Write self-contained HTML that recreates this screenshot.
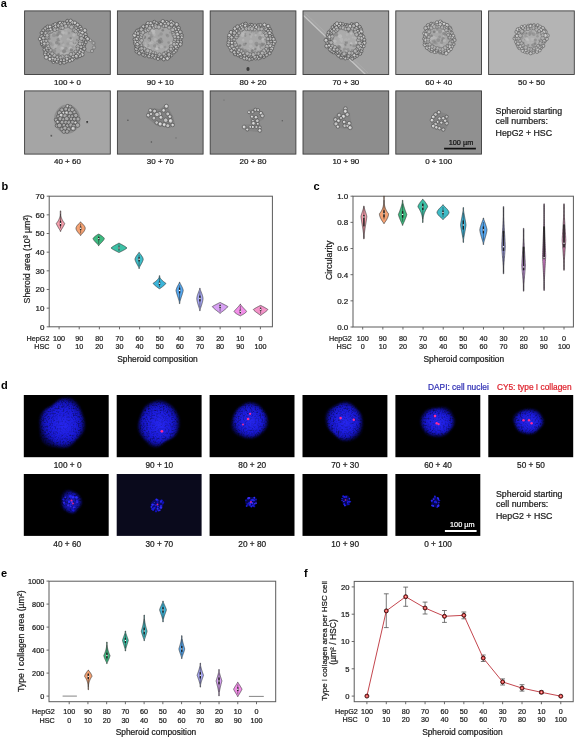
<!DOCTYPE html>
<html><head><meta charset="utf-8"><title>Spheroid figure</title>
<style>html,body{margin:0;padding:0;background:#fff;} svg{display:block;}</style></head>
<body><svg width="575" height="737" viewBox="0 0 575 737" font-family="'Liberation Sans', Arial, sans-serif">
<defs>
<filter id="soft" x="-5%" y="-5%" width="110%" height="110%"><feGaussianBlur stdDeviation="0.3"/></filter>
<radialGradient id="gblue" cx="50%" cy="50%" r="50%">
<stop offset="0%" stop-color="#2424e8"/><stop offset="55%" stop-color="#1c1cdc"/><stop offset="82%" stop-color="#1515c8" stop-opacity="0.95"/><stop offset="100%" stop-color="#0a0a90" stop-opacity="0.5"/></radialGradient>
<radialGradient id="gcore" cx="50%" cy="50%" r="50%">
<stop offset="0%" stop-color="#2828f4" stop-opacity="0.7"/><stop offset="60%" stop-color="#2020e8" stop-opacity="0.35"/><stop offset="100%" stop-color="#1a1af0" stop-opacity="0"/></radialGradient>
<filter id="speck" x="-15%" y="-15%" width="130%" height="130%" color-interpolation-filters="sRGB">
<feGaussianBlur in="SourceGraphic" stdDeviation="0.9" result="b"/>
<feTurbulence type="fractalNoise" baseFrequency="0.6" numOctaves="2" seed="4" result="n"/>
<feColorMatrix in="n" type="matrix" values="0 0 0 0 0  0 0 0 0 0  0 0 0 0 0  1.4 0 0 0 0.22" result="m"/>
<feComposite in="b" in2="m" operator="in"/>
</filter>
</defs>
<rect width="575" height="737" fill="#fff"/>
<g><rect x="24.60" y="10.90" width="85.7" height="63.6" fill="#929292"/>
<g filter="url(#soft)"><ellipse cx="89.5" cy="46" rx="5.5" ry="6.5" fill="#9d9d9d" stroke="#707070" stroke-width="0.5"/><circle cx="93.5" cy="43.0" r="1.56" fill="#b0b0b0" stroke="#666" stroke-width="0.6"/>
<circle cx="94.0" cy="47.5" r="1.63" fill="#b0b0b0" stroke="#666" stroke-width="0.6"/>
<circle cx="92.0" cy="51.0" r="1.61" fill="#b0b0b0" stroke="#666" stroke-width="0.6"/>
<circle cx="90.5" cy="40.5" r="1.29" fill="#b0b0b0" stroke="#666" stroke-width="0.6"/>
<circle cx="90.2" cy="40.2" r="0.58" fill="#ececec" opacity="0.75"/><polygon points="85.74,41.80 85.06,43.51 84.43,45.15 83.89,46.75 83.45,48.38 83.01,50.05 82.47,51.73 81.72,53.36 80.71,54.88 79.42,56.21 77.92,57.35 76.26,58.28 74.54,59.06 72.78,59.74 71.01,60.36 69.23,60.94 67.40,61.46 65.53,61.89 63.60,62.20 61.63,62.35 59.63,62.34 57.62,62.14 55.62,61.77 53.66,61.22 51.78,60.45 50.02,59.47 48.45,58.26 47.10,56.84 46.00,55.26 45.13,53.58 44.45,51.87 43.87,50.18 43.30,48.53 42.70,46.90 42.05,45.26 41.41,43.57 40.86,41.80 40.50,39.96 40.42,38.08 40.68,36.20 41.28,34.40 42.19,32.70 43.36,31.15 44.73,29.76 46.25,28.53 47.88,27.48 49.60,26.60 51.38,25.89 53.16,25.33 54.93,24.86 56.66,24.42 58.35,23.94 60.04,23.39 61.77,22.76 63.60,22.11 65.54,21.55 67.59,21.19 69.67,21.15 71.72,21.47 73.65,22.16 75.42,23.15 77.03,24.32 78.54,25.58 79.99,26.87 81.44,28.16 82.87,29.51 84.22,30.95 85.39,32.54 86.23,34.30 86.67,36.17 86.68,38.09 86.33,39.99" fill="#a6a6a6"/>
<circle cx="76.1" cy="49.1" r="1.6" fill="#bcbcbc" opacity="0.56"/>
<circle cx="54.5" cy="48.2" r="1.6" fill="#bcbcbc" opacity="0.41"/>
<circle cx="75.3" cy="42.8" r="0.9" fill="#727272" opacity="0.66"/>
<circle cx="51.3" cy="33.7" r="1.4" fill="#b8b8b8" opacity="0.64"/>
<circle cx="49.7" cy="40.3" r="0.9" fill="#c4c4c4" opacity="0.38"/>
<circle cx="57.9" cy="34.1" r="2.0" fill="#8a8a8a" opacity="0.64"/>
<circle cx="61.4" cy="34.3" r="1.5" fill="#7e7e7e" opacity="0.36"/>
<circle cx="58.2" cy="39.7" r="1.8" fill="#727272" opacity="0.49"/>
<circle cx="79.5" cy="37.9" r="1.1" fill="#727272" opacity="0.67"/>
<circle cx="72.8" cy="44.6" r="1.3" fill="#bcbcbc" opacity="0.38"/>
<circle cx="53.6" cy="32.1" r="1.3" fill="#b8b8b8" opacity="0.46"/>
<circle cx="73.9" cy="42.7" r="1.0" fill="#727272" opacity="0.60"/>
<circle cx="74.6" cy="42.5" r="1.1" fill="#c4c4c4" opacity="0.55"/>
<circle cx="56.9" cy="43.9" r="1.7" fill="#bcbcbc" opacity="0.50"/>
<circle cx="55.5" cy="48.4" r="0.9" fill="#7e7e7e" opacity="0.65"/>
<circle cx="76.9" cy="39.9" r="1.1" fill="#727272" opacity="0.49"/>
<circle cx="72.1" cy="31.7" r="0.9" fill="#727272" opacity="0.40"/>
<circle cx="62.1" cy="42.3" r="1.3" fill="#8a8a8a" opacity="0.45"/>
<circle cx="67.9" cy="43.8" r="1.6" fill="#8a8a8a" opacity="0.36"/>
<circle cx="54.2" cy="51.1" r="2.0" fill="#7e7e7e" opacity="0.52"/>
<circle cx="48.9" cy="35.0" r="1.6" fill="#7e7e7e" opacity="0.46"/>
<circle cx="65.3" cy="53.4" r="1.1" fill="#bcbcbc" opacity="0.61"/>
<circle cx="71.1" cy="39.1" r="1.9" fill="#c4c4c4" opacity="0.56"/>
<circle cx="58.9" cy="44.1" r="1.5" fill="#727272" opacity="0.44"/>
<circle cx="63.0" cy="32.8" r="1.8" fill="#c4c4c4" opacity="0.56"/>
<circle cx="61.6" cy="48.2" r="2.0" fill="#bcbcbc" opacity="0.39"/>
<circle cx="50.3" cy="43.4" r="1.6" fill="#8a8a8a" opacity="0.45"/>
<circle cx="70.6" cy="38.2" r="1.0" fill="#727272" opacity="0.49"/>
<circle cx="63.6" cy="45.1" r="1.3" fill="#b8b8b8" opacity="0.55"/>
<circle cx="70.4" cy="48.6" r="2.0" fill="#c4c4c4" opacity="0.58"/>
<circle cx="59.4" cy="31.9" r="1.5" fill="#7e7e7e" opacity="0.67"/>
<circle cx="53.9" cy="43.2" r="2.0" fill="#b8b8b8" opacity="0.36"/>
<circle cx="56.1" cy="34.0" r="1.2" fill="#bcbcbc" opacity="0.40"/>
<circle cx="73.3" cy="46.1" r="1.7" fill="#b8b8b8" opacity="0.67"/>
<circle cx="62.5" cy="29.8" r="1.3" fill="#b8b8b8" opacity="0.59"/>
<circle cx="77.0" cy="33.1" r="1.9" fill="#c4c4c4" opacity="0.36"/>
<circle cx="61.5" cy="41.8" r="1.3" fill="#bcbcbc" opacity="0.55"/>
<circle cx="59.9" cy="39.0" r="1.0" fill="#bcbcbc" opacity="0.44"/>
<circle cx="55.4" cy="46.2" r="1.7" fill="#bcbcbc" opacity="0.51"/>
<circle cx="52.0" cy="44.3" r="1.7" fill="#8a8a8a" opacity="0.36"/>
<circle cx="54.0" cy="35.3" r="2.0" fill="#7e7e7e" opacity="0.39"/>
<circle cx="66.2" cy="29.2" r="1.2" fill="#c4c4c4" opacity="0.35"/>
<circle cx="59.1" cy="54.2" r="1.5" fill="#7e7e7e" opacity="0.61"/>
<circle cx="54.2" cy="54.8" r="1.9" fill="#c4c4c4" opacity="0.46"/>
<circle cx="60.1" cy="36.3" r="1.8" fill="#c4c4c4" opacity="0.61"/>
<circle cx="65.9" cy="48.3" r="1.5" fill="#7e7e7e" opacity="0.46"/>
<circle cx="71.3" cy="49.9" r="1.7" fill="#727272" opacity="0.68"/>
<circle cx="62.4" cy="48.1" r="1.4" fill="#c4c4c4" opacity="0.67"/>
<circle cx="68.9" cy="33.1" r="1.4" fill="#8a8a8a" opacity="0.46"/>
<circle cx="72.9" cy="28.3" r="1.3" fill="#c4c4c4" opacity="0.64"/>
<circle cx="61.2" cy="53.8" r="1.7" fill="#bcbcbc" opacity="0.55"/>
<circle cx="57.9" cy="55.0" r="1.6" fill="#727272" opacity="0.49"/>
<circle cx="68.9" cy="53.9" r="1.2" fill="#b8b8b8" opacity="0.40"/>
<circle cx="75.6" cy="45.1" r="1.0" fill="#c4c4c4" opacity="0.54"/>
<circle cx="57.3" cy="34.9" r="1.7" fill="#727272" opacity="0.42"/>
<circle cx="56.7" cy="42.8" r="1.7" fill="#727272" opacity="0.54"/>
<circle cx="70.9" cy="43.3" r="1.5" fill="#b8b8b8" opacity="0.68"/>
<circle cx="46.6" cy="41.8" r="1.3" fill="#7e7e7e" opacity="0.63"/>
<circle cx="67.9" cy="39.2" r="1.3" fill="#bcbcbc" opacity="0.51"/>
<circle cx="68.6" cy="55.0" r="1.3" fill="#727272" opacity="0.55"/>
<circle cx="74.9" cy="32.1" r="1.4" fill="#b8b8b8" opacity="0.58"/>
<circle cx="67.5" cy="53.9" r="1.9" fill="#bcbcbc" opacity="0.39"/>
<circle cx="64.1" cy="51.3" r="2.0" fill="#727272" opacity="0.54"/>
<circle cx="66.1" cy="33.0" r="1.8" fill="#bcbcbc" opacity="0.47"/>
<circle cx="73.0" cy="46.7" r="1.4" fill="#8a8a8a" opacity="0.45"/>
<circle cx="70.9" cy="38.1" r="1.4" fill="#727272" opacity="0.36"/>
<circle cx="49.2" cy="39.0" r="1.4" fill="#7e7e7e" opacity="0.70"/>
<circle cx="73.9" cy="35.0" r="1.7" fill="#bcbcbc" opacity="0.68"/>
<circle cx="47.2" cy="42.5" r="1.7" fill="#727272" opacity="0.50"/>
<circle cx="48.5" cy="36.5" r="1.6" fill="#8a8a8a" opacity="0.53"/>
<circle cx="85.7" cy="42.3" r="1.59" fill="#b3b3b3" stroke="#474747" stroke-width="0.65"/>
<circle cx="83.9" cy="44.8" r="1.92" fill="#b3b3b3" stroke="#474747" stroke-width="0.65"/>
<circle cx="83.3" cy="46.7" r="1.73" fill="#b3b3b3" stroke="#474747" stroke-width="0.65"/>
<circle cx="84.3" cy="48.8" r="1.72" fill="#b3b3b3" stroke="#474747" stroke-width="0.65"/>
<circle cx="82.4" cy="51.8" r="1.82" fill="#c8c8c8" stroke="#474747" stroke-width="0.65"/>
<circle cx="82.1" cy="54.6" r="1.97" fill="#c8c8c8" stroke="#474747" stroke-width="0.65"/>
<circle cx="79.8" cy="55.7" r="1.90" fill="#b3b3b3" stroke="#474747" stroke-width="0.65"/>
<circle cx="76.9" cy="57.2" r="1.78" fill="#b3b3b3" stroke="#474747" stroke-width="0.65"/>
<circle cx="76.5" cy="56.8" r="0.71" fill="#e6e6e6" opacity="0.6"/>
<circle cx="73.6" cy="58.4" r="1.52" fill="#c8c8c8" stroke="#474747" stroke-width="0.65"/>
<circle cx="72.1" cy="59.7" r="1.78" fill="#c8c8c8" stroke="#474747" stroke-width="0.65"/>
<circle cx="69.8" cy="60.8" r="1.55" fill="#c8c8c8" stroke="#474747" stroke-width="0.65"/>
<circle cx="66.5" cy="61.4" r="1.65" fill="#b3b3b3" stroke="#474747" stroke-width="0.65"/>
<circle cx="66.1" cy="61.0" r="0.66" fill="#e6e6e6" opacity="0.6"/>
<circle cx="64.1" cy="62.4" r="1.79" fill="#b3b3b3" stroke="#474747" stroke-width="0.65"/>
<circle cx="60.3" cy="63.1" r="1.54" fill="#b3b3b3" stroke="#474747" stroke-width="0.65"/>
<circle cx="57.0" cy="61.7" r="1.59" fill="#b3b3b3" stroke="#474747" stroke-width="0.65"/>
<circle cx="56.6" cy="61.3" r="0.64" fill="#e6e6e6" opacity="0.6"/>
<circle cx="53.4" cy="62.0" r="1.48" fill="#c8c8c8" stroke="#474747" stroke-width="0.65"/>
<circle cx="52.6" cy="59.9" r="1.91" fill="#b3b3b3" stroke="#474747" stroke-width="0.65"/>
<circle cx="49.9" cy="59.1" r="1.82" fill="#c8c8c8" stroke="#474747" stroke-width="0.65"/>
<circle cx="49.5" cy="58.7" r="0.73" fill="#e6e6e6" opacity="0.6"/>
<circle cx="46.2" cy="57.2" r="1.99" fill="#c8c8c8" stroke="#474747" stroke-width="0.65"/>
<circle cx="45.3" cy="54.0" r="1.82" fill="#c8c8c8" stroke="#474747" stroke-width="0.65"/>
<circle cx="44.9" cy="53.6" r="0.73" fill="#e6e6e6" opacity="0.6"/>
<circle cx="45.6" cy="52.0" r="1.74" fill="#b3b3b3" stroke="#474747" stroke-width="0.65"/>
<circle cx="44.4" cy="49.6" r="1.52" fill="#b3b3b3" stroke="#474747" stroke-width="0.65"/>
<circle cx="43.3" cy="46.1" r="1.44" fill="#b3b3b3" stroke="#474747" stroke-width="0.65"/>
<circle cx="42.0" cy="44.0" r="1.69" fill="#b3b3b3" stroke="#474747" stroke-width="0.65"/>
<circle cx="41.9" cy="41.6" r="1.83" fill="#b3b3b3" stroke="#474747" stroke-width="0.65"/>
<circle cx="41.5" cy="41.2" r="0.73" fill="#e6e6e6" opacity="0.6"/>
<circle cx="39.9" cy="39.0" r="1.65" fill="#c8c8c8" stroke="#474747" stroke-width="0.65"/>
<circle cx="39.5" cy="38.6" r="0.66" fill="#e6e6e6" opacity="0.6"/>
<circle cx="41.8" cy="36.5" r="1.95" fill="#b3b3b3" stroke="#474747" stroke-width="0.65"/>
<circle cx="41.7" cy="32.9" r="1.65" fill="#b3b3b3" stroke="#474747" stroke-width="0.65"/>
<circle cx="43.3" cy="30.2" r="1.56" fill="#b3b3b3" stroke="#474747" stroke-width="0.65"/>
<circle cx="45.3" cy="28.4" r="1.65" fill="#b3b3b3" stroke="#474747" stroke-width="0.65"/>
<circle cx="47.8" cy="26.9" r="1.87" fill="#b3b3b3" stroke="#474747" stroke-width="0.65"/>
<circle cx="50.0" cy="26.8" r="1.69" fill="#c8c8c8" stroke="#474747" stroke-width="0.65"/>
<circle cx="49.6" cy="26.4" r="0.67" fill="#e6e6e6" opacity="0.6"/>
<circle cx="53.3" cy="25.1" r="1.54" fill="#b3b3b3" stroke="#474747" stroke-width="0.65"/>
<circle cx="55.4" cy="24.4" r="1.75" fill="#b3b3b3" stroke="#474747" stroke-width="0.65"/>
<circle cx="55.0" cy="24.0" r="0.70" fill="#e6e6e6" opacity="0.6"/>
<circle cx="59.0" cy="23.4" r="1.83" fill="#b3b3b3" stroke="#474747" stroke-width="0.65"/>
<circle cx="60.1" cy="23.1" r="1.85" fill="#c8c8c8" stroke="#474747" stroke-width="0.65"/>
<circle cx="62.9" cy="23.0" r="1.63" fill="#c8c8c8" stroke="#474747" stroke-width="0.65"/>
<circle cx="62.5" cy="22.6" r="0.65" fill="#e6e6e6" opacity="0.6"/>
<circle cx="67.3" cy="21.1" r="1.71" fill="#b3b3b3" stroke="#474747" stroke-width="0.65"/>
<circle cx="70.7" cy="21.0" r="1.90" fill="#c8c8c8" stroke="#474747" stroke-width="0.65"/>
<circle cx="72.7" cy="22.8" r="1.97" fill="#c8c8c8" stroke="#474747" stroke-width="0.65"/>
<circle cx="74.9" cy="22.8" r="1.77" fill="#c8c8c8" stroke="#474747" stroke-width="0.65"/>
<circle cx="77.7" cy="24.8" r="1.77" fill="#b3b3b3" stroke="#474747" stroke-width="0.65"/>
<circle cx="77.3" cy="24.4" r="0.71" fill="#e6e6e6" opacity="0.6"/>
<circle cx="80.3" cy="27.0" r="1.57" fill="#b3b3b3" stroke="#474747" stroke-width="0.65"/>
<circle cx="79.9" cy="26.6" r="0.63" fill="#e6e6e6" opacity="0.6"/>
<circle cx="81.1" cy="28.6" r="1.43" fill="#c8c8c8" stroke="#474747" stroke-width="0.65"/>
<circle cx="84.9" cy="30.4" r="1.86" fill="#c8c8c8" stroke="#474747" stroke-width="0.65"/>
<circle cx="85.2" cy="34.4" r="1.95" fill="#b3b3b3" stroke="#474747" stroke-width="0.65"/>
<circle cx="86.1" cy="37.1" r="1.72" fill="#b3b3b3" stroke="#474747" stroke-width="0.65"/>
<circle cx="87.7" cy="38.9" r="1.90" fill="#b3b3b3" stroke="#474747" stroke-width="0.65"/>
<circle cx="87.3" cy="38.5" r="0.76" fill="#e6e6e6" opacity="0.6"/>
<circle cx="82.7" cy="42.0" r="1.52" fill="#c8c8c8" stroke="#474747" stroke-width="0.65"/>
<circle cx="82.0" cy="43.8" r="1.81" fill="#b3b3b3" stroke="#474747" stroke-width="0.65"/>
<circle cx="81.6" cy="43.4" r="0.72" fill="#e6e6e6" opacity="0.6"/>
<circle cx="80.9" cy="46.9" r="1.88" fill="#b3b3b3" stroke="#474747" stroke-width="0.65"/>
<circle cx="80.5" cy="50.3" r="1.55" fill="#c8c8c8" stroke="#474747" stroke-width="0.65"/>
<circle cx="79.3" cy="52.4" r="1.62" fill="#c8c8c8" stroke="#474747" stroke-width="0.65"/>
<circle cx="77.7" cy="54.3" r="1.79" fill="#b3b3b3" stroke="#474747" stroke-width="0.65"/>
<circle cx="77.3" cy="53.9" r="0.72" fill="#e6e6e6" opacity="0.6"/>
<circle cx="76.3" cy="56.2" r="1.96" fill="#b3b3b3" stroke="#474747" stroke-width="0.65"/>
<circle cx="75.9" cy="55.8" r="0.78" fill="#e6e6e6" opacity="0.6"/>
<circle cx="73.1" cy="56.4" r="1.66" fill="#b3b3b3" stroke="#474747" stroke-width="0.65"/>
<circle cx="72.7" cy="56.0" r="0.66" fill="#e6e6e6" opacity="0.6"/>
<circle cx="69.6" cy="57.3" r="1.45" fill="#b3b3b3" stroke="#474747" stroke-width="0.65"/>
<circle cx="67.0" cy="58.7" r="1.69" fill="#c8c8c8" stroke="#474747" stroke-width="0.65"/>
<circle cx="66.6" cy="58.3" r="0.68" fill="#e6e6e6" opacity="0.6"/>
<circle cx="63.9" cy="60.1" r="1.45" fill="#c8c8c8" stroke="#474747" stroke-width="0.65"/>
<circle cx="61.0" cy="60.2" r="1.53" fill="#b3b3b3" stroke="#474747" stroke-width="0.65"/>
<circle cx="60.6" cy="59.8" r="0.61" fill="#e6e6e6" opacity="0.6"/>
<circle cx="57.8" cy="59.2" r="1.80" fill="#b3b3b3" stroke="#474747" stroke-width="0.65"/>
<circle cx="57.4" cy="58.8" r="0.72" fill="#e6e6e6" opacity="0.6"/>
<circle cx="54.9" cy="59.2" r="1.96" fill="#b3b3b3" stroke="#474747" stroke-width="0.65"/>
<circle cx="54.5" cy="58.8" r="0.79" fill="#e6e6e6" opacity="0.6"/>
<circle cx="52.7" cy="58.5" r="1.45" fill="#c8c8c8" stroke="#474747" stroke-width="0.65"/>
<circle cx="49.8" cy="56.0" r="1.58" fill="#b3b3b3" stroke="#474747" stroke-width="0.65"/>
<circle cx="49.4" cy="55.6" r="0.63" fill="#e6e6e6" opacity="0.6"/>
<circle cx="48.2" cy="54.0" r="1.45" fill="#b3b3b3" stroke="#474747" stroke-width="0.65"/>
<circle cx="47.3" cy="50.3" r="1.49" fill="#b3b3b3" stroke="#474747" stroke-width="0.65"/>
<circle cx="46.9" cy="48.2" r="1.83" fill="#b3b3b3" stroke="#474747" stroke-width="0.65"/>
<circle cx="44.2" cy="45.2" r="1.67" fill="#b3b3b3" stroke="#474747" stroke-width="0.65"/>
<circle cx="43.8" cy="44.8" r="0.67" fill="#e6e6e6" opacity="0.6"/>
<circle cx="44.5" cy="43.4" r="1.97" fill="#b3b3b3" stroke="#474747" stroke-width="0.65"/>
<circle cx="44.1" cy="43.0" r="0.79" fill="#e6e6e6" opacity="0.6"/>
<circle cx="43.8" cy="40.6" r="1.62" fill="#b3b3b3" stroke="#474747" stroke-width="0.65"/>
<circle cx="43.4" cy="40.2" r="0.65" fill="#e6e6e6" opacity="0.6"/>
<circle cx="43.3" cy="38.0" r="1.89" fill="#b3b3b3" stroke="#474747" stroke-width="0.65"/>
<circle cx="45.1" cy="34.9" r="1.86" fill="#b3b3b3" stroke="#474747" stroke-width="0.65"/>
<circle cx="44.7" cy="34.5" r="0.75" fill="#e6e6e6" opacity="0.6"/>
<circle cx="45.6" cy="33.0" r="1.73" fill="#b3b3b3" stroke="#474747" stroke-width="0.65"/>
<circle cx="48.1" cy="29.8" r="1.44" fill="#b3b3b3" stroke="#474747" stroke-width="0.65"/>
<circle cx="50.8" cy="29.7" r="1.85" fill="#b3b3b3" stroke="#474747" stroke-width="0.65"/>
<circle cx="50.4" cy="29.3" r="0.74" fill="#e6e6e6" opacity="0.6"/>
<circle cx="54.2" cy="28.2" r="1.86" fill="#b3b3b3" stroke="#474747" stroke-width="0.65"/>
<circle cx="53.8" cy="27.8" r="0.74" fill="#e6e6e6" opacity="0.6"/>
<circle cx="55.7" cy="26.7" r="1.72" fill="#b3b3b3" stroke="#474747" stroke-width="0.65"/>
<circle cx="55.3" cy="26.3" r="0.69" fill="#e6e6e6" opacity="0.6"/>
<circle cx="58.4" cy="25.6" r="1.81" fill="#b3b3b3" stroke="#474747" stroke-width="0.65"/>
<circle cx="61.8" cy="24.9" r="1.96" fill="#b3b3b3" stroke="#474747" stroke-width="0.65"/>
<circle cx="64.7" cy="23.7" r="1.89" fill="#b3b3b3" stroke="#474747" stroke-width="0.65"/>
<circle cx="68.4" cy="23.6" r="1.72" fill="#b3b3b3" stroke="#474747" stroke-width="0.65"/>
<circle cx="70.4" cy="24.2" r="1.49" fill="#b3b3b3" stroke="#474747" stroke-width="0.65"/>
<circle cx="72.9" cy="25.7" r="1.53" fill="#b3b3b3" stroke="#474747" stroke-width="0.65"/>
<circle cx="72.5" cy="25.3" r="0.61" fill="#e6e6e6" opacity="0.6"/>
<circle cx="76.0" cy="28.3" r="1.59" fill="#c8c8c8" stroke="#474747" stroke-width="0.65"/>
<circle cx="78.0" cy="29.8" r="1.44" fill="#b3b3b3" stroke="#474747" stroke-width="0.65"/>
<circle cx="80.1" cy="32.1" r="1.47" fill="#c8c8c8" stroke="#474747" stroke-width="0.65"/>
<circle cx="79.7" cy="31.7" r="0.59" fill="#e6e6e6" opacity="0.6"/>
<circle cx="82.4" cy="32.8" r="1.76" fill="#c8c8c8" stroke="#474747" stroke-width="0.65"/>
<circle cx="82.0" cy="32.4" r="0.71" fill="#e6e6e6" opacity="0.6"/>
<circle cx="82.8" cy="35.9" r="1.86" fill="#b3b3b3" stroke="#474747" stroke-width="0.65"/>
<circle cx="83.5" cy="39.5" r="1.56" fill="#b3b3b3" stroke="#474747" stroke-width="0.65"/>
<circle cx="80.2" cy="41.5" r="1.99" fill="#b0b0b0" stroke="#474747" stroke-width="0.45"/>
<circle cx="79.9" cy="43.8" r="1.89" fill="#b0b0b0" stroke="#474747" stroke-width="0.45"/>
<circle cx="77.9" cy="46.7" r="2.01" fill="#b0b0b0" stroke="#474747" stroke-width="0.45"/>
<circle cx="77.7" cy="48.6" r="1.63" fill="#b0b0b0" stroke="#474747" stroke-width="0.45"/>
<circle cx="75.5" cy="51.5" r="1.50" fill="#b0b0b0" stroke="#474747" stroke-width="0.45"/>
<circle cx="73.3" cy="53.8" r="1.79" fill="#b0b0b0" stroke="#474747" stroke-width="0.45"/>
<circle cx="70.9" cy="54.3" r="1.87" fill="#b0b0b0" stroke="#474747" stroke-width="0.45"/>
<circle cx="68.1" cy="56.3" r="1.45" fill="#b0b0b0" stroke="#474747" stroke-width="0.45"/>
<circle cx="66.5" cy="56.3" r="1.69" fill="#b0b0b0" stroke="#474747" stroke-width="0.45"/>
<circle cx="62.2" cy="56.7" r="1.88" fill="#b0b0b0" stroke="#474747" stroke-width="0.45"/>
<circle cx="60.5" cy="57.5" r="1.53" fill="#b0b0b0" stroke="#474747" stroke-width="0.45"/>
<circle cx="57.2" cy="57.0" r="1.59" fill="#b0b0b0" stroke="#474747" stroke-width="0.45"/>
<circle cx="54.3" cy="55.3" r="1.84" fill="#b0b0b0" stroke="#474747" stroke-width="0.45"/>
<circle cx="52.2" cy="53.6" r="1.68" fill="#b0b0b0" stroke="#474747" stroke-width="0.45"/>
<circle cx="50.6" cy="50.1" r="1.63" fill="#b0b0b0" stroke="#474747" stroke-width="0.45"/>
<circle cx="49.1" cy="48.1" r="1.41" fill="#b0b0b0" stroke="#474747" stroke-width="0.45"/>
<circle cx="48.2" cy="46.2" r="1.58" fill="#b0b0b0" stroke="#474747" stroke-width="0.45"/>
<circle cx="47.6" cy="43.4" r="1.64" fill="#b0b0b0" stroke="#474747" stroke-width="0.45"/>
<circle cx="46.2" cy="40.9" r="1.60" fill="#b0b0b0" stroke="#474747" stroke-width="0.45"/>
<circle cx="47.1" cy="37.2" r="1.91" fill="#b0b0b0" stroke="#474747" stroke-width="0.45"/>
<circle cx="47.2" cy="35.4" r="1.83" fill="#b0b0b0" stroke="#474747" stroke-width="0.45"/>
<circle cx="50.2" cy="32.2" r="1.46" fill="#b0b0b0" stroke="#474747" stroke-width="0.45"/>
<circle cx="51.8" cy="31.5" r="1.44" fill="#b0b0b0" stroke="#474747" stroke-width="0.45"/>
<circle cx="54.9" cy="29.7" r="1.87" fill="#b0b0b0" stroke="#474747" stroke-width="0.45"/>
<circle cx="57.4" cy="29.3" r="1.41" fill="#b0b0b0" stroke="#474747" stroke-width="0.45"/>
<circle cx="60.9" cy="27.8" r="1.80" fill="#b0b0b0" stroke="#474747" stroke-width="0.45"/>
<circle cx="62.6" cy="27.8" r="1.80" fill="#b0b0b0" stroke="#474747" stroke-width="0.45"/>
<circle cx="65.9" cy="26.2" r="1.91" fill="#b0b0b0" stroke="#474747" stroke-width="0.45"/>
<circle cx="69.7" cy="26.1" r="1.74" fill="#b0b0b0" stroke="#474747" stroke-width="0.45"/>
<circle cx="71.5" cy="27.1" r="2.00" fill="#b0b0b0" stroke="#474747" stroke-width="0.45"/>
<circle cx="74.5" cy="30.3" r="1.98" fill="#b0b0b0" stroke="#474747" stroke-width="0.45"/>
<circle cx="75.7" cy="31.3" r="1.75" fill="#b0b0b0" stroke="#474747" stroke-width="0.45"/>
<circle cx="79.0" cy="34.3" r="1.68" fill="#b0b0b0" stroke="#474747" stroke-width="0.45"/>
<circle cx="80.7" cy="35.2" r="1.73" fill="#b0b0b0" stroke="#474747" stroke-width="0.45"/>
<circle cx="81.4" cy="38.4" r="2.01" fill="#b0b0b0" stroke="#474747" stroke-width="0.45"/></g>
<rect x="24.60" y="10.90" width="85.7" height="63.6" fill="none" stroke="#3c3c3c" stroke-width="0.9"/></g>
<g><rect x="117.40" y="10.90" width="85.7" height="63.6" fill="#8f8f8f"/>
<g filter="url(#soft)"><polygon points="181.01,39.80 180.69,41.37 180.15,42.89 179.45,44.35 178.68,45.76 177.87,47.13 177.04,48.50 176.17,49.87 175.22,51.24 174.14,52.58 172.91,53.86 171.50,55.06 169.92,56.15 168.19,57.09 166.31,57.86 164.31,58.44 162.23,58.78 160.11,58.86 158.00,58.68 155.96,58.26 154.02,57.68 152.17,57.03 150.38,56.38 148.57,55.80 146.70,55.30 144.72,54.81 142.67,54.26 140.64,53.54 138.79,52.56 137.25,51.30 136.12,49.80 135.42,48.14 135.08,46.40 134.97,44.68 134.95,43.02 134.91,41.40 134.82,39.80 134.72,38.19 134.73,36.55 134.97,34.92 135.52,33.32 136.41,31.83 137.59,30.48 138.97,29.25 140.45,28.14 141.95,27.10 143.47,26.09 145.02,25.13 146.66,24.25 148.42,23.53 150.28,23.02 152.22,22.73 154.18,22.63 156.10,22.64 158.00,22.66 159.90,22.58 161.88,22.39 163.98,22.13 166.23,21.89 168.58,21.84 170.92,22.09 173.10,22.73 175.00,23.76 176.54,25.13 177.71,26.71 178.57,28.40 179.22,30.10 179.76,31.77 180.23,33.40 180.65,35.00 180.96,36.60 181.10,38.20" fill="#a6a6a6"/>
<circle cx="165.1" cy="47.1" r="1.3" fill="#7e7e7e" opacity="0.42"/>
<circle cx="150.9" cy="36.9" r="1.7" fill="#8a8a8a" opacity="0.47"/>
<circle cx="143.6" cy="47.6" r="1.9" fill="#727272" opacity="0.64"/>
<circle cx="153.8" cy="34.4" r="1.9" fill="#c4c4c4" opacity="0.39"/>
<circle cx="151.9" cy="42.3" r="1.9" fill="#b8b8b8" opacity="0.55"/>
<circle cx="174.2" cy="37.9" r="1.1" fill="#8a8a8a" opacity="0.64"/>
<circle cx="148.0" cy="45.5" r="1.4" fill="#8a8a8a" opacity="0.56"/>
<circle cx="144.2" cy="36.9" r="2.0" fill="#727272" opacity="0.69"/>
<circle cx="152.8" cy="32.9" r="1.9" fill="#b8b8b8" opacity="0.48"/>
<circle cx="154.9" cy="46.0" r="1.3" fill="#b8b8b8" opacity="0.53"/>
<circle cx="162.8" cy="30.3" r="1.3" fill="#727272" opacity="0.65"/>
<circle cx="160.6" cy="40.2" r="1.4" fill="#bcbcbc" opacity="0.49"/>
<circle cx="158.7" cy="35.6" r="1.1" fill="#8a8a8a" opacity="0.38"/>
<circle cx="156.3" cy="48.7" r="1.3" fill="#c4c4c4" opacity="0.57"/>
<circle cx="168.6" cy="42.6" r="1.3" fill="#7e7e7e" opacity="0.51"/>
<circle cx="152.9" cy="28.1" r="2.0" fill="#7e7e7e" opacity="0.41"/>
<circle cx="167.7" cy="35.8" r="1.7" fill="#7e7e7e" opacity="0.43"/>
<circle cx="144.9" cy="31.5" r="1.1" fill="#b8b8b8" opacity="0.63"/>
<circle cx="149.3" cy="39.7" r="2.0" fill="#727272" opacity="0.70"/>
<circle cx="155.3" cy="39.8" r="1.9" fill="#b8b8b8" opacity="0.58"/>
<circle cx="156.9" cy="44.4" r="1.5" fill="#8a8a8a" opacity="0.52"/>
<circle cx="149.2" cy="49.0" r="1.9" fill="#c4c4c4" opacity="0.41"/>
<circle cx="153.9" cy="51.9" r="1.3" fill="#b8b8b8" opacity="0.65"/>
<circle cx="150.8" cy="32.9" r="1.7" fill="#7e7e7e" opacity="0.53"/>
<circle cx="159.0" cy="39.9" r="1.0" fill="#727272" opacity="0.66"/>
<circle cx="149.9" cy="43.3" r="1.4" fill="#c4c4c4" opacity="0.37"/>
<circle cx="144.3" cy="34.7" r="1.7" fill="#b8b8b8" opacity="0.50"/>
<circle cx="143.8" cy="32.8" r="1.5" fill="#7e7e7e" opacity="0.47"/>
<circle cx="147.4" cy="48.9" r="1.1" fill="#8a8a8a" opacity="0.59"/>
<circle cx="159.7" cy="41.8" r="1.9" fill="#727272" opacity="0.67"/>
<circle cx="142.6" cy="37.1" r="1.8" fill="#c4c4c4" opacity="0.60"/>
<circle cx="161.5" cy="46.7" r="1.7" fill="#bcbcbc" opacity="0.52"/>
<circle cx="151.9" cy="35.8" r="1.7" fill="#8a8a8a" opacity="0.49"/>
<circle cx="158.3" cy="48.9" r="1.0" fill="#b8b8b8" opacity="0.47"/>
<circle cx="152.4" cy="29.3" r="1.7" fill="#b8b8b8" opacity="0.62"/>
<circle cx="149.1" cy="28.8" r="1.1" fill="#b8b8b8" opacity="0.42"/>
<circle cx="149.5" cy="33.2" r="1.6" fill="#727272" opacity="0.47"/>
<circle cx="158.8" cy="48.0" r="0.9" fill="#7e7e7e" opacity="0.48"/>
<circle cx="156.6" cy="45.8" r="1.2" fill="#c4c4c4" opacity="0.53"/>
<circle cx="168.1" cy="50.3" r="1.1" fill="#b8b8b8" opacity="0.51"/>
<circle cx="145.6" cy="32.0" r="1.4" fill="#7e7e7e" opacity="0.62"/>
<circle cx="171.9" cy="43.3" r="1.5" fill="#c4c4c4" opacity="0.62"/>
<circle cx="145.7" cy="47.3" r="1.0" fill="#bcbcbc" opacity="0.39"/>
<circle cx="149.0" cy="36.4" r="0.9" fill="#bcbcbc" opacity="0.62"/>
<circle cx="170.0" cy="32.5" r="1.0" fill="#7e7e7e" opacity="0.43"/>
<circle cx="149.4" cy="37.8" r="1.4" fill="#727272" opacity="0.48"/>
<circle cx="145.4" cy="46.3" r="1.3" fill="#b8b8b8" opacity="0.66"/>
<circle cx="166.6" cy="34.7" r="1.2" fill="#7e7e7e" opacity="0.36"/>
<circle cx="149.7" cy="29.7" r="1.4" fill="#c4c4c4" opacity="0.57"/>
<circle cx="157.1" cy="48.6" r="1.4" fill="#c4c4c4" opacity="0.68"/>
<circle cx="161.1" cy="34.0" r="1.8" fill="#7e7e7e" opacity="0.39"/>
<circle cx="156.2" cy="52.7" r="1.9" fill="#bcbcbc" opacity="0.64"/>
<circle cx="148.4" cy="49.2" r="1.7" fill="#b8b8b8" opacity="0.65"/>
<circle cx="152.2" cy="51.2" r="1.9" fill="#bcbcbc" opacity="0.36"/>
<circle cx="157.3" cy="41.2" r="1.1" fill="#7e7e7e" opacity="0.42"/>
<circle cx="164.3" cy="26.8" r="1.8" fill="#7e7e7e" opacity="0.54"/>
<circle cx="174.0" cy="41.5" r="1.7" fill="#b8b8b8" opacity="0.54"/>
<circle cx="145.5" cy="43.1" r="1.0" fill="#bcbcbc" opacity="0.49"/>
<circle cx="148.6" cy="40.4" r="1.6" fill="#b8b8b8" opacity="0.49"/>
<circle cx="146.3" cy="45.3" r="1.8" fill="#bcbcbc" opacity="0.36"/>
<circle cx="166.7" cy="49.9" r="1.7" fill="#b8b8b8" opacity="0.68"/>
<circle cx="153.4" cy="31.8" r="2.0" fill="#c4c4c4" opacity="0.48"/>
<circle cx="172.2" cy="45.2" r="1.0" fill="#b8b8b8" opacity="0.39"/>
<circle cx="161.4" cy="41.4" r="1.9" fill="#727272" opacity="0.36"/>
<circle cx="153.0" cy="30.5" r="2.0" fill="#bcbcbc" opacity="0.61"/>
<circle cx="160.8" cy="39.1" r="1.5" fill="#7e7e7e" opacity="0.63"/>
<circle cx="150.1" cy="33.2" r="1.4" fill="#b8b8b8" opacity="0.54"/>
<circle cx="154.7" cy="45.8" r="1.6" fill="#727272" opacity="0.47"/>
<circle cx="171.7" cy="44.0" r="1.9" fill="#bcbcbc" opacity="0.48"/>
<circle cx="153.2" cy="52.0" r="1.1" fill="#8a8a8a" opacity="0.45"/>
<circle cx="180.2" cy="39.4" r="1.67" fill="#b3b3b3" stroke="#474747" stroke-width="0.65"/>
<circle cx="180.7" cy="42.0" r="1.87" fill="#b3b3b3" stroke="#474747" stroke-width="0.65"/>
<circle cx="180.4" cy="44.4" r="1.79" fill="#b3b3b3" stroke="#474747" stroke-width="0.65"/>
<circle cx="180.0" cy="44.0" r="0.72" fill="#e6e6e6" opacity="0.6"/>
<circle cx="177.8" cy="46.2" r="1.75" fill="#b3b3b3" stroke="#474747" stroke-width="0.65"/>
<circle cx="176.6" cy="48.4" r="1.61" fill="#b3b3b3" stroke="#474747" stroke-width="0.65"/>
<circle cx="176.2" cy="48.0" r="0.64" fill="#e6e6e6" opacity="0.6"/>
<circle cx="175.5" cy="50.9" r="1.62" fill="#c8c8c8" stroke="#474747" stroke-width="0.65"/>
<circle cx="173.9" cy="52.3" r="1.63" fill="#b3b3b3" stroke="#474747" stroke-width="0.65"/>
<circle cx="171.4" cy="55.4" r="1.44" fill="#b3b3b3" stroke="#474747" stroke-width="0.65"/>
<circle cx="168.9" cy="57.0" r="1.78" fill="#b3b3b3" stroke="#474747" stroke-width="0.65"/>
<circle cx="168.5" cy="56.6" r="0.71" fill="#e6e6e6" opacity="0.6"/>
<circle cx="167.4" cy="58.5" r="1.79" fill="#c8c8c8" stroke="#474747" stroke-width="0.65"/>
<circle cx="167.0" cy="58.1" r="0.72" fill="#e6e6e6" opacity="0.6"/>
<circle cx="163.8" cy="59.2" r="1.72" fill="#b3b3b3" stroke="#474747" stroke-width="0.65"/>
<circle cx="163.4" cy="58.8" r="0.69" fill="#e6e6e6" opacity="0.6"/>
<circle cx="160.4" cy="58.1" r="1.59" fill="#b3b3b3" stroke="#474747" stroke-width="0.65"/>
<circle cx="160.0" cy="57.7" r="0.64" fill="#e6e6e6" opacity="0.6"/>
<circle cx="158.0" cy="59.0" r="1.51" fill="#c8c8c8" stroke="#474747" stroke-width="0.65"/>
<circle cx="157.6" cy="58.6" r="0.61" fill="#e6e6e6" opacity="0.6"/>
<circle cx="154.8" cy="57.3" r="1.86" fill="#b3b3b3" stroke="#474747" stroke-width="0.65"/>
<circle cx="154.4" cy="56.9" r="0.74" fill="#e6e6e6" opacity="0.6"/>
<circle cx="151.4" cy="56.6" r="1.64" fill="#c8c8c8" stroke="#474747" stroke-width="0.65"/>
<circle cx="149.0" cy="56.1" r="1.88" fill="#b3b3b3" stroke="#474747" stroke-width="0.65"/>
<circle cx="144.9" cy="55.5" r="1.61" fill="#b3b3b3" stroke="#474747" stroke-width="0.65"/>
<circle cx="144.5" cy="55.1" r="0.64" fill="#e6e6e6" opacity="0.6"/>
<circle cx="143.1" cy="54.7" r="1.58" fill="#b3b3b3" stroke="#474747" stroke-width="0.65"/>
<circle cx="142.7" cy="54.3" r="0.63" fill="#e6e6e6" opacity="0.6"/>
<circle cx="139.2" cy="53.3" r="1.72" fill="#b3b3b3" stroke="#474747" stroke-width="0.65"/>
<circle cx="138.8" cy="52.9" r="0.69" fill="#e6e6e6" opacity="0.6"/>
<circle cx="136.5" cy="51.6" r="1.49" fill="#b3b3b3" stroke="#474747" stroke-width="0.65"/>
<circle cx="136.4" cy="48.9" r="1.88" fill="#b3b3b3" stroke="#474747" stroke-width="0.65"/>
<circle cx="136.0" cy="46.1" r="1.52" fill="#b3b3b3" stroke="#474747" stroke-width="0.65"/>
<circle cx="135.6" cy="45.7" r="0.61" fill="#e6e6e6" opacity="0.6"/>
<circle cx="135.5" cy="43.4" r="1.99" fill="#b3b3b3" stroke="#474747" stroke-width="0.65"/>
<circle cx="135.6" cy="41.5" r="1.92" fill="#c8c8c8" stroke="#474747" stroke-width="0.65"/>
<circle cx="135.2" cy="41.1" r="0.77" fill="#e6e6e6" opacity="0.6"/>
<circle cx="134.7" cy="39.3" r="1.67" fill="#b3b3b3" stroke="#474747" stroke-width="0.65"/>
<circle cx="134.7" cy="35.3" r="1.92" fill="#c8c8c8" stroke="#474747" stroke-width="0.65"/>
<circle cx="134.3" cy="34.9" r="0.77" fill="#e6e6e6" opacity="0.6"/>
<circle cx="136.0" cy="33.0" r="1.92" fill="#c8c8c8" stroke="#474747" stroke-width="0.65"/>
<circle cx="137.4" cy="30.9" r="1.88" fill="#b3b3b3" stroke="#474747" stroke-width="0.65"/>
<circle cx="139.6" cy="30.0" r="1.71" fill="#b3b3b3" stroke="#474747" stroke-width="0.65"/>
<circle cx="139.2" cy="29.6" r="0.68" fill="#e6e6e6" opacity="0.6"/>
<circle cx="141.6" cy="28.4" r="1.82" fill="#c8c8c8" stroke="#474747" stroke-width="0.65"/>
<circle cx="141.2" cy="28.0" r="0.73" fill="#e6e6e6" opacity="0.6"/>
<circle cx="143.4" cy="26.6" r="1.72" fill="#b3b3b3" stroke="#474747" stroke-width="0.65"/>
<circle cx="143.0" cy="26.2" r="0.69" fill="#e6e6e6" opacity="0.6"/>
<circle cx="146.6" cy="25.2" r="1.58" fill="#b3b3b3" stroke="#474747" stroke-width="0.65"/>
<circle cx="148.0" cy="23.4" r="1.91" fill="#c8c8c8" stroke="#474747" stroke-width="0.65"/>
<circle cx="150.8" cy="23.5" r="1.88" fill="#b3b3b3" stroke="#474747" stroke-width="0.65"/>
<circle cx="150.4" cy="23.1" r="0.75" fill="#e6e6e6" opacity="0.6"/>
<circle cx="154.3" cy="21.9" r="1.62" fill="#b3b3b3" stroke="#474747" stroke-width="0.65"/>
<circle cx="156.5" cy="23.3" r="1.68" fill="#b3b3b3" stroke="#474747" stroke-width="0.65"/>
<circle cx="156.1" cy="22.9" r="0.67" fill="#e6e6e6" opacity="0.6"/>
<circle cx="159.6" cy="23.0" r="1.41" fill="#b3b3b3" stroke="#474747" stroke-width="0.65"/>
<circle cx="162.9" cy="21.5" r="1.97" fill="#b3b3b3" stroke="#474747" stroke-width="0.65"/>
<circle cx="162.5" cy="21.1" r="0.79" fill="#e6e6e6" opacity="0.6"/>
<circle cx="166.9" cy="22.1" r="1.62" fill="#c8c8c8" stroke="#474747" stroke-width="0.65"/>
<circle cx="166.5" cy="21.7" r="0.65" fill="#e6e6e6" opacity="0.6"/>
<circle cx="171.3" cy="21.9" r="1.74" fill="#c8c8c8" stroke="#474747" stroke-width="0.65"/>
<circle cx="173.2" cy="23.6" r="1.91" fill="#b3b3b3" stroke="#474747" stroke-width="0.65"/>
<circle cx="172.8" cy="23.2" r="0.77" fill="#e6e6e6" opacity="0.6"/>
<circle cx="176.8" cy="24.5" r="1.95" fill="#b3b3b3" stroke="#474747" stroke-width="0.65"/>
<circle cx="176.4" cy="24.1" r="0.78" fill="#e6e6e6" opacity="0.6"/>
<circle cx="178.6" cy="27.9" r="1.86" fill="#b3b3b3" stroke="#474747" stroke-width="0.65"/>
<circle cx="178.6" cy="29.9" r="1.43" fill="#c8c8c8" stroke="#474747" stroke-width="0.65"/>
<circle cx="178.2" cy="29.5" r="0.57" fill="#e6e6e6" opacity="0.6"/>
<circle cx="180.2" cy="32.1" r="2.00" fill="#b3b3b3" stroke="#474747" stroke-width="0.65"/>
<circle cx="181.6" cy="35.3" r="1.78" fill="#b3b3b3" stroke="#474747" stroke-width="0.65"/>
<circle cx="181.8" cy="37.3" r="1.50" fill="#c8c8c8" stroke="#474747" stroke-width="0.65"/>
<circle cx="177.8" cy="39.8" r="1.61" fill="#c8c8c8" stroke="#474747" stroke-width="0.65"/>
<circle cx="177.9" cy="41.7" r="1.72" fill="#b3b3b3" stroke="#474747" stroke-width="0.65"/>
<circle cx="176.9" cy="44.0" r="1.53" fill="#c8c8c8" stroke="#474747" stroke-width="0.65"/>
<circle cx="176.5" cy="43.6" r="0.61" fill="#e6e6e6" opacity="0.6"/>
<circle cx="175.8" cy="46.7" r="1.68" fill="#c8c8c8" stroke="#474747" stroke-width="0.65"/>
<circle cx="172.9" cy="48.8" r="1.92" fill="#b3b3b3" stroke="#474747" stroke-width="0.65"/>
<circle cx="172.5" cy="48.4" r="0.77" fill="#e6e6e6" opacity="0.6"/>
<circle cx="171.6" cy="50.3" r="1.83" fill="#b3b3b3" stroke="#474747" stroke-width="0.65"/>
<circle cx="169.6" cy="52.2" r="1.69" fill="#b3b3b3" stroke="#474747" stroke-width="0.65"/>
<circle cx="168.9" cy="54.5" r="1.93" fill="#b3b3b3" stroke="#474747" stroke-width="0.65"/>
<circle cx="164.8" cy="55.2" r="1.97" fill="#b3b3b3" stroke="#474747" stroke-width="0.65"/>
<circle cx="161.2" cy="57.0" r="1.72" fill="#b3b3b3" stroke="#474747" stroke-width="0.65"/>
<circle cx="158.5" cy="55.9" r="1.64" fill="#b3b3b3" stroke="#474747" stroke-width="0.65"/>
<circle cx="155.6" cy="55.8" r="1.42" fill="#b3b3b3" stroke="#474747" stroke-width="0.65"/>
<circle cx="152.5" cy="55.4" r="1.79" fill="#b3b3b3" stroke="#474747" stroke-width="0.65"/>
<circle cx="149.6" cy="54.0" r="1.41" fill="#c8c8c8" stroke="#474747" stroke-width="0.65"/>
<circle cx="147.3" cy="53.2" r="1.45" fill="#b3b3b3" stroke="#474747" stroke-width="0.65"/>
<circle cx="143.0" cy="52.3" r="1.71" fill="#b3b3b3" stroke="#474747" stroke-width="0.65"/>
<circle cx="142.6" cy="51.9" r="0.69" fill="#e6e6e6" opacity="0.6"/>
<circle cx="141.8" cy="51.0" r="1.92" fill="#b3b3b3" stroke="#474747" stroke-width="0.65"/>
<circle cx="141.4" cy="50.6" r="0.77" fill="#e6e6e6" opacity="0.6"/>
<circle cx="140.4" cy="48.8" r="1.87" fill="#b3b3b3" stroke="#474747" stroke-width="0.65"/>
<circle cx="140.0" cy="48.4" r="0.75" fill="#e6e6e6" opacity="0.6"/>
<circle cx="137.4" cy="46.6" r="1.76" fill="#b3b3b3" stroke="#474747" stroke-width="0.65"/>
<circle cx="137.6" cy="44.2" r="1.90" fill="#b3b3b3" stroke="#474747" stroke-width="0.65"/>
<circle cx="137.2" cy="43.8" r="0.76" fill="#e6e6e6" opacity="0.6"/>
<circle cx="138.2" cy="41.3" r="1.47" fill="#b3b3b3" stroke="#474747" stroke-width="0.65"/>
<circle cx="137.8" cy="40.9" r="0.59" fill="#e6e6e6" opacity="0.6"/>
<circle cx="136.9" cy="38.8" r="1.88" fill="#b3b3b3" stroke="#474747" stroke-width="0.65"/>
<circle cx="136.5" cy="38.4" r="0.75" fill="#e6e6e6" opacity="0.6"/>
<circle cx="138.0" cy="36.7" r="1.50" fill="#b3b3b3" stroke="#474747" stroke-width="0.65"/>
<circle cx="138.1" cy="33.4" r="1.89" fill="#b3b3b3" stroke="#474747" stroke-width="0.65"/>
<circle cx="141.0" cy="32.0" r="1.95" fill="#b3b3b3" stroke="#474747" stroke-width="0.65"/>
<circle cx="141.4" cy="29.6" r="1.92" fill="#b3b3b3" stroke="#474747" stroke-width="0.65"/>
<circle cx="145.9" cy="28.1" r="1.40" fill="#c8c8c8" stroke="#474747" stroke-width="0.65"/>
<circle cx="147.1" cy="26.3" r="2.00" fill="#b3b3b3" stroke="#474747" stroke-width="0.65"/>
<circle cx="150.1" cy="26.2" r="1.60" fill="#b3b3b3" stroke="#474747" stroke-width="0.65"/>
<circle cx="149.7" cy="25.8" r="0.64" fill="#e6e6e6" opacity="0.6"/>
<circle cx="152.7" cy="25.6" r="1.61" fill="#c8c8c8" stroke="#474747" stroke-width="0.65"/>
<circle cx="152.3" cy="25.2" r="0.64" fill="#e6e6e6" opacity="0.6"/>
<circle cx="155.4" cy="25.3" r="1.65" fill="#c8c8c8" stroke="#474747" stroke-width="0.65"/>
<circle cx="159.6" cy="24.7" r="1.41" fill="#b3b3b3" stroke="#474747" stroke-width="0.65"/>
<circle cx="159.2" cy="24.3" r="0.56" fill="#e6e6e6" opacity="0.6"/>
<circle cx="161.0" cy="24.3" r="1.80" fill="#b3b3b3" stroke="#474747" stroke-width="0.65"/>
<circle cx="160.6" cy="23.9" r="0.72" fill="#e6e6e6" opacity="0.6"/>
<circle cx="165.0" cy="23.7" r="1.63" fill="#c8c8c8" stroke="#474747" stroke-width="0.65"/>
<circle cx="168.2" cy="23.7" r="1.96" fill="#b3b3b3" stroke="#474747" stroke-width="0.65"/>
<circle cx="171.5" cy="24.9" r="1.84" fill="#b3b3b3" stroke="#474747" stroke-width="0.65"/>
<circle cx="171.1" cy="24.5" r="0.74" fill="#e6e6e6" opacity="0.6"/>
<circle cx="174.3" cy="27.9" r="1.86" fill="#b3b3b3" stroke="#474747" stroke-width="0.65"/>
<circle cx="173.9" cy="27.5" r="0.74" fill="#e6e6e6" opacity="0.6"/>
<circle cx="175.6" cy="29.1" r="1.55" fill="#b3b3b3" stroke="#474747" stroke-width="0.65"/>
<circle cx="175.2" cy="28.7" r="0.62" fill="#e6e6e6" opacity="0.6"/>
<circle cx="176.8" cy="32.1" r="1.78" fill="#b3b3b3" stroke="#474747" stroke-width="0.65"/>
<circle cx="176.4" cy="31.7" r="0.71" fill="#e6e6e6" opacity="0.6"/>
<circle cx="177.4" cy="34.4" r="1.92" fill="#c8c8c8" stroke="#474747" stroke-width="0.65"/>
<circle cx="178.3" cy="37.3" r="1.66" fill="#b3b3b3" stroke="#474747" stroke-width="0.65"/>
<circle cx="177.9" cy="36.9" r="0.66" fill="#e6e6e6" opacity="0.6"/>
<circle cx="175.0" cy="39.8" r="1.66" fill="#b0b0b0" stroke="#474747" stroke-width="0.45"/>
<circle cx="174.0" cy="41.6" r="1.40" fill="#b0b0b0" stroke="#474747" stroke-width="0.45"/>
<circle cx="174.1" cy="44.2" r="1.90" fill="#b0b0b0" stroke="#474747" stroke-width="0.45"/>
<circle cx="171.2" cy="46.7" r="1.91" fill="#b0b0b0" stroke="#474747" stroke-width="0.45"/>
<circle cx="170.8" cy="49.0" r="1.80" fill="#b0b0b0" stroke="#474747" stroke-width="0.45"/>
<circle cx="168.3" cy="51.1" r="1.50" fill="#b0b0b0" stroke="#474747" stroke-width="0.45"/>
<circle cx="165.3" cy="52.8" r="1.59" fill="#b0b0b0" stroke="#474747" stroke-width="0.45"/>
<circle cx="163.8" cy="54.0" r="1.73" fill="#b0b0b0" stroke="#474747" stroke-width="0.45"/>
<circle cx="159.5" cy="54.5" r="1.65" fill="#b0b0b0" stroke="#474747" stroke-width="0.45"/>
<circle cx="155.6" cy="53.1" r="1.44" fill="#b0b0b0" stroke="#474747" stroke-width="0.45"/>
<circle cx="153.2" cy="52.4" r="1.47" fill="#b0b0b0" stroke="#474747" stroke-width="0.45"/>
<circle cx="150.1" cy="51.4" r="1.96" fill="#b0b0b0" stroke="#474747" stroke-width="0.45"/>
<circle cx="147.7" cy="50.7" r="1.98" fill="#b0b0b0" stroke="#474747" stroke-width="0.45"/>
<circle cx="144.3" cy="48.7" r="1.61" fill="#b0b0b0" stroke="#474747" stroke-width="0.45"/>
<circle cx="141.6" cy="48.3" r="1.74" fill="#b0b0b0" stroke="#474747" stroke-width="0.45"/>
<circle cx="141.4" cy="45.1" r="1.47" fill="#b0b0b0" stroke="#474747" stroke-width="0.45"/>
<circle cx="140.3" cy="42.3" r="2.00" fill="#b0b0b0" stroke="#474747" stroke-width="0.45"/>
<circle cx="141.6" cy="40.4" r="1.87" fill="#b0b0b0" stroke="#474747" stroke-width="0.45"/>
<circle cx="141.1" cy="36.9" r="1.71" fill="#b0b0b0" stroke="#474747" stroke-width="0.45"/>
<circle cx="141.7" cy="34.6" r="1.82" fill="#b0b0b0" stroke="#474747" stroke-width="0.45"/>
<circle cx="142.9" cy="32.5" r="1.89" fill="#b0b0b0" stroke="#474747" stroke-width="0.45"/>
<circle cx="145.9" cy="30.7" r="1.78" fill="#b0b0b0" stroke="#474747" stroke-width="0.45"/>
<circle cx="148.3" cy="29.8" r="1.97" fill="#b0b0b0" stroke="#474747" stroke-width="0.45"/>
<circle cx="149.7" cy="28.1" r="1.91" fill="#b0b0b0" stroke="#474747" stroke-width="0.45"/>
<circle cx="153.9" cy="27.7" r="1.61" fill="#b0b0b0" stroke="#474747" stroke-width="0.45"/>
<circle cx="156.1" cy="26.7" r="1.96" fill="#b0b0b0" stroke="#474747" stroke-width="0.45"/>
<circle cx="158.8" cy="27.1" r="2.01" fill="#b0b0b0" stroke="#474747" stroke-width="0.45"/>
<circle cx="163.8" cy="26.1" r="1.62" fill="#b0b0b0" stroke="#474747" stroke-width="0.45"/>
<circle cx="166.1" cy="25.9" r="1.75" fill="#b0b0b0" stroke="#474747" stroke-width="0.45"/>
<circle cx="169.1" cy="27.6" r="1.69" fill="#b0b0b0" stroke="#474747" stroke-width="0.45"/>
<circle cx="172.7" cy="29.9" r="1.94" fill="#b0b0b0" stroke="#474747" stroke-width="0.45"/>
<circle cx="173.0" cy="32.9" r="1.52" fill="#b0b0b0" stroke="#474747" stroke-width="0.45"/>
<circle cx="174.0" cy="34.8" r="1.97" fill="#b0b0b0" stroke="#474747" stroke-width="0.45"/>
<circle cx="174.8" cy="36.7" r="1.74" fill="#b0b0b0" stroke="#474747" stroke-width="0.45"/></g>
<rect x="117.40" y="10.90" width="85.7" height="63.6" fill="none" stroke="#3c3c3c" stroke-width="0.9"/></g>
<g><rect x="210.20" y="10.90" width="85.7" height="63.6" fill="#929292"/>
<g filter="url(#soft)"><polygon points="273.69,41.30 273.60,42.89 273.29,44.47 272.78,46.00 272.14,47.49 271.43,48.95 270.68,50.42 269.87,51.88 268.94,53.34 267.84,54.72 266.49,55.97 264.91,56.99 263.12,57.75 261.19,58.23 259.22,58.48 257.26,58.56 255.36,58.56 253.51,58.53 251.70,58.52 249.89,58.49 248.07,58.41 246.25,58.23 244.44,57.89 242.68,57.39 240.99,56.73 239.38,55.93 237.84,55.04 236.36,54.06 234.93,53.01 233.56,51.86 232.29,50.62 231.15,49.27 230.19,47.81 229.45,46.26 228.95,44.64 228.67,42.98 228.63,41.30 228.80,39.63 229.17,38.00 229.75,36.41 230.51,34.88 231.43,33.44 232.48,32.07 233.64,30.78 234.87,29.56 236.18,28.39 237.56,27.28 239.05,26.27 240.66,25.40 242.41,24.73 244.27,24.31 246.18,24.16 248.08,24.24 249.93,24.47 251.70,24.74 253.42,24.94 255.15,25.02 256.96,24.96 258.90,24.84 260.96,24.78 263.08,24.91 265.13,25.34 267.00,26.13 268.57,27.27 269.80,28.67 270.71,30.23 271.38,31.85 271.91,33.46 272.38,35.04 272.83,36.59 273.24,38.14 273.55,39.71" fill="#a8a8a8"/>
<circle cx="248.8" cy="49.6" r="1.6" fill="#bcbcbc" opacity="0.36"/>
<circle cx="250.7" cy="46.2" r="1.8" fill="#b8b8b8" opacity="0.61"/>
<circle cx="265.6" cy="37.5" r="1.3" fill="#b8b8b8" opacity="0.43"/>
<circle cx="262.1" cy="34.9" r="1.6" fill="#c4c4c4" opacity="0.66"/>
<circle cx="243.1" cy="32.8" r="1.8" fill="#b8b8b8" opacity="0.63"/>
<circle cx="265.3" cy="40.3" r="1.6" fill="#8a8a8a" opacity="0.70"/>
<circle cx="238.1" cy="45.7" r="1.1" fill="#8a8a8a" opacity="0.42"/>
<circle cx="243.1" cy="40.3" r="1.2" fill="#c4c4c4" opacity="0.45"/>
<circle cx="262.0" cy="34.1" r="1.2" fill="#8a8a8a" opacity="0.43"/>
<circle cx="255.1" cy="49.1" r="1.4" fill="#727272" opacity="0.57"/>
<circle cx="250.9" cy="41.5" r="1.9" fill="#c4c4c4" opacity="0.37"/>
<circle cx="261.5" cy="51.3" r="1.6" fill="#c4c4c4" opacity="0.41"/>
<circle cx="238.3" cy="48.0" r="1.1" fill="#b8b8b8" opacity="0.65"/>
<circle cx="242.0" cy="49.4" r="1.9" fill="#7e7e7e" opacity="0.60"/>
<circle cx="252.6" cy="50.4" r="0.9" fill="#8a8a8a" opacity="0.60"/>
<circle cx="263.8" cy="43.8" r="1.3" fill="#8a8a8a" opacity="0.45"/>
<circle cx="259.0" cy="51.4" r="1.9" fill="#727272" opacity="0.41"/>
<circle cx="239.9" cy="46.0" r="1.7" fill="#8a8a8a" opacity="0.69"/>
<circle cx="257.8" cy="31.4" r="0.9" fill="#8a8a8a" opacity="0.70"/>
<circle cx="258.5" cy="46.7" r="1.5" fill="#b8b8b8" opacity="0.59"/>
<circle cx="262.8" cy="37.5" r="0.9" fill="#727272" opacity="0.47"/>
<circle cx="234.7" cy="41.6" r="1.8" fill="#8a8a8a" opacity="0.43"/>
<circle cx="255.5" cy="52.9" r="1.5" fill="#c4c4c4" opacity="0.67"/>
<circle cx="251.1" cy="34.9" r="1.8" fill="#bcbcbc" opacity="0.43"/>
<circle cx="244.4" cy="44.4" r="1.6" fill="#7e7e7e" opacity="0.50"/>
<circle cx="244.9" cy="34.4" r="1.3" fill="#b8b8b8" opacity="0.38"/>
<circle cx="252.3" cy="31.8" r="1.6" fill="#727272" opacity="0.46"/>
<circle cx="235.4" cy="45.7" r="1.3" fill="#c4c4c4" opacity="0.45"/>
<circle cx="245.9" cy="43.4" r="1.0" fill="#727272" opacity="0.64"/>
<circle cx="253.4" cy="48.4" r="1.2" fill="#c4c4c4" opacity="0.47"/>
<circle cx="261.2" cy="47.0" r="1.9" fill="#8a8a8a" opacity="0.70"/>
<circle cx="263.2" cy="44.0" r="2.0" fill="#7e7e7e" opacity="0.37"/>
<circle cx="259.8" cy="52.9" r="1.0" fill="#bcbcbc" opacity="0.35"/>
<circle cx="251.9" cy="53.3" r="1.0" fill="#7e7e7e" opacity="0.68"/>
<circle cx="259.3" cy="44.3" r="1.0" fill="#7e7e7e" opacity="0.43"/>
<circle cx="255.6" cy="35.3" r="1.1" fill="#c4c4c4" opacity="0.49"/>
<circle cx="263.1" cy="44.7" r="1.0" fill="#727272" opacity="0.40"/>
<circle cx="236.6" cy="38.6" r="1.3" fill="#8a8a8a" opacity="0.40"/>
<circle cx="243.4" cy="39.3" r="1.0" fill="#b8b8b8" opacity="0.36"/>
<circle cx="251.0" cy="37.1" r="1.2" fill="#bcbcbc" opacity="0.38"/>
<circle cx="245.3" cy="50.5" r="1.6" fill="#7e7e7e" opacity="0.64"/>
<circle cx="249.9" cy="34.4" r="1.0" fill="#727272" opacity="0.46"/>
<circle cx="263.0" cy="41.1" r="1.1" fill="#b8b8b8" opacity="0.40"/>
<circle cx="248.1" cy="50.4" r="1.2" fill="#8a8a8a" opacity="0.47"/>
<circle cx="259.3" cy="38.7" r="1.4" fill="#b8b8b8" opacity="0.70"/>
<circle cx="252.5" cy="32.8" r="1.1" fill="#b8b8b8" opacity="0.55"/>
<circle cx="262.5" cy="38.9" r="1.7" fill="#c4c4c4" opacity="0.64"/>
<circle cx="267.1" cy="43.7" r="1.8" fill="#c4c4c4" opacity="0.41"/>
<circle cx="262.0" cy="47.7" r="1.0" fill="#b8b8b8" opacity="0.67"/>
<circle cx="238.8" cy="36.2" r="1.1" fill="#727272" opacity="0.61"/>
<circle cx="245.3" cy="34.0" r="0.9" fill="#8a8a8a" opacity="0.65"/>
<circle cx="261.5" cy="51.6" r="1.6" fill="#7e7e7e" opacity="0.61"/>
<circle cx="238.5" cy="46.6" r="1.4" fill="#7e7e7e" opacity="0.56"/>
<circle cx="252.2" cy="50.7" r="1.5" fill="#727272" opacity="0.66"/>
<circle cx="263.4" cy="34.9" r="1.0" fill="#8a8a8a" opacity="0.60"/>
<circle cx="237.2" cy="47.3" r="0.9" fill="#bcbcbc" opacity="0.48"/>
<circle cx="258.7" cy="49.2" r="1.8" fill="#b8b8b8" opacity="0.59"/>
<circle cx="249.4" cy="30.8" r="1.0" fill="#8a8a8a" opacity="0.60"/>
<circle cx="256.8" cy="45.6" r="1.0" fill="#727272" opacity="0.57"/>
<circle cx="242.6" cy="35.0" r="1.9" fill="#c4c4c4" opacity="0.48"/>
<circle cx="256.2" cy="32.5" r="1.5" fill="#8a8a8a" opacity="0.37"/>
<circle cx="259.9" cy="33.0" r="1.3" fill="#b8b8b8" opacity="0.59"/>
<circle cx="263.8" cy="35.1" r="1.5" fill="#c4c4c4" opacity="0.62"/>
<circle cx="260.0" cy="38.1" r="2.0" fill="#727272" opacity="0.51"/>
<circle cx="241.1" cy="46.9" r="1.0" fill="#bcbcbc" opacity="0.44"/>
<circle cx="263.7" cy="41.5" r="1.8" fill="#b8b8b8" opacity="0.54"/>
<circle cx="240.1" cy="45.7" r="1.1" fill="#727272" opacity="0.69"/>
<circle cx="256.4" cy="43.8" r="2.0" fill="#7e7e7e" opacity="0.54"/>
<circle cx="245.3" cy="35.8" r="1.1" fill="#727272" opacity="0.41"/>
<circle cx="261.8" cy="44.4" r="1.6" fill="#7e7e7e" opacity="0.60"/>
<circle cx="274.3" cy="41.6" r="1.92" fill="#c8c8c8" stroke="#474747" stroke-width="0.65"/>
<circle cx="273.9" cy="41.2" r="0.77" fill="#e6e6e6" opacity="0.6"/>
<circle cx="273.4" cy="44.0" r="1.72" fill="#b3b3b3" stroke="#474747" stroke-width="0.65"/>
<circle cx="273.0" cy="43.6" r="0.69" fill="#e6e6e6" opacity="0.6"/>
<circle cx="272.4" cy="46.6" r="1.66" fill="#c8c8c8" stroke="#474747" stroke-width="0.65"/>
<circle cx="272.0" cy="46.2" r="0.66" fill="#e6e6e6" opacity="0.6"/>
<circle cx="271.6" cy="48.8" r="1.96" fill="#c8c8c8" stroke="#474747" stroke-width="0.65"/>
<circle cx="271.0" cy="50.6" r="1.50" fill="#b3b3b3" stroke="#474747" stroke-width="0.65"/>
<circle cx="269.7" cy="53.4" r="1.53" fill="#b3b3b3" stroke="#474747" stroke-width="0.65"/>
<circle cx="269.3" cy="53.0" r="0.61" fill="#e6e6e6" opacity="0.6"/>
<circle cx="266.5" cy="54.9" r="1.83" fill="#b3b3b3" stroke="#474747" stroke-width="0.65"/>
<circle cx="263.9" cy="56.9" r="1.60" fill="#b3b3b3" stroke="#474747" stroke-width="0.65"/>
<circle cx="263.5" cy="56.5" r="0.64" fill="#e6e6e6" opacity="0.6"/>
<circle cx="260.5" cy="57.6" r="1.46" fill="#b3b3b3" stroke="#474747" stroke-width="0.65"/>
<circle cx="258.5" cy="58.4" r="1.49" fill="#c8c8c8" stroke="#474747" stroke-width="0.65"/>
<circle cx="255.7" cy="58.0" r="1.95" fill="#c8c8c8" stroke="#474747" stroke-width="0.65"/>
<circle cx="255.3" cy="57.6" r="0.78" fill="#e6e6e6" opacity="0.6"/>
<circle cx="252.0" cy="58.9" r="1.47" fill="#b3b3b3" stroke="#474747" stroke-width="0.65"/>
<circle cx="249.2" cy="59.2" r="1.89" fill="#b3b3b3" stroke="#474747" stroke-width="0.65"/>
<circle cx="246.6" cy="58.4" r="1.90" fill="#b3b3b3" stroke="#474747" stroke-width="0.65"/>
<circle cx="246.2" cy="58.0" r="0.76" fill="#e6e6e6" opacity="0.6"/>
<circle cx="244.3" cy="58.4" r="1.61" fill="#b3b3b3" stroke="#474747" stroke-width="0.65"/>
<circle cx="243.9" cy="58.0" r="0.64" fill="#e6e6e6" opacity="0.6"/>
<circle cx="241.0" cy="56.5" r="1.91" fill="#b3b3b3" stroke="#474747" stroke-width="0.65"/>
<circle cx="238.1" cy="55.1" r="1.73" fill="#b3b3b3" stroke="#474747" stroke-width="0.65"/>
<circle cx="235.1" cy="54.1" r="1.74" fill="#b3b3b3" stroke="#474747" stroke-width="0.65"/>
<circle cx="234.7" cy="53.7" r="0.70" fill="#e6e6e6" opacity="0.6"/>
<circle cx="234.3" cy="52.3" r="1.71" fill="#b3b3b3" stroke="#474747" stroke-width="0.65"/>
<circle cx="233.9" cy="51.9" r="0.68" fill="#e6e6e6" opacity="0.6"/>
<circle cx="231.5" cy="50.5" r="1.68" fill="#b3b3b3" stroke="#474747" stroke-width="0.65"/>
<circle cx="231.1" cy="50.1" r="0.67" fill="#e6e6e6" opacity="0.6"/>
<circle cx="230.1" cy="47.4" r="1.75" fill="#c8c8c8" stroke="#474747" stroke-width="0.65"/>
<circle cx="228.5" cy="44.9" r="1.75" fill="#b3b3b3" stroke="#474747" stroke-width="0.65"/>
<circle cx="228.1" cy="44.5" r="0.70" fill="#e6e6e6" opacity="0.6"/>
<circle cx="228.8" cy="42.3" r="1.84" fill="#b3b3b3" stroke="#474747" stroke-width="0.65"/>
<circle cx="229.7" cy="39.4" r="1.99" fill="#c8c8c8" stroke="#474747" stroke-width="0.65"/>
<circle cx="229.5" cy="37.2" r="1.97" fill="#b3b3b3" stroke="#474747" stroke-width="0.65"/>
<circle cx="229.5" cy="35.3" r="1.79" fill="#c8c8c8" stroke="#474747" stroke-width="0.65"/>
<circle cx="229.1" cy="34.9" r="0.72" fill="#e6e6e6" opacity="0.6"/>
<circle cx="231.1" cy="32.3" r="1.93" fill="#b3b3b3" stroke="#474747" stroke-width="0.65"/>
<circle cx="230.7" cy="31.9" r="0.77" fill="#e6e6e6" opacity="0.6"/>
<circle cx="234.8" cy="30.5" r="1.85" fill="#b3b3b3" stroke="#474747" stroke-width="0.65"/>
<circle cx="235.0" cy="28.6" r="1.84" fill="#c8c8c8" stroke="#474747" stroke-width="0.65"/>
<circle cx="237.6" cy="26.8" r="1.99" fill="#b3b3b3" stroke="#474747" stroke-width="0.65"/>
<circle cx="241.1" cy="25.7" r="1.69" fill="#c8c8c8" stroke="#474747" stroke-width="0.65"/>
<circle cx="242.7" cy="24.6" r="1.51" fill="#b3b3b3" stroke="#474747" stroke-width="0.65"/>
<circle cx="242.3" cy="24.2" r="0.60" fill="#e6e6e6" opacity="0.6"/>
<circle cx="245.6" cy="24.0" r="1.84" fill="#b3b3b3" stroke="#474747" stroke-width="0.65"/>
<circle cx="250.5" cy="25.1" r="1.79" fill="#b3b3b3" stroke="#474747" stroke-width="0.65"/>
<circle cx="250.1" cy="24.7" r="0.71" fill="#e6e6e6" opacity="0.6"/>
<circle cx="251.8" cy="25.2" r="1.72" fill="#b3b3b3" stroke="#474747" stroke-width="0.65"/>
<circle cx="255.1" cy="25.7" r="1.84" fill="#b3b3b3" stroke="#474747" stroke-width="0.65"/>
<circle cx="254.7" cy="25.3" r="0.74" fill="#e6e6e6" opacity="0.6"/>
<circle cx="258.2" cy="25.3" r="1.59" fill="#b3b3b3" stroke="#474747" stroke-width="0.65"/>
<circle cx="260.5" cy="24.9" r="1.54" fill="#b3b3b3" stroke="#474747" stroke-width="0.65"/>
<circle cx="264.5" cy="24.8" r="1.68" fill="#c8c8c8" stroke="#474747" stroke-width="0.65"/>
<circle cx="264.1" cy="24.4" r="0.67" fill="#e6e6e6" opacity="0.6"/>
<circle cx="268.2" cy="26.1" r="1.77" fill="#c8c8c8" stroke="#474747" stroke-width="0.65"/>
<circle cx="269.7" cy="28.9" r="1.55" fill="#b3b3b3" stroke="#474747" stroke-width="0.65"/>
<circle cx="270.3" cy="31.2" r="1.94" fill="#b3b3b3" stroke="#474747" stroke-width="0.65"/>
<circle cx="269.9" cy="30.8" r="0.78" fill="#e6e6e6" opacity="0.6"/>
<circle cx="271.4" cy="34.6" r="1.62" fill="#b3b3b3" stroke="#474747" stroke-width="0.65"/>
<circle cx="272.2" cy="37.0" r="1.75" fill="#b3b3b3" stroke="#474747" stroke-width="0.65"/>
<circle cx="273.4" cy="39.1" r="1.84" fill="#b3b3b3" stroke="#474747" stroke-width="0.65"/>
<circle cx="273.0" cy="38.7" r="0.74" fill="#e6e6e6" opacity="0.6"/>
<circle cx="270.5" cy="41.7" r="1.94" fill="#b3b3b3" stroke="#474747" stroke-width="0.65"/>
<circle cx="270.6" cy="44.4" r="1.98" fill="#c8c8c8" stroke="#474747" stroke-width="0.65"/>
<circle cx="270.1" cy="45.7" r="1.82" fill="#c8c8c8" stroke="#474747" stroke-width="0.65"/>
<circle cx="268.1" cy="48.3" r="1.52" fill="#b3b3b3" stroke="#474747" stroke-width="0.65"/>
<circle cx="267.7" cy="47.9" r="0.61" fill="#e6e6e6" opacity="0.6"/>
<circle cx="267.3" cy="50.2" r="2.00" fill="#b3b3b3" stroke="#474747" stroke-width="0.65"/>
<circle cx="265.0" cy="52.6" r="1.77" fill="#c8c8c8" stroke="#474747" stroke-width="0.65"/>
<circle cx="264.6" cy="52.2" r="0.71" fill="#e6e6e6" opacity="0.6"/>
<circle cx="263.1" cy="55.4" r="1.41" fill="#b3b3b3" stroke="#474747" stroke-width="0.65"/>
<circle cx="262.7" cy="55.0" r="0.56" fill="#e6e6e6" opacity="0.6"/>
<circle cx="260.6" cy="55.6" r="1.89" fill="#b3b3b3" stroke="#474747" stroke-width="0.65"/>
<circle cx="257.3" cy="56.9" r="1.48" fill="#b3b3b3" stroke="#474747" stroke-width="0.65"/>
<circle cx="256.9" cy="56.5" r="0.59" fill="#e6e6e6" opacity="0.6"/>
<circle cx="254.6" cy="56.7" r="1.87" fill="#b3b3b3" stroke="#474747" stroke-width="0.65"/>
<circle cx="254.2" cy="56.3" r="0.75" fill="#e6e6e6" opacity="0.6"/>
<circle cx="250.3" cy="56.3" r="1.53" fill="#c8c8c8" stroke="#474747" stroke-width="0.65"/>
<circle cx="248.9" cy="55.8" r="1.62" fill="#b3b3b3" stroke="#474747" stroke-width="0.65"/>
<circle cx="244.5" cy="55.7" r="1.41" fill="#b3b3b3" stroke="#474747" stroke-width="0.65"/>
<circle cx="244.1" cy="55.3" r="0.56" fill="#e6e6e6" opacity="0.6"/>
<circle cx="241.2" cy="55.0" r="1.44" fill="#b3b3b3" stroke="#474747" stroke-width="0.65"/>
<circle cx="240.8" cy="54.6" r="0.58" fill="#e6e6e6" opacity="0.6"/>
<circle cx="240.0" cy="54.2" r="1.67" fill="#c8c8c8" stroke="#474747" stroke-width="0.65"/>
<circle cx="238.2" cy="52.1" r="1.80" fill="#b3b3b3" stroke="#474747" stroke-width="0.65"/>
<circle cx="237.8" cy="51.7" r="0.72" fill="#e6e6e6" opacity="0.6"/>
<circle cx="235.5" cy="49.1" r="1.53" fill="#b3b3b3" stroke="#474747" stroke-width="0.65"/>
<circle cx="235.1" cy="48.7" r="0.61" fill="#e6e6e6" opacity="0.6"/>
<circle cx="233.6" cy="48.4" r="1.64" fill="#c8c8c8" stroke="#474747" stroke-width="0.65"/>
<circle cx="232.1" cy="46.0" r="1.99" fill="#b3b3b3" stroke="#474747" stroke-width="0.65"/>
<circle cx="231.9" cy="42.8" r="1.65" fill="#c8c8c8" stroke="#474747" stroke-width="0.65"/>
<circle cx="231.5" cy="42.4" r="0.66" fill="#e6e6e6" opacity="0.6"/>
<circle cx="231.8" cy="39.7" r="1.44" fill="#c8c8c8" stroke="#474747" stroke-width="0.65"/>
<circle cx="231.7" cy="37.5" r="1.78" fill="#b3b3b3" stroke="#474747" stroke-width="0.65"/>
<circle cx="231.3" cy="37.1" r="0.71" fill="#e6e6e6" opacity="0.6"/>
<circle cx="234.0" cy="34.9" r="1.72" fill="#b3b3b3" stroke="#474747" stroke-width="0.65"/>
<circle cx="233.6" cy="34.5" r="0.69" fill="#e6e6e6" opacity="0.6"/>
<circle cx="234.5" cy="32.8" r="1.97" fill="#b3b3b3" stroke="#474747" stroke-width="0.65"/>
<circle cx="236.6" cy="31.0" r="1.48" fill="#b3b3b3" stroke="#474747" stroke-width="0.65"/>
<circle cx="236.2" cy="30.6" r="0.59" fill="#e6e6e6" opacity="0.6"/>
<circle cx="239.6" cy="28.9" r="1.53" fill="#b3b3b3" stroke="#474747" stroke-width="0.65"/>
<circle cx="242.1" cy="27.6" r="1.62" fill="#c8c8c8" stroke="#474747" stroke-width="0.65"/>
<circle cx="241.7" cy="27.2" r="0.65" fill="#e6e6e6" opacity="0.6"/>
<circle cx="245.3" cy="25.8" r="1.63" fill="#c8c8c8" stroke="#474747" stroke-width="0.65"/>
<circle cx="244.9" cy="25.4" r="0.65" fill="#e6e6e6" opacity="0.6"/>
<circle cx="248.8" cy="26.8" r="1.51" fill="#b3b3b3" stroke="#474747" stroke-width="0.65"/>
<circle cx="248.4" cy="26.4" r="0.60" fill="#e6e6e6" opacity="0.6"/>
<circle cx="250.4" cy="27.1" r="1.80" fill="#b3b3b3" stroke="#474747" stroke-width="0.65"/>
<circle cx="250.0" cy="26.7" r="0.72" fill="#e6e6e6" opacity="0.6"/>
<circle cx="253.4" cy="27.0" r="1.42" fill="#c8c8c8" stroke="#474747" stroke-width="0.65"/>
<circle cx="256.5" cy="27.3" r="1.65" fill="#c8c8c8" stroke="#474747" stroke-width="0.65"/>
<circle cx="256.1" cy="26.9" r="0.66" fill="#e6e6e6" opacity="0.6"/>
<circle cx="259.0" cy="27.3" r="1.44" fill="#b3b3b3" stroke="#474747" stroke-width="0.65"/>
<circle cx="258.6" cy="26.9" r="0.58" fill="#e6e6e6" opacity="0.6"/>
<circle cx="262.7" cy="27.8" r="1.52" fill="#b3b3b3" stroke="#474747" stroke-width="0.65"/>
<circle cx="266.5" cy="29.6" r="1.73" fill="#b3b3b3" stroke="#474747" stroke-width="0.65"/>
<circle cx="266.1" cy="29.2" r="0.69" fill="#e6e6e6" opacity="0.6"/>
<circle cx="268.1" cy="30.9" r="1.64" fill="#b3b3b3" stroke="#474747" stroke-width="0.65"/>
<circle cx="269.6" cy="33.1" r="1.75" fill="#c8c8c8" stroke="#474747" stroke-width="0.65"/>
<circle cx="270.0" cy="36.2" r="1.69" fill="#b3b3b3" stroke="#474747" stroke-width="0.65"/>
<circle cx="270.2" cy="38.7" r="1.87" fill="#b3b3b3" stroke="#474747" stroke-width="0.65"/>
<circle cx="268.0" cy="41.9" r="1.65" fill="#b0b0b0" stroke="#474747" stroke-width="0.45"/>
<circle cx="268.4" cy="43.4" r="1.74" fill="#b0b0b0" stroke="#474747" stroke-width="0.45"/>
<circle cx="267.1" cy="46.3" r="1.92" fill="#b0b0b0" stroke="#474747" stroke-width="0.45"/>
<circle cx="266.1" cy="48.9" r="1.64" fill="#b0b0b0" stroke="#474747" stroke-width="0.45"/>
<circle cx="263.9" cy="50.9" r="1.96" fill="#b0b0b0" stroke="#474747" stroke-width="0.45"/>
<circle cx="262.2" cy="53.1" r="1.96" fill="#b0b0b0" stroke="#474747" stroke-width="0.45"/>
<circle cx="258.4" cy="53.6" r="1.55" fill="#b0b0b0" stroke="#474747" stroke-width="0.45"/>
<circle cx="255.2" cy="53.5" r="1.68" fill="#b0b0b0" stroke="#474747" stroke-width="0.45"/>
<circle cx="253.2" cy="54.6" r="1.96" fill="#b0b0b0" stroke="#474747" stroke-width="0.45"/>
<circle cx="249.8" cy="54.3" r="1.76" fill="#b0b0b0" stroke="#474747" stroke-width="0.45"/>
<circle cx="247.3" cy="53.6" r="1.94" fill="#b0b0b0" stroke="#474747" stroke-width="0.45"/>
<circle cx="243.0" cy="52.9" r="1.72" fill="#b0b0b0" stroke="#474747" stroke-width="0.45"/>
<circle cx="241.2" cy="51.0" r="1.72" fill="#b0b0b0" stroke="#474747" stroke-width="0.45"/>
<circle cx="239.0" cy="50.0" r="1.78" fill="#b0b0b0" stroke="#474747" stroke-width="0.45"/>
<circle cx="237.1" cy="47.5" r="1.45" fill="#b0b0b0" stroke="#474747" stroke-width="0.45"/>
<circle cx="235.6" cy="44.6" r="1.96" fill="#b0b0b0" stroke="#474747" stroke-width="0.45"/>
<circle cx="235.1" cy="42.7" r="1.45" fill="#b0b0b0" stroke="#474747" stroke-width="0.45"/>
<circle cx="234.1" cy="39.6" r="1.46" fill="#b0b0b0" stroke="#474747" stroke-width="0.45"/>
<circle cx="236.3" cy="36.8" r="1.97" fill="#b0b0b0" stroke="#474747" stroke-width="0.45"/>
<circle cx="236.8" cy="35.2" r="1.51" fill="#b0b0b0" stroke="#474747" stroke-width="0.45"/>
<circle cx="239.0" cy="33.1" r="1.53" fill="#b0b0b0" stroke="#474747" stroke-width="0.45"/>
<circle cx="241.4" cy="30.2" r="1.49" fill="#b0b0b0" stroke="#474747" stroke-width="0.45"/>
<circle cx="242.8" cy="29.1" r="1.61" fill="#b0b0b0" stroke="#474747" stroke-width="0.45"/>
<circle cx="246.6" cy="28.7" r="1.98" fill="#b0b0b0" stroke="#474747" stroke-width="0.45"/>
<circle cx="249.0" cy="28.6" r="1.86" fill="#b0b0b0" stroke="#474747" stroke-width="0.45"/>
<circle cx="252.0" cy="28.7" r="2.01" fill="#b0b0b0" stroke="#474747" stroke-width="0.45"/>
<circle cx="254.8" cy="29.7" r="1.43" fill="#b0b0b0" stroke="#474747" stroke-width="0.45"/>
<circle cx="258.9" cy="28.9" r="1.93" fill="#b0b0b0" stroke="#474747" stroke-width="0.45"/>
<circle cx="261.6" cy="29.0" r="1.82" fill="#b0b0b0" stroke="#474747" stroke-width="0.45"/>
<circle cx="264.3" cy="32.2" r="1.53" fill="#b0b0b0" stroke="#474747" stroke-width="0.45"/>
<circle cx="265.8" cy="33.3" r="1.81" fill="#b0b0b0" stroke="#474747" stroke-width="0.45"/>
<circle cx="266.5" cy="35.6" r="1.79" fill="#b0b0b0" stroke="#474747" stroke-width="0.45"/>
<circle cx="267.9" cy="39.0" r="1.80" fill="#b0b0b0" stroke="#474747" stroke-width="0.45"/><ellipse cx="248" cy="69" rx="1.6" ry="2" fill="#3a3a3a"/></g>
<rect x="210.20" y="10.90" width="85.7" height="63.6" fill="none" stroke="#3c3c3c" stroke-width="0.9"/></g>
<g><rect x="303.00" y="10.90" width="85.7" height="63.6" fill="#a2a2a2"/>
<g filter="url(#soft)"><polygon points="304.7,16.6 365,74.8 303.0,74.8 303.0,14" fill="#969696"/><line x1="303.5" y1="15.5" x2="365.5" y2="74.5" stroke="#c6c6c6" stroke-width="1.1"/><line x1="306" y1="14" x2="368" y2="73" stroke="#b0b0b0" stroke-width="0.6"/><polygon points="363.81,40.50 363.83,42.09 363.62,43.66 363.23,45.20 362.75,46.71 362.23,48.21 361.69,49.73 361.10,51.28 360.37,52.81 359.46,54.26 358.31,55.53 356.93,56.54 355.37,57.25 353.71,57.67 352.03,57.88 350.38,57.95 348.78,57.96 347.23,57.95 345.70,57.90 344.19,57.75 342.71,57.46 341.28,56.98 339.95,56.31 338.71,55.49 337.56,54.60 336.44,53.72 335.31,52.88 334.11,52.09 332.84,51.29 331.51,50.43 330.22,49.44 329.04,48.27 328.07,46.92 327.35,45.42 326.91,43.81 326.71,42.16 326.71,40.50 326.86,38.85 327.14,37.23 327.54,35.63 328.05,34.08 328.70,32.57 329.47,31.13 330.36,29.76 331.36,28.47 332.46,27.26 333.66,26.15 334.96,25.17 336.38,24.36 337.91,23.79 339.51,23.48 341.13,23.45 342.73,23.64 344.25,23.95 345.70,24.27 347.10,24.50 348.51,24.57 349.99,24.50 351.56,24.39 353.22,24.38 354.88,24.60 356.45,25.14 357.82,26.05 358.93,27.27 359.77,28.69 360.40,30.21 360.91,31.72 361.41,33.17 361.95,34.58 362.54,35.99 363.10,37.43 363.55,38.94" fill="#ababab"/>
<circle cx="350.7" cy="45.1" r="1.3" fill="#b8b8b8" opacity="0.44"/>
<circle cx="349.1" cy="30.9" r="1.1" fill="#7e7e7e" opacity="0.58"/>
<circle cx="345.5" cy="41.8" r="1.0" fill="#727272" opacity="0.47"/>
<circle cx="351.1" cy="43.6" r="1.3" fill="#c4c4c4" opacity="0.70"/>
<circle cx="335.6" cy="44.6" r="1.7" fill="#bcbcbc" opacity="0.39"/>
<circle cx="336.2" cy="34.6" r="1.9" fill="#7e7e7e" opacity="0.61"/>
<circle cx="334.0" cy="41.5" r="1.4" fill="#b8b8b8" opacity="0.43"/>
<circle cx="348.4" cy="32.0" r="1.0" fill="#727272" opacity="0.70"/>
<circle cx="344.9" cy="44.9" r="1.7" fill="#7e7e7e" opacity="0.39"/>
<circle cx="341.4" cy="39.8" r="2.0" fill="#c4c4c4" opacity="0.41"/>
<circle cx="340.4" cy="45.1" r="1.4" fill="#c4c4c4" opacity="0.56"/>
<circle cx="353.7" cy="45.9" r="1.4" fill="#7e7e7e" opacity="0.57"/>
<circle cx="334.9" cy="41.2" r="1.7" fill="#c4c4c4" opacity="0.55"/>
<circle cx="357.1" cy="41.9" r="0.9" fill="#c4c4c4" opacity="0.60"/>
<circle cx="340.1" cy="46.7" r="1.2" fill="#b8b8b8" opacity="0.42"/>
<circle cx="339.0" cy="33.6" r="1.0" fill="#b8b8b8" opacity="0.38"/>
<circle cx="346.5" cy="42.6" r="1.5" fill="#727272" opacity="0.45"/>
<circle cx="352.8" cy="37.5" r="1.0" fill="#b8b8b8" opacity="0.68"/>
<circle cx="345.8" cy="40.0" r="1.9" fill="#b8b8b8" opacity="0.44"/>
<circle cx="345.8" cy="50.6" r="1.2" fill="#b8b8b8" opacity="0.62"/>
<circle cx="339.5" cy="47.2" r="1.7" fill="#8a8a8a" opacity="0.63"/>
<circle cx="352.1" cy="50.3" r="1.3" fill="#7e7e7e" opacity="0.48"/>
<circle cx="355.1" cy="38.1" r="1.4" fill="#b8b8b8" opacity="0.68"/>
<circle cx="356.4" cy="42.7" r="1.4" fill="#c4c4c4" opacity="0.47"/>
<circle cx="345.4" cy="44.7" r="1.0" fill="#7e7e7e" opacity="0.67"/>
<circle cx="348.0" cy="49.6" r="1.5" fill="#7e7e7e" opacity="0.48"/>
<circle cx="347.1" cy="34.4" r="1.5" fill="#b8b8b8" opacity="0.50"/>
<circle cx="341.7" cy="41.9" r="1.1" fill="#bcbcbc" opacity="0.36"/>
<circle cx="356.8" cy="33.3" r="1.8" fill="#bcbcbc" opacity="0.70"/>
<circle cx="335.2" cy="33.3" r="1.0" fill="#bcbcbc" opacity="0.49"/>
<circle cx="344.8" cy="49.4" r="1.9" fill="#727272" opacity="0.37"/>
<circle cx="340.0" cy="28.4" r="1.8" fill="#8a8a8a" opacity="0.67"/>
<circle cx="357.1" cy="45.7" r="1.9" fill="#727272" opacity="0.64"/>
<circle cx="348.8" cy="39.1" r="1.2" fill="#bcbcbc" opacity="0.40"/>
<circle cx="338.8" cy="47.0" r="1.9" fill="#727272" opacity="0.51"/>
<circle cx="353.6" cy="31.5" r="1.2" fill="#727272" opacity="0.69"/>
<circle cx="345.8" cy="51.3" r="1.5" fill="#bcbcbc" opacity="0.54"/>
<circle cx="348.8" cy="30.3" r="1.9" fill="#727272" opacity="0.67"/>
<circle cx="351.2" cy="33.5" r="1.2" fill="#c4c4c4" opacity="0.60"/>
<circle cx="342.6" cy="45.8" r="2.0" fill="#b8b8b8" opacity="0.63"/>
<circle cx="342.1" cy="27.9" r="1.5" fill="#8a8a8a" opacity="0.66"/>
<circle cx="356.5" cy="42.3" r="1.3" fill="#c4c4c4" opacity="0.48"/>
<circle cx="340.1" cy="36.3" r="2.0" fill="#c4c4c4" opacity="0.62"/>
<circle cx="338.3" cy="47.8" r="1.3" fill="#7e7e7e" opacity="0.53"/>
<circle cx="350.7" cy="45.2" r="1.1" fill="#7e7e7e" opacity="0.65"/>
<circle cx="364.2" cy="39.8" r="1.68" fill="#b3b3b3" stroke="#474747" stroke-width="0.65"/>
<circle cx="363.8" cy="39.4" r="0.67" fill="#e6e6e6" opacity="0.6"/>
<circle cx="364.3" cy="42.9" r="1.77" fill="#c8c8c8" stroke="#474747" stroke-width="0.65"/>
<circle cx="363.7" cy="46.3" r="1.44" fill="#c8c8c8" stroke="#474747" stroke-width="0.65"/>
<circle cx="361.8" cy="49.1" r="1.52" fill="#c8c8c8" stroke="#474747" stroke-width="0.65"/>
<circle cx="361.4" cy="48.7" r="0.61" fill="#e6e6e6" opacity="0.6"/>
<circle cx="361.4" cy="51.3" r="1.60" fill="#b3b3b3" stroke="#474747" stroke-width="0.65"/>
<circle cx="360.1" cy="53.7" r="1.68" fill="#b3b3b3" stroke="#474747" stroke-width="0.65"/>
<circle cx="357.0" cy="56.0" r="1.43" fill="#c8c8c8" stroke="#474747" stroke-width="0.65"/>
<circle cx="356.6" cy="55.6" r="0.57" fill="#e6e6e6" opacity="0.6"/>
<circle cx="354.6" cy="57.2" r="1.58" fill="#b3b3b3" stroke="#474747" stroke-width="0.65"/>
<circle cx="352.3" cy="58.7" r="1.53" fill="#b3b3b3" stroke="#474747" stroke-width="0.65"/>
<circle cx="347.8" cy="57.5" r="1.93" fill="#b3b3b3" stroke="#474747" stroke-width="0.65"/>
<circle cx="345.2" cy="58.4" r="1.51" fill="#c8c8c8" stroke="#474747" stroke-width="0.65"/>
<circle cx="342.8" cy="57.2" r="1.72" fill="#b3b3b3" stroke="#474747" stroke-width="0.65"/>
<circle cx="342.4" cy="56.8" r="0.69" fill="#e6e6e6" opacity="0.6"/>
<circle cx="341.0" cy="57.5" r="1.57" fill="#b3b3b3" stroke="#474747" stroke-width="0.65"/>
<circle cx="338.6" cy="55.4" r="1.85" fill="#b3b3b3" stroke="#474747" stroke-width="0.65"/>
<circle cx="338.2" cy="55.0" r="0.74" fill="#e6e6e6" opacity="0.6"/>
<circle cx="336.4" cy="53.5" r="1.47" fill="#b3b3b3" stroke="#474747" stroke-width="0.65"/>
<circle cx="333.4" cy="52.1" r="1.73" fill="#b3b3b3" stroke="#474747" stroke-width="0.65"/>
<circle cx="333.0" cy="51.7" r="0.69" fill="#e6e6e6" opacity="0.6"/>
<circle cx="331.7" cy="50.6" r="2.00" fill="#b3b3b3" stroke="#474747" stroke-width="0.65"/>
<circle cx="331.3" cy="50.2" r="0.80" fill="#e6e6e6" opacity="0.6"/>
<circle cx="330.2" cy="49.2" r="2.00" fill="#b3b3b3" stroke="#474747" stroke-width="0.65"/>
<circle cx="329.8" cy="48.8" r="0.80" fill="#e6e6e6" opacity="0.6"/>
<circle cx="326.7" cy="46.1" r="1.93" fill="#b3b3b3" stroke="#474747" stroke-width="0.65"/>
<circle cx="326.3" cy="45.7" r="0.77" fill="#e6e6e6" opacity="0.6"/>
<circle cx="327.4" cy="42.6" r="1.74" fill="#b3b3b3" stroke="#474747" stroke-width="0.65"/>
<circle cx="326.0" cy="40.2" r="1.94" fill="#c8c8c8" stroke="#474747" stroke-width="0.65"/>
<circle cx="327.8" cy="37.1" r="1.70" fill="#b3b3b3" stroke="#474747" stroke-width="0.65"/>
<circle cx="327.4" cy="36.7" r="0.68" fill="#e6e6e6" opacity="0.6"/>
<circle cx="327.7" cy="34.9" r="1.59" fill="#b3b3b3" stroke="#474747" stroke-width="0.65"/>
<circle cx="328.7" cy="32.4" r="1.62" fill="#b3b3b3" stroke="#474747" stroke-width="0.65"/>
<circle cx="330.6" cy="30.2" r="1.43" fill="#b3b3b3" stroke="#474747" stroke-width="0.65"/>
<circle cx="330.2" cy="29.8" r="0.57" fill="#e6e6e6" opacity="0.6"/>
<circle cx="332.6" cy="27.1" r="1.52" fill="#b3b3b3" stroke="#474747" stroke-width="0.65"/>
<circle cx="335.3" cy="25.1" r="1.87" fill="#b3b3b3" stroke="#474747" stroke-width="0.65"/>
<circle cx="337.0" cy="23.7" r="1.89" fill="#c8c8c8" stroke="#474747" stroke-width="0.65"/>
<circle cx="340.6" cy="23.9" r="1.71" fill="#c8c8c8" stroke="#474747" stroke-width="0.65"/>
<circle cx="340.2" cy="23.5" r="0.69" fill="#e6e6e6" opacity="0.6"/>
<circle cx="343.0" cy="24.3" r="1.54" fill="#c8c8c8" stroke="#474747" stroke-width="0.65"/>
<circle cx="346.1" cy="25.1" r="1.57" fill="#c8c8c8" stroke="#474747" stroke-width="0.65"/>
<circle cx="345.7" cy="24.7" r="0.63" fill="#e6e6e6" opacity="0.6"/>
<circle cx="347.6" cy="25.3" r="1.57" fill="#c8c8c8" stroke="#474747" stroke-width="0.65"/>
<circle cx="351.6" cy="24.2" r="1.57" fill="#b3b3b3" stroke="#474747" stroke-width="0.65"/>
<circle cx="354.3" cy="24.5" r="1.49" fill="#c8c8c8" stroke="#474747" stroke-width="0.65"/>
<circle cx="356.8" cy="24.4" r="2.00" fill="#c8c8c8" stroke="#474747" stroke-width="0.65"/>
<circle cx="359.7" cy="27.0" r="1.70" fill="#b3b3b3" stroke="#474747" stroke-width="0.65"/>
<circle cx="361.0" cy="29.4" r="1.60" fill="#b3b3b3" stroke="#474747" stroke-width="0.65"/>
<circle cx="361.2" cy="31.8" r="2.00" fill="#c8c8c8" stroke="#474747" stroke-width="0.65"/>
<circle cx="360.8" cy="31.4" r="0.80" fill="#e6e6e6" opacity="0.6"/>
<circle cx="361.6" cy="34.8" r="1.70" fill="#b3b3b3" stroke="#474747" stroke-width="0.65"/>
<circle cx="363.0" cy="36.9" r="1.92" fill="#c8c8c8" stroke="#474747" stroke-width="0.65"/>
<circle cx="362.6" cy="36.5" r="0.77" fill="#e6e6e6" opacity="0.6"/>
<circle cx="361.0" cy="40.7" r="1.80" fill="#b3b3b3" stroke="#474747" stroke-width="0.65"/>
<circle cx="361.8" cy="44.0" r="1.66" fill="#b3b3b3" stroke="#474747" stroke-width="0.65"/>
<circle cx="361.4" cy="43.6" r="0.66" fill="#e6e6e6" opacity="0.6"/>
<circle cx="360.6" cy="45.9" r="1.83" fill="#c8c8c8" stroke="#474747" stroke-width="0.65"/>
<circle cx="360.2" cy="45.5" r="0.73" fill="#e6e6e6" opacity="0.6"/>
<circle cx="359.2" cy="48.0" r="2.00" fill="#c8c8c8" stroke="#474747" stroke-width="0.65"/>
<circle cx="358.1" cy="52.4" r="1.70" fill="#c8c8c8" stroke="#474747" stroke-width="0.65"/>
<circle cx="356.6" cy="52.8" r="1.79" fill="#b3b3b3" stroke="#474747" stroke-width="0.65"/>
<circle cx="356.2" cy="52.4" r="0.72" fill="#e6e6e6" opacity="0.6"/>
<circle cx="354.3" cy="55.3" r="1.64" fill="#c8c8c8" stroke="#474747" stroke-width="0.65"/>
<circle cx="353.9" cy="54.9" r="0.65" fill="#e6e6e6" opacity="0.6"/>
<circle cx="350.0" cy="55.4" r="1.44" fill="#b3b3b3" stroke="#474747" stroke-width="0.65"/>
<circle cx="348.6" cy="56.0" r="1.74" fill="#b3b3b3" stroke="#474747" stroke-width="0.65"/>
<circle cx="345.0" cy="55.0" r="1.43" fill="#b3b3b3" stroke="#474747" stroke-width="0.65"/>
<circle cx="342.5" cy="55.0" r="1.77" fill="#b3b3b3" stroke="#474747" stroke-width="0.65"/>
<circle cx="339.8" cy="52.9" r="1.99" fill="#b3b3b3" stroke="#474747" stroke-width="0.65"/>
<circle cx="339.4" cy="52.5" r="0.80" fill="#e6e6e6" opacity="0.6"/>
<circle cx="337.6" cy="52.5" r="1.48" fill="#b3b3b3" stroke="#474747" stroke-width="0.65"/>
<circle cx="337.2" cy="52.1" r="0.59" fill="#e6e6e6" opacity="0.6"/>
<circle cx="336.1" cy="50.4" r="1.69" fill="#b3b3b3" stroke="#474747" stroke-width="0.65"/>
<circle cx="335.7" cy="50.0" r="0.67" fill="#e6e6e6" opacity="0.6"/>
<circle cx="334.2" cy="49.3" r="1.98" fill="#b3b3b3" stroke="#474747" stroke-width="0.65"/>
<circle cx="333.8" cy="48.9" r="0.79" fill="#e6e6e6" opacity="0.6"/>
<circle cx="331.0" cy="47.6" r="1.53" fill="#c8c8c8" stroke="#474747" stroke-width="0.65"/>
<circle cx="329.2" cy="45.6" r="1.50" fill="#c8c8c8" stroke="#474747" stroke-width="0.65"/>
<circle cx="328.8" cy="45.2" r="0.60" fill="#e6e6e6" opacity="0.6"/>
<circle cx="329.7" cy="41.9" r="1.76" fill="#b3b3b3" stroke="#474747" stroke-width="0.65"/>
<circle cx="329.8" cy="38.4" r="1.88" fill="#b3b3b3" stroke="#474747" stroke-width="0.65"/>
<circle cx="329.4" cy="38.0" r="0.75" fill="#e6e6e6" opacity="0.6"/>
<circle cx="329.7" cy="36.9" r="1.88" fill="#c8c8c8" stroke="#474747" stroke-width="0.65"/>
<circle cx="331.6" cy="32.9" r="1.72" fill="#b3b3b3" stroke="#474747" stroke-width="0.65"/>
<circle cx="331.2" cy="32.5" r="0.69" fill="#e6e6e6" opacity="0.6"/>
<circle cx="332.4" cy="31.2" r="1.85" fill="#b3b3b3" stroke="#474747" stroke-width="0.65"/>
<circle cx="332.0" cy="30.8" r="0.74" fill="#e6e6e6" opacity="0.6"/>
<circle cx="334.5" cy="29.5" r="2.01" fill="#b3b3b3" stroke="#474747" stroke-width="0.65"/>
<circle cx="334.1" cy="29.1" r="0.80" fill="#e6e6e6" opacity="0.6"/>
<circle cx="336.6" cy="27.7" r="1.95" fill="#b3b3b3" stroke="#474747" stroke-width="0.65"/>
<circle cx="336.2" cy="27.3" r="0.78" fill="#e6e6e6" opacity="0.6"/>
<circle cx="339.1" cy="25.9" r="1.56" fill="#b3b3b3" stroke="#474747" stroke-width="0.65"/>
<circle cx="338.7" cy="25.5" r="0.63" fill="#e6e6e6" opacity="0.6"/>
<circle cx="342.4" cy="26.4" r="1.85" fill="#b3b3b3" stroke="#474747" stroke-width="0.65"/>
<circle cx="344.9" cy="26.8" r="1.64" fill="#c8c8c8" stroke="#474747" stroke-width="0.65"/>
<circle cx="344.5" cy="26.4" r="0.66" fill="#e6e6e6" opacity="0.6"/>
<circle cx="347.3" cy="26.3" r="1.59" fill="#b3b3b3" stroke="#474747" stroke-width="0.65"/>
<circle cx="350.0" cy="26.3" r="1.96" fill="#c8c8c8" stroke="#474747" stroke-width="0.65"/>
<circle cx="353.6" cy="26.0" r="1.96" fill="#b3b3b3" stroke="#474747" stroke-width="0.65"/>
<circle cx="356.3" cy="28.4" r="1.81" fill="#c8c8c8" stroke="#474747" stroke-width="0.65"/>
<circle cx="357.9" cy="30.9" r="1.58" fill="#b3b3b3" stroke="#474747" stroke-width="0.65"/>
<circle cx="357.5" cy="30.5" r="0.63" fill="#e6e6e6" opacity="0.6"/>
<circle cx="359.3" cy="33.1" r="1.49" fill="#c8c8c8" stroke="#474747" stroke-width="0.65"/>
<circle cx="360.6" cy="35.6" r="1.97" fill="#b3b3b3" stroke="#474747" stroke-width="0.65"/>
<circle cx="361.4" cy="38.4" r="1.90" fill="#b3b3b3" stroke="#474747" stroke-width="0.65"/>
<circle cx="361.0" cy="38.0" r="0.76" fill="#e6e6e6" opacity="0.6"/>
<circle cx="358.5" cy="40.2" r="1.97" fill="#b0b0b0" stroke="#474747" stroke-width="0.45"/>
<circle cx="359.6" cy="43.1" r="1.95" fill="#b0b0b0" stroke="#474747" stroke-width="0.45"/>
<circle cx="358.1" cy="46.7" r="1.80" fill="#b0b0b0" stroke="#474747" stroke-width="0.45"/>
<circle cx="356.8" cy="49.5" r="1.59" fill="#b0b0b0" stroke="#474747" stroke-width="0.45"/>
<circle cx="355.2" cy="51.0" r="1.91" fill="#b0b0b0" stroke="#474747" stroke-width="0.45"/>
<circle cx="351.8" cy="53.1" r="1.85" fill="#b0b0b0" stroke="#474747" stroke-width="0.45"/>
<circle cx="349.3" cy="53.0" r="1.95" fill="#b0b0b0" stroke="#474747" stroke-width="0.45"/>
<circle cx="345.6" cy="53.4" r="1.42" fill="#b0b0b0" stroke="#474747" stroke-width="0.45"/>
<circle cx="344.1" cy="53.8" r="1.97" fill="#b0b0b0" stroke="#474747" stroke-width="0.45"/>
<circle cx="340.3" cy="51.9" r="1.74" fill="#b0b0b0" stroke="#474747" stroke-width="0.45"/>
<circle cx="339.2" cy="51.1" r="1.42" fill="#b0b0b0" stroke="#474747" stroke-width="0.45"/>
<circle cx="337.2" cy="49.6" r="1.65" fill="#b0b0b0" stroke="#474747" stroke-width="0.45"/>
<circle cx="334.8" cy="47.1" r="1.77" fill="#b0b0b0" stroke="#474747" stroke-width="0.45"/>
<circle cx="332.3" cy="45.7" r="1.56" fill="#b0b0b0" stroke="#474747" stroke-width="0.45"/>
<circle cx="331.2" cy="42.6" r="1.87" fill="#b0b0b0" stroke="#474747" stroke-width="0.45"/>
<circle cx="331.8" cy="38.7" r="1.42" fill="#b0b0b0" stroke="#474747" stroke-width="0.45"/>
<circle cx="332.3" cy="36.4" r="1.83" fill="#b0b0b0" stroke="#474747" stroke-width="0.45"/>
<circle cx="333.9" cy="32.5" r="1.70" fill="#b0b0b0" stroke="#474747" stroke-width="0.45"/>
<circle cx="336.2" cy="31.0" r="1.63" fill="#b0b0b0" stroke="#474747" stroke-width="0.45"/>
<circle cx="337.4" cy="29.7" r="1.65" fill="#b0b0b0" stroke="#474747" stroke-width="0.45"/>
<circle cx="340.4" cy="27.5" r="1.40" fill="#b0b0b0" stroke="#474747" stroke-width="0.45"/>
<circle cx="343.2" cy="27.9" r="2.00" fill="#b0b0b0" stroke="#474747" stroke-width="0.45"/>
<circle cx="345.8" cy="29.0" r="1.81" fill="#b0b0b0" stroke="#474747" stroke-width="0.45"/>
<circle cx="348.5" cy="28.9" r="1.96" fill="#b0b0b0" stroke="#474747" stroke-width="0.45"/>
<circle cx="352.5" cy="28.7" r="1.68" fill="#b0b0b0" stroke="#474747" stroke-width="0.45"/>
<circle cx="355.0" cy="29.8" r="1.75" fill="#b0b0b0" stroke="#474747" stroke-width="0.45"/>
<circle cx="355.6" cy="32.1" r="1.88" fill="#b0b0b0" stroke="#474747" stroke-width="0.45"/>
<circle cx="356.6" cy="34.6" r="1.86" fill="#b0b0b0" stroke="#474747" stroke-width="0.45"/>
<circle cx="358.9" cy="37.7" r="1.65" fill="#b0b0b0" stroke="#474747" stroke-width="0.45"/></g>
<rect x="303.00" y="10.90" width="85.7" height="63.6" fill="none" stroke="#3c3c3c" stroke-width="0.9"/></g>
<g><rect x="395.80" y="10.90" width="85.7" height="63.6" fill="#ababab"/>
<g filter="url(#soft)"><polygon points="453.54,38.00 454.06,39.35 454.36,40.78 454.35,42.22 454.04,43.62 453.47,44.93 452.72,46.14 451.86,47.27 450.97,48.34 450.04,49.39 449.08,50.42 448.04,51.37 446.89,52.20 445.62,52.82 444.25,53.18 442.84,53.27 441.43,53.12 440.08,52.81 438.80,52.41 437.59,52.03 436.42,51.69 435.25,51.42 434.06,51.19 432.84,50.94 431.60,50.63 430.37,50.20 429.18,49.62 428.06,48.88 427.06,47.99 426.20,46.94 425.51,45.77 425.02,44.51 424.72,43.19 424.60,41.85 424.63,40.53 424.74,39.25 424.87,38.00 424.96,36.77 425.00,35.53 424.99,34.25 424.98,32.90 425.06,31.51 425.29,30.10 425.73,28.73 426.41,27.47 427.31,26.36 428.38,25.42 429.57,24.65 430.83,24.02 432.13,23.50 433.44,23.08 434.77,22.75 436.11,22.54 437.46,22.47 438.80,22.54 440.12,22.76 441.40,23.08 442.64,23.49 443.84,23.96 445.02,24.49 446.16,25.08 447.24,25.79 448.22,26.62 449.06,27.60 449.73,28.71 450.22,29.89 450.59,31.10 450.90,32.28 451.24,33.41 451.69,34.50 452.25,35.60 452.90,36.75" fill="#a8a8a8"/>
<circle cx="437.2" cy="31.9" r="1.3" fill="#b8b8b8" opacity="0.68"/>
<circle cx="440.7" cy="44.8" r="1.1" fill="#b8b8b8" opacity="0.67"/>
<circle cx="433.8" cy="37.6" r="1.8" fill="#c4c4c4" opacity="0.52"/>
<circle cx="429.3" cy="40.4" r="1.5" fill="#c4c4c4" opacity="0.68"/>
<circle cx="434.1" cy="31.8" r="1.4" fill="#727272" opacity="0.68"/>
<circle cx="443.1" cy="38.5" r="1.6" fill="#7e7e7e" opacity="0.62"/>
<circle cx="439.6" cy="36.8" r="1.4" fill="#8a8a8a" opacity="0.66"/>
<circle cx="442.1" cy="40.4" r="1.0" fill="#727272" opacity="0.60"/>
<circle cx="443.7" cy="35.4" r="1.2" fill="#8a8a8a" opacity="0.54"/>
<circle cx="435.9" cy="38.0" r="1.2" fill="#b8b8b8" opacity="0.64"/>
<circle cx="434.6" cy="47.2" r="1.9" fill="#b8b8b8" opacity="0.62"/>
<circle cx="439.3" cy="27.5" r="1.4" fill="#b8b8b8" opacity="0.39"/>
<circle cx="432.4" cy="38.3" r="1.9" fill="#b8b8b8" opacity="0.61"/>
<circle cx="438.3" cy="40.1" r="1.9" fill="#727272" opacity="0.41"/>
<circle cx="431.6" cy="38.0" r="0.9" fill="#c4c4c4" opacity="0.37"/>
<circle cx="443.4" cy="31.0" r="1.2" fill="#c4c4c4" opacity="0.61"/>
<circle cx="429.8" cy="41.0" r="1.0" fill="#bcbcbc" opacity="0.35"/>
<circle cx="434.5" cy="45.6" r="1.4" fill="#c4c4c4" opacity="0.37"/>
<circle cx="443.8" cy="35.8" r="1.2" fill="#c4c4c4" opacity="0.64"/>
<circle cx="442.1" cy="27.9" r="0.9" fill="#c4c4c4" opacity="0.58"/>
<circle cx="434.8" cy="43.7" r="0.9" fill="#8a8a8a" opacity="0.44"/>
<circle cx="431.3" cy="38.0" r="1.9" fill="#b8b8b8" opacity="0.59"/>
<circle cx="436.5" cy="43.5" r="1.3" fill="#8a8a8a" opacity="0.43"/>
<circle cx="447.1" cy="33.7" r="1.8" fill="#bcbcbc" opacity="0.61"/>
<circle cx="447.3" cy="44.9" r="1.3" fill="#8a8a8a" opacity="0.66"/>
<circle cx="442.8" cy="33.0" r="1.3" fill="#b8b8b8" opacity="0.61"/>
<circle cx="431.6" cy="35.7" r="1.3" fill="#727272" opacity="0.63"/>
<circle cx="448.7" cy="38.3" r="1.7" fill="#7e7e7e" opacity="0.51"/>
<circle cx="441.7" cy="42.6" r="1.5" fill="#8a8a8a" opacity="0.61"/>
<circle cx="435.1" cy="42.1" r="1.6" fill="#8a8a8a" opacity="0.57"/>
<circle cx="448.1" cy="37.7" r="1.1" fill="#8a8a8a" opacity="0.60"/>
<circle cx="440.0" cy="31.5" r="2.0" fill="#8a8a8a" opacity="0.58"/>
<circle cx="433.8" cy="41.3" r="1.7" fill="#7e7e7e" opacity="0.47"/>
<circle cx="442.0" cy="45.7" r="1.5" fill="#bcbcbc" opacity="0.42"/>
<circle cx="444.4" cy="40.5" r="1.6" fill="#bcbcbc" opacity="0.63"/>
<circle cx="437.3" cy="29.5" r="1.3" fill="#7e7e7e" opacity="0.56"/>
<circle cx="443.6" cy="33.4" r="1.4" fill="#7e7e7e" opacity="0.66"/>
<circle cx="432.8" cy="44.2" r="1.1" fill="#8a8a8a" opacity="0.70"/>
<circle cx="444.9" cy="34.6" r="1.4" fill="#7e7e7e" opacity="0.50"/>
<circle cx="447.7" cy="33.4" r="1.6" fill="#7e7e7e" opacity="0.69"/>
<circle cx="453.4" cy="37.9" r="1.80" fill="#c8c8c8" stroke="#555555" stroke-width="0.65"/>
<circle cx="454.5" cy="40.1" r="1.67" fill="#bababa" stroke="#555555" stroke-width="0.65"/>
<circle cx="453.4" cy="44.1" r="1.68" fill="#bababa" stroke="#555555" stroke-width="0.65"/>
<circle cx="451.8" cy="46.4" r="1.81" fill="#bababa" stroke="#555555" stroke-width="0.65"/>
<circle cx="450.7" cy="49.1" r="1.69" fill="#c8c8c8" stroke="#555555" stroke-width="0.65"/>
<circle cx="448.6" cy="50.9" r="1.64" fill="#c8c8c8" stroke="#555555" stroke-width="0.65"/>
<circle cx="448.2" cy="50.5" r="0.66" fill="#e6e6e6" opacity="0.6"/>
<circle cx="446.1" cy="53.3" r="1.93" fill="#c8c8c8" stroke="#555555" stroke-width="0.65"/>
<circle cx="442.8" cy="53.1" r="1.59" fill="#bababa" stroke="#555555" stroke-width="0.65"/>
<circle cx="442.4" cy="52.7" r="0.63" fill="#e6e6e6" opacity="0.6"/>
<circle cx="440.0" cy="52.4" r="1.58" fill="#bababa" stroke="#555555" stroke-width="0.65"/>
<circle cx="436.2" cy="51.6" r="1.72" fill="#c8c8c8" stroke="#555555" stroke-width="0.65"/>
<circle cx="435.8" cy="51.2" r="0.69" fill="#e6e6e6" opacity="0.6"/>
<circle cx="434.5" cy="52.0" r="1.54" fill="#c8c8c8" stroke="#555555" stroke-width="0.65"/>
<circle cx="431.3" cy="50.7" r="1.81" fill="#bababa" stroke="#555555" stroke-width="0.65"/>
<circle cx="429.3" cy="49.2" r="1.89" fill="#bababa" stroke="#555555" stroke-width="0.65"/>
<circle cx="428.9" cy="48.8" r="0.76" fill="#e6e6e6" opacity="0.6"/>
<circle cx="427.1" cy="47.7" r="1.87" fill="#bababa" stroke="#555555" stroke-width="0.65"/>
<circle cx="425.0" cy="44.7" r="1.91" fill="#c8c8c8" stroke="#555555" stroke-width="0.65"/>
<circle cx="425.0" cy="42.4" r="1.70" fill="#bababa" stroke="#555555" stroke-width="0.65"/>
<circle cx="424.3" cy="38.8" r="1.70" fill="#bababa" stroke="#555555" stroke-width="0.65"/>
<circle cx="425.4" cy="36.5" r="1.97" fill="#bababa" stroke="#555555" stroke-width="0.65"/>
<circle cx="424.3" cy="33.4" r="1.60" fill="#c8c8c8" stroke="#555555" stroke-width="0.65"/>
<circle cx="425.7" cy="31.6" r="1.42" fill="#bababa" stroke="#555555" stroke-width="0.65"/>
<circle cx="425.3" cy="31.2" r="0.57" fill="#e6e6e6" opacity="0.6"/>
<circle cx="425.8" cy="28.1" r="1.96" fill="#bababa" stroke="#555555" stroke-width="0.65"/>
<circle cx="428.1" cy="25.4" r="1.86" fill="#bababa" stroke="#555555" stroke-width="0.65"/>
<circle cx="431.2" cy="23.7" r="1.54" fill="#bababa" stroke="#555555" stroke-width="0.65"/>
<circle cx="433.3" cy="23.7" r="1.44" fill="#c8c8c8" stroke="#555555" stroke-width="0.65"/>
<circle cx="437.0" cy="22.4" r="1.67" fill="#c8c8c8" stroke="#555555" stroke-width="0.65"/>
<circle cx="440.3" cy="22.0" r="1.98" fill="#c8c8c8" stroke="#555555" stroke-width="0.65"/>
<circle cx="441.9" cy="23.2" r="1.71" fill="#bababa" stroke="#555555" stroke-width="0.65"/>
<circle cx="441.5" cy="22.8" r="0.68" fill="#e6e6e6" opacity="0.6"/>
<circle cx="444.1" cy="24.2" r="1.98" fill="#c8c8c8" stroke="#555555" stroke-width="0.65"/>
<circle cx="443.7" cy="23.8" r="0.79" fill="#e6e6e6" opacity="0.6"/>
<circle cx="447.0" cy="25.4" r="2.01" fill="#bababa" stroke="#555555" stroke-width="0.65"/>
<circle cx="446.6" cy="25.0" r="0.80" fill="#e6e6e6" opacity="0.6"/>
<circle cx="449.9" cy="27.8" r="1.66" fill="#bababa" stroke="#555555" stroke-width="0.65"/>
<circle cx="450.5" cy="29.5" r="1.73" fill="#bababa" stroke="#555555" stroke-width="0.65"/>
<circle cx="451.7" cy="32.9" r="1.59" fill="#bababa" stroke="#555555" stroke-width="0.65"/>
<circle cx="453.1" cy="35.9" r="1.72" fill="#c8c8c8" stroke="#555555" stroke-width="0.65"/>
<circle cx="452.7" cy="35.5" r="0.69" fill="#e6e6e6" opacity="0.6"/>
<circle cx="451.9" cy="37.4" r="1.57" fill="#c8c8c8" stroke="#555555" stroke-width="0.65"/>
<circle cx="451.9" cy="41.8" r="1.91" fill="#c8c8c8" stroke="#555555" stroke-width="0.65"/>
<circle cx="451.3" cy="43.6" r="1.52" fill="#c8c8c8" stroke="#555555" stroke-width="0.65"/>
<circle cx="450.9" cy="43.2" r="0.61" fill="#e6e6e6" opacity="0.6"/>
<circle cx="449.3" cy="46.5" r="1.94" fill="#c8c8c8" stroke="#555555" stroke-width="0.65"/>
<circle cx="447.5" cy="48.6" r="1.41" fill="#bababa" stroke="#555555" stroke-width="0.65"/>
<circle cx="444.7" cy="50.2" r="1.88" fill="#bababa" stroke="#555555" stroke-width="0.65"/>
<circle cx="442.5" cy="51.4" r="1.80" fill="#bababa" stroke="#555555" stroke-width="0.65"/>
<circle cx="440.3" cy="51.2" r="1.43" fill="#bababa" stroke="#555555" stroke-width="0.65"/>
<circle cx="439.9" cy="50.8" r="0.57" fill="#e6e6e6" opacity="0.6"/>
<circle cx="436.7" cy="50.2" r="1.65" fill="#bababa" stroke="#555555" stroke-width="0.65"/>
<circle cx="433.6" cy="49.1" r="1.87" fill="#bababa" stroke="#555555" stroke-width="0.65"/>
<circle cx="433.2" cy="48.7" r="0.75" fill="#e6e6e6" opacity="0.6"/>
<circle cx="432.1" cy="49.1" r="1.78" fill="#bababa" stroke="#555555" stroke-width="0.65"/>
<circle cx="431.7" cy="48.7" r="0.71" fill="#e6e6e6" opacity="0.6"/>
<circle cx="429.6" cy="47.5" r="1.59" fill="#bababa" stroke="#555555" stroke-width="0.65"/>
<circle cx="429.2" cy="47.1" r="0.64" fill="#e6e6e6" opacity="0.6"/>
<circle cx="427.2" cy="44.4" r="1.52" fill="#bababa" stroke="#555555" stroke-width="0.65"/>
<circle cx="426.1" cy="42.2" r="1.41" fill="#c8c8c8" stroke="#555555" stroke-width="0.65"/>
<circle cx="425.7" cy="41.8" r="0.56" fill="#e6e6e6" opacity="0.6"/>
<circle cx="425.9" cy="40.1" r="2.00" fill="#c8c8c8" stroke="#555555" stroke-width="0.65"/>
<circle cx="426.5" cy="36.1" r="1.43" fill="#c8c8c8" stroke="#555555" stroke-width="0.65"/>
<circle cx="426.1" cy="35.7" r="0.57" fill="#e6e6e6" opacity="0.6"/>
<circle cx="426.4" cy="34.4" r="1.95" fill="#c8c8c8" stroke="#555555" stroke-width="0.65"/>
<circle cx="426.0" cy="34.0" r="0.78" fill="#e6e6e6" opacity="0.6"/>
<circle cx="427.3" cy="30.9" r="1.68" fill="#bababa" stroke="#555555" stroke-width="0.65"/>
<circle cx="428.8" cy="27.3" r="1.59" fill="#bababa" stroke="#555555" stroke-width="0.65"/>
<circle cx="431.3" cy="26.4" r="1.51" fill="#bababa" stroke="#555555" stroke-width="0.65"/>
<circle cx="430.9" cy="26.0" r="0.60" fill="#e6e6e6" opacity="0.6"/>
<circle cx="433.0" cy="25.6" r="1.98" fill="#c8c8c8" stroke="#555555" stroke-width="0.65"/>
<circle cx="432.6" cy="25.2" r="0.79" fill="#e6e6e6" opacity="0.6"/>
<circle cx="437.5" cy="25.1" r="1.52" fill="#bababa" stroke="#555555" stroke-width="0.65"/>
<circle cx="437.1" cy="24.7" r="0.61" fill="#e6e6e6" opacity="0.6"/>
<circle cx="440.1" cy="24.6" r="1.91" fill="#c8c8c8" stroke="#555555" stroke-width="0.65"/>
<circle cx="442.7" cy="26.3" r="1.51" fill="#c8c8c8" stroke="#555555" stroke-width="0.65"/>
<circle cx="445.0" cy="27.3" r="1.77" fill="#bababa" stroke="#555555" stroke-width="0.65"/>
<circle cx="446.6" cy="28.2" r="1.59" fill="#bababa" stroke="#555555" stroke-width="0.65"/>
<circle cx="446.2" cy="27.8" r="0.64" fill="#e6e6e6" opacity="0.6"/>
<circle cx="449.0" cy="31.1" r="1.89" fill="#c8c8c8" stroke="#555555" stroke-width="0.65"/>
<circle cx="449.2" cy="32.6" r="1.79" fill="#c8c8c8" stroke="#555555" stroke-width="0.65"/>
<circle cx="450.2" cy="36.1" r="1.52" fill="#c8c8c8" stroke="#555555" stroke-width="0.65"/>
<circle cx="449.8" cy="35.7" r="0.61" fill="#e6e6e6" opacity="0.6"/>
<circle cx="449.6" cy="37.6" r="1.40" fill="#b0b0b0" stroke="#555555" stroke-width="0.45"/>
<circle cx="450.6" cy="41.7" r="1.43" fill="#b0b0b0" stroke="#555555" stroke-width="0.45"/>
<circle cx="450.0" cy="43.4" r="1.74" fill="#b0b0b0" stroke="#555555" stroke-width="0.45"/>
<circle cx="447.2" cy="46.1" r="1.46" fill="#b0b0b0" stroke="#555555" stroke-width="0.45"/>
<circle cx="445.0" cy="47.9" r="1.96" fill="#b0b0b0" stroke="#555555" stroke-width="0.45"/>
<circle cx="442.4" cy="49.4" r="1.86" fill="#b0b0b0" stroke="#555555" stroke-width="0.45"/>
<circle cx="439.5" cy="49.1" r="1.80" fill="#b0b0b0" stroke="#555555" stroke-width="0.45"/>
<circle cx="437.4" cy="48.3" r="1.76" fill="#b0b0b0" stroke="#555555" stroke-width="0.45"/>
<circle cx="434.0" cy="47.5" r="2.00" fill="#b0b0b0" stroke="#555555" stroke-width="0.45"/>
<circle cx="432.1" cy="46.6" r="1.75" fill="#b0b0b0" stroke="#555555" stroke-width="0.45"/>
<circle cx="429.6" cy="44.3" r="1.70" fill="#b0b0b0" stroke="#555555" stroke-width="0.45"/>
<circle cx="428.0" cy="41.5" r="1.69" fill="#b0b0b0" stroke="#555555" stroke-width="0.45"/>
<circle cx="428.1" cy="39.5" r="1.71" fill="#b0b0b0" stroke="#555555" stroke-width="0.45"/>
<circle cx="428.7" cy="37.0" r="1.63" fill="#b0b0b0" stroke="#555555" stroke-width="0.45"/>
<circle cx="428.4" cy="33.1" r="1.77" fill="#b0b0b0" stroke="#555555" stroke-width="0.45"/>
<circle cx="429.0" cy="31.8" r="1.92" fill="#b0b0b0" stroke="#555555" stroke-width="0.45"/>
<circle cx="431.3" cy="27.9" r="1.82" fill="#b0b0b0" stroke="#555555" stroke-width="0.45"/>
<circle cx="434.4" cy="26.7" r="1.97" fill="#b0b0b0" stroke="#555555" stroke-width="0.45"/>
<circle cx="437.2" cy="27.0" r="1.49" fill="#b0b0b0" stroke="#555555" stroke-width="0.45"/>
<circle cx="439.2" cy="26.8" r="1.43" fill="#b0b0b0" stroke="#555555" stroke-width="0.45"/>
<circle cx="442.2" cy="27.4" r="1.80" fill="#b0b0b0" stroke="#555555" stroke-width="0.45"/>
<circle cx="444.7" cy="28.5" r="1.41" fill="#b0b0b0" stroke="#555555" stroke-width="0.45"/>
<circle cx="446.4" cy="30.2" r="1.80" fill="#b0b0b0" stroke="#555555" stroke-width="0.45"/>
<circle cx="447.7" cy="33.4" r="1.98" fill="#b0b0b0" stroke="#555555" stroke-width="0.45"/>
<circle cx="448.2" cy="34.9" r="1.63" fill="#b0b0b0" stroke="#555555" stroke-width="0.45"/></g>
<rect x="395.80" y="10.90" width="85.7" height="63.6" fill="none" stroke="#3c3c3c" stroke-width="0.9"/></g>
<g><rect x="488.60" y="10.90" width="85.7" height="63.6" fill="#b4b4b4"/>
<g filter="url(#soft)"><polygon points="546.80,38.40 546.19,39.65 545.52,40.81 544.87,41.90 544.27,42.95 543.71,43.98 543.16,45.01 542.58,46.04 541.94,47.05 541.20,48.02 540.36,48.93 539.41,49.76 538.38,50.50 537.26,51.14 536.07,51.67 534.82,52.08 533.53,52.35 532.22,52.50 530.90,52.54 529.58,52.47 528.27,52.32 526.97,52.10 525.68,51.79 524.42,51.38 523.20,50.86 522.05,50.21 521.00,49.43 520.06,48.53 519.24,47.54 518.50,46.51 517.84,45.45 517.20,44.37 516.59,43.26 516.02,42.12 515.54,40.93 515.18,39.68 515.02,38.40 515.06,37.11 515.32,35.83 515.76,34.61 516.33,33.44 516.97,32.33 517.67,31.26 518.41,30.23 519.22,29.25 520.13,28.33 521.14,27.53 522.26,26.87 523.47,26.37 524.72,26.01 525.98,25.76 527.22,25.56 528.44,25.36 529.66,25.16 530.90,24.95 532.17,24.80 533.47,24.76 534.77,24.89 536.04,25.21 537.24,25.70 538.37,26.31 539.45,26.99 540.52,27.69 541.62,28.39 542.77,29.09 543.96,29.86 545.10,30.74 546.12,31.77 546.89,32.96 547.36,34.28 547.47,35.67 547.26,37.06" fill="#aeaeae"/>
<circle cx="530.7" cy="32.8" r="2.0" fill="#7e7e7e" opacity="0.44"/>
<circle cx="539.2" cy="32.3" r="1.6" fill="#bcbcbc" opacity="0.51"/>
<circle cx="523.1" cy="33.2" r="1.8" fill="#7e7e7e" opacity="0.48"/>
<circle cx="528.0" cy="39.9" r="1.4" fill="#c4c4c4" opacity="0.58"/>
<circle cx="537.5" cy="36.3" r="1.2" fill="#727272" opacity="0.38"/>
<circle cx="531.8" cy="38.4" r="1.2" fill="#b8b8b8" opacity="0.40"/>
<circle cx="528.3" cy="45.2" r="1.1" fill="#727272" opacity="0.52"/>
<circle cx="535.3" cy="32.8" r="0.9" fill="#c4c4c4" opacity="0.64"/>
<circle cx="529.7" cy="35.1" r="1.0" fill="#8a8a8a" opacity="0.58"/>
<circle cx="541.4" cy="36.4" r="1.9" fill="#c4c4c4" opacity="0.36"/>
<circle cx="539.3" cy="40.6" r="1.3" fill="#8a8a8a" opacity="0.53"/>
<circle cx="541.7" cy="35.3" r="1.8" fill="#bcbcbc" opacity="0.37"/>
<circle cx="526.8" cy="46.6" r="1.0" fill="#8a8a8a" opacity="0.35"/>
<circle cx="523.2" cy="31.1" r="1.7" fill="#727272" opacity="0.37"/>
<circle cx="534.9" cy="33.0" r="1.7" fill="#bcbcbc" opacity="0.43"/>
<circle cx="526.0" cy="35.8" r="1.9" fill="#7e7e7e" opacity="0.39"/>
<circle cx="535.1" cy="43.6" r="1.3" fill="#727272" opacity="0.66"/>
<circle cx="525.1" cy="39.6" r="0.9" fill="#727272" opacity="0.42"/>
<circle cx="525.6" cy="29.7" r="1.3" fill="#8a8a8a" opacity="0.63"/>
<circle cx="537.4" cy="43.7" r="1.0" fill="#b8b8b8" opacity="0.50"/>
<circle cx="533.8" cy="34.1" r="1.9" fill="#7e7e7e" opacity="0.50"/>
<circle cx="531.7" cy="42.9" r="1.4" fill="#bcbcbc" opacity="0.41"/>
<circle cx="523.2" cy="43.1" r="1.4" fill="#727272" opacity="0.55"/>
<circle cx="542.3" cy="36.7" r="1.7" fill="#b8b8b8" opacity="0.43"/>
<circle cx="527.7" cy="34.6" r="1.5" fill="#c4c4c4" opacity="0.52"/>
<circle cx="538.3" cy="42.2" r="1.0" fill="#bcbcbc" opacity="0.58"/>
<circle cx="533.7" cy="39.4" r="1.7" fill="#c4c4c4" opacity="0.37"/>
<circle cx="528.5" cy="42.3" r="1.3" fill="#bcbcbc" opacity="0.45"/>
<circle cx="535.2" cy="40.1" r="1.7" fill="#7e7e7e" opacity="0.57"/>
<circle cx="532.2" cy="45.0" r="1.1" fill="#8a8a8a" opacity="0.44"/>
<circle cx="526.4" cy="33.3" r="1.1" fill="#727272" opacity="0.68"/>
<circle cx="529.1" cy="33.9" r="1.8" fill="#8a8a8a" opacity="0.57"/>
<circle cx="520.5" cy="36.0" r="1.7" fill="#bcbcbc" opacity="0.67"/>
<circle cx="521.6" cy="37.6" r="2.0" fill="#8a8a8a" opacity="0.52"/>
<circle cx="526.6" cy="38.9" r="1.7" fill="#c4c4c4" opacity="0.67"/>
<circle cx="532.2" cy="39.4" r="1.7" fill="#b8b8b8" opacity="0.70"/>
<circle cx="535.2" cy="28.9" r="0.9" fill="#7e7e7e" opacity="0.68"/>
<circle cx="527.5" cy="30.6" r="1.9" fill="#bcbcbc" opacity="0.43"/>
<circle cx="533.1" cy="45.1" r="1.9" fill="#7e7e7e" opacity="0.51"/>
<circle cx="537.4" cy="33.0" r="1.6" fill="#7e7e7e" opacity="0.62"/>
<circle cx="546.5" cy="38.9" r="1.86" fill="#c8c8c8" stroke="#5c5c5c" stroke-width="0.65"/>
<circle cx="544.9" cy="40.9" r="1.63" fill="#c8c8c8" stroke="#5c5c5c" stroke-width="0.65"/>
<circle cx="543.4" cy="43.1" r="1.52" fill="#c8c8c8" stroke="#5c5c5c" stroke-width="0.65"/>
<circle cx="543.1" cy="45.9" r="1.76" fill="#c0c0c0" stroke="#5c5c5c" stroke-width="0.65"/>
<circle cx="540.7" cy="47.6" r="2.01" fill="#c0c0c0" stroke="#5c5c5c" stroke-width="0.65"/>
<circle cx="539.7" cy="50.4" r="1.50" fill="#c8c8c8" stroke="#5c5c5c" stroke-width="0.65"/>
<circle cx="539.3" cy="50.0" r="0.60" fill="#e6e6e6" opacity="0.6"/>
<circle cx="537.0" cy="51.8" r="1.67" fill="#c0c0c0" stroke="#5c5c5c" stroke-width="0.65"/>
<circle cx="536.6" cy="51.4" r="0.67" fill="#e6e6e6" opacity="0.6"/>
<circle cx="533.0" cy="52.0" r="1.94" fill="#c8c8c8" stroke="#5c5c5c" stroke-width="0.65"/>
<circle cx="530.7" cy="53.2" r="1.65" fill="#c0c0c0" stroke="#5c5c5c" stroke-width="0.65"/>
<circle cx="530.3" cy="52.8" r="0.66" fill="#e6e6e6" opacity="0.6"/>
<circle cx="527.2" cy="52.2" r="1.73" fill="#c0c0c0" stroke="#5c5c5c" stroke-width="0.65"/>
<circle cx="526.8" cy="51.8" r="0.69" fill="#e6e6e6" opacity="0.6"/>
<circle cx="524.8" cy="51.6" r="1.59" fill="#c8c8c8" stroke="#5c5c5c" stroke-width="0.65"/>
<circle cx="522.6" cy="50.7" r="1.65" fill="#c8c8c8" stroke="#5c5c5c" stroke-width="0.65"/>
<circle cx="519.4" cy="48.1" r="1.58" fill="#c0c0c0" stroke="#5c5c5c" stroke-width="0.65"/>
<circle cx="518.1" cy="46.5" r="1.45" fill="#c0c0c0" stroke="#5c5c5c" stroke-width="0.65"/>
<circle cx="517.4" cy="44.1" r="1.80" fill="#c0c0c0" stroke="#5c5c5c" stroke-width="0.65"/>
<circle cx="516.5" cy="41.9" r="1.94" fill="#c0c0c0" stroke="#5c5c5c" stroke-width="0.65"/>
<circle cx="514.5" cy="38.5" r="1.53" fill="#c0c0c0" stroke="#5c5c5c" stroke-width="0.65"/>
<circle cx="515.7" cy="36.4" r="1.45" fill="#c0c0c0" stroke="#5c5c5c" stroke-width="0.65"/>
<circle cx="516.5" cy="31.9" r="1.65" fill="#c0c0c0" stroke="#5c5c5c" stroke-width="0.65"/>
<circle cx="518.0" cy="29.6" r="1.91" fill="#c0c0c0" stroke="#5c5c5c" stroke-width="0.65"/>
<circle cx="517.6" cy="29.2" r="0.76" fill="#e6e6e6" opacity="0.6"/>
<circle cx="519.8" cy="28.8" r="1.58" fill="#c0c0c0" stroke="#5c5c5c" stroke-width="0.65"/>
<circle cx="519.4" cy="28.4" r="0.63" fill="#e6e6e6" opacity="0.6"/>
<circle cx="521.9" cy="26.7" r="1.42" fill="#c8c8c8" stroke="#5c5c5c" stroke-width="0.65"/>
<circle cx="521.5" cy="26.3" r="0.57" fill="#e6e6e6" opacity="0.6"/>
<circle cx="524.8" cy="26.6" r="1.85" fill="#c8c8c8" stroke="#5c5c5c" stroke-width="0.65"/>
<circle cx="524.4" cy="26.2" r="0.74" fill="#e6e6e6" opacity="0.6"/>
<circle cx="528.2" cy="25.6" r="1.40" fill="#c8c8c8" stroke="#5c5c5c" stroke-width="0.65"/>
<circle cx="527.8" cy="25.2" r="0.56" fill="#e6e6e6" opacity="0.6"/>
<circle cx="530.8" cy="25.5" r="1.66" fill="#c0c0c0" stroke="#5c5c5c" stroke-width="0.65"/>
<circle cx="533.9" cy="25.1" r="1.54" fill="#c8c8c8" stroke="#5c5c5c" stroke-width="0.65"/>
<circle cx="533.5" cy="24.7" r="0.61" fill="#e6e6e6" opacity="0.6"/>
<circle cx="537.7" cy="25.2" r="1.49" fill="#c0c0c0" stroke="#5c5c5c" stroke-width="0.65"/>
<circle cx="540.0" cy="26.9" r="1.79" fill="#c8c8c8" stroke="#5c5c5c" stroke-width="0.65"/>
<circle cx="539.6" cy="26.5" r="0.72" fill="#e6e6e6" opacity="0.6"/>
<circle cx="542.8" cy="28.4" r="1.94" fill="#c0c0c0" stroke="#5c5c5c" stroke-width="0.65"/>
<circle cx="544.6" cy="30.5" r="1.61" fill="#c0c0c0" stroke="#5c5c5c" stroke-width="0.65"/>
<circle cx="545.3" cy="31.9" r="2.01" fill="#c0c0c0" stroke="#5c5c5c" stroke-width="0.65"/>
<circle cx="547.5" cy="35.5" r="1.83" fill="#c0c0c0" stroke="#5c5c5c" stroke-width="0.65"/>
<circle cx="547.1" cy="35.1" r="0.73" fill="#e6e6e6" opacity="0.6"/>
<circle cx="544.7" cy="37.6" r="1.62" fill="#c0c0c0" stroke="#5c5c5c" stroke-width="0.65"/>
<circle cx="544.0" cy="40.6" r="1.59" fill="#c0c0c0" stroke="#5c5c5c" stroke-width="0.65"/>
<circle cx="541.5" cy="43.6" r="1.65" fill="#c8c8c8" stroke="#5c5c5c" stroke-width="0.65"/>
<circle cx="540.6" cy="46.4" r="1.53" fill="#c0c0c0" stroke="#5c5c5c" stroke-width="0.65"/>
<circle cx="539.1" cy="47.1" r="1.93" fill="#c0c0c0" stroke="#5c5c5c" stroke-width="0.65"/>
<circle cx="537.2" cy="49.2" r="1.95" fill="#c8c8c8" stroke="#5c5c5c" stroke-width="0.65"/>
<circle cx="536.8" cy="48.8" r="0.78" fill="#e6e6e6" opacity="0.6"/>
<circle cx="533.0" cy="50.3" r="1.68" fill="#c0c0c0" stroke="#5c5c5c" stroke-width="0.65"/>
<circle cx="531.2" cy="50.5" r="1.55" fill="#c8c8c8" stroke="#5c5c5c" stroke-width="0.65"/>
<circle cx="528.6" cy="50.2" r="1.91" fill="#c8c8c8" stroke="#5c5c5c" stroke-width="0.65"/>
<circle cx="528.2" cy="49.8" r="0.76" fill="#e6e6e6" opacity="0.6"/>
<circle cx="525.8" cy="50.1" r="1.55" fill="#c8c8c8" stroke="#5c5c5c" stroke-width="0.65"/>
<circle cx="521.8" cy="48.4" r="1.44" fill="#c0c0c0" stroke="#5c5c5c" stroke-width="0.65"/>
<circle cx="521.4" cy="48.0" r="0.57" fill="#e6e6e6" opacity="0.6"/>
<circle cx="520.5" cy="46.4" r="1.61" fill="#c0c0c0" stroke="#5c5c5c" stroke-width="0.65"/>
<circle cx="520.1" cy="46.0" r="0.64" fill="#e6e6e6" opacity="0.6"/>
<circle cx="518.3" cy="43.2" r="1.94" fill="#c0c0c0" stroke="#5c5c5c" stroke-width="0.65"/>
<circle cx="518.2" cy="40.9" r="1.48" fill="#c0c0c0" stroke="#5c5c5c" stroke-width="0.65"/>
<circle cx="517.0" cy="38.0" r="1.95" fill="#c8c8c8" stroke="#5c5c5c" stroke-width="0.65"/>
<circle cx="516.6" cy="37.6" r="0.78" fill="#e6e6e6" opacity="0.6"/>
<circle cx="517.1" cy="36.0" r="1.77" fill="#c0c0c0" stroke="#5c5c5c" stroke-width="0.65"/>
<circle cx="516.7" cy="35.6" r="0.71" fill="#e6e6e6" opacity="0.6"/>
<circle cx="519.1" cy="33.2" r="1.46" fill="#c0c0c0" stroke="#5c5c5c" stroke-width="0.65"/>
<circle cx="521.0" cy="30.4" r="1.91" fill="#c0c0c0" stroke="#5c5c5c" stroke-width="0.65"/>
<circle cx="520.6" cy="30.0" r="0.77" fill="#e6e6e6" opacity="0.6"/>
<circle cx="523.1" cy="28.1" r="1.43" fill="#c8c8c8" stroke="#5c5c5c" stroke-width="0.65"/>
<circle cx="522.7" cy="27.7" r="0.57" fill="#e6e6e6" opacity="0.6"/>
<circle cx="525.8" cy="28.0" r="1.49" fill="#c8c8c8" stroke="#5c5c5c" stroke-width="0.65"/>
<circle cx="527.8" cy="27.1" r="1.51" fill="#c0c0c0" stroke="#5c5c5c" stroke-width="0.65"/>
<circle cx="530.7" cy="26.2" r="1.76" fill="#c0c0c0" stroke="#5c5c5c" stroke-width="0.65"/>
<circle cx="530.3" cy="25.8" r="0.71" fill="#e6e6e6" opacity="0.6"/>
<circle cx="533.5" cy="26.3" r="1.61" fill="#c8c8c8" stroke="#5c5c5c" stroke-width="0.65"/>
<circle cx="536.3" cy="27.8" r="1.55" fill="#c0c0c0" stroke="#5c5c5c" stroke-width="0.65"/>
<circle cx="539.1" cy="28.6" r="1.79" fill="#c8c8c8" stroke="#5c5c5c" stroke-width="0.65"/>
<circle cx="540.9" cy="30.0" r="1.73" fill="#c8c8c8" stroke="#5c5c5c" stroke-width="0.65"/>
<circle cx="543.9" cy="32.0" r="2.01" fill="#c0c0c0" stroke="#5c5c5c" stroke-width="0.65"/>
<circle cx="543.5" cy="31.6" r="0.80" fill="#e6e6e6" opacity="0.6"/>
<circle cx="545.4" cy="35.5" r="1.96" fill="#c8c8c8" stroke="#5c5c5c" stroke-width="0.65"/>
<circle cx="545.0" cy="35.1" r="0.78" fill="#e6e6e6" opacity="0.6"/>
<circle cx="542.6" cy="38.2" r="1.92" fill="#b0b0b0" stroke="#5c5c5c" stroke-width="0.45"/>
<circle cx="541.0" cy="41.3" r="1.57" fill="#b0b0b0" stroke="#5c5c5c" stroke-width="0.45"/>
<circle cx="540.4" cy="43.2" r="1.68" fill="#b0b0b0" stroke="#5c5c5c" stroke-width="0.45"/>
<circle cx="538.0" cy="45.9" r="1.59" fill="#b0b0b0" stroke="#5c5c5c" stroke-width="0.45"/>
<circle cx="536.1" cy="47.8" r="1.55" fill="#b0b0b0" stroke="#5c5c5c" stroke-width="0.45"/>
<circle cx="534.1" cy="48.4" r="1.50" fill="#b0b0b0" stroke="#5c5c5c" stroke-width="0.45"/>
<circle cx="530.6" cy="49.2" r="1.87" fill="#b0b0b0" stroke="#5c5c5c" stroke-width="0.45"/>
<circle cx="528.6" cy="48.8" r="1.63" fill="#b0b0b0" stroke="#5c5c5c" stroke-width="0.45"/>
<circle cx="525.7" cy="47.5" r="1.89" fill="#b0b0b0" stroke="#5c5c5c" stroke-width="0.45"/>
<circle cx="522.7" cy="45.1" r="1.74" fill="#b0b0b0" stroke="#5c5c5c" stroke-width="0.45"/>
<circle cx="521.5" cy="43.2" r="1.67" fill="#b0b0b0" stroke="#5c5c5c" stroke-width="0.45"/>
<circle cx="520.0" cy="40.8" r="1.57" fill="#b0b0b0" stroke="#5c5c5c" stroke-width="0.45"/>
<circle cx="518.6" cy="38.4" r="1.59" fill="#b0b0b0" stroke="#5c5c5c" stroke-width="0.45"/>
<circle cx="520.3" cy="35.6" r="2.00" fill="#b0b0b0" stroke="#5c5c5c" stroke-width="0.45"/>
<circle cx="521.6" cy="32.5" r="1.41" fill="#b0b0b0" stroke="#5c5c5c" stroke-width="0.45"/>
<circle cx="522.0" cy="31.3" r="1.88" fill="#b0b0b0" stroke="#5c5c5c" stroke-width="0.45"/>
<circle cx="525.2" cy="29.5" r="1.58" fill="#b0b0b0" stroke="#5c5c5c" stroke-width="0.45"/>
<circle cx="528.0" cy="29.1" r="1.60" fill="#b0b0b0" stroke="#5c5c5c" stroke-width="0.45"/>
<circle cx="531.5" cy="28.6" r="1.46" fill="#b0b0b0" stroke="#5c5c5c" stroke-width="0.45"/>
<circle cx="533.5" cy="28.1" r="1.63" fill="#b0b0b0" stroke="#5c5c5c" stroke-width="0.45"/>
<circle cx="536.7" cy="29.7" r="1.83" fill="#b0b0b0" stroke="#5c5c5c" stroke-width="0.45"/>
<circle cx="539.1" cy="31.1" r="1.59" fill="#b0b0b0" stroke="#5c5c5c" stroke-width="0.45"/>
<circle cx="542.1" cy="33.3" r="1.86" fill="#b0b0b0" stroke="#5c5c5c" stroke-width="0.45"/>
<circle cx="542.6" cy="35.2" r="1.63" fill="#b0b0b0" stroke="#5c5c5c" stroke-width="0.45"/></g>
<rect x="488.60" y="10.90" width="85.7" height="63.6" fill="none" stroke="#3c3c3c" stroke-width="0.9"/></g>
<text x="67.45" y="84.60" font-size="8" text-anchor="middle" fill="#1a1a1a" stroke="#1a1a1a" stroke-width="0.22">100 + 0</text>
<text x="160.25" y="84.60" font-size="8" text-anchor="middle" fill="#1a1a1a" stroke="#1a1a1a" stroke-width="0.22">90 + 10</text>
<text x="253.05" y="84.60" font-size="8" text-anchor="middle" fill="#1a1a1a" stroke="#1a1a1a" stroke-width="0.22">80 + 20</text>
<text x="345.85" y="84.60" font-size="8" text-anchor="middle" fill="#1a1a1a" stroke="#1a1a1a" stroke-width="0.22">70 + 30</text>
<text x="438.65" y="84.60" font-size="8" text-anchor="middle" fill="#1a1a1a" stroke="#1a1a1a" stroke-width="0.22">60 + 40</text>
<text x="531.45" y="84.60" font-size="8" text-anchor="middle" fill="#1a1a1a" stroke="#1a1a1a" stroke-width="0.22">50 + 50</text>
<g><rect x="24.60" y="90.90" width="85.7" height="63.2" fill="#a5a5a5"/>
<g filter="url(#soft)"><ellipse cx="67.2" cy="119.2" rx="13.2" ry="14.6" fill="#8e8e8e"/>
<circle cx="67.7" cy="106.3" r="1.93" fill="#a9a9a9" stroke="#454545" stroke-width="0.6"/>
<circle cx="67.4" cy="106.0" r="0.87" fill="#ececec" opacity="0.75"/>
<circle cx="70.2" cy="106.9" r="1.80" fill="#a9a9a9" stroke="#454545" stroke-width="0.6"/>
<circle cx="61.8" cy="110.0" r="2.05" fill="#a9a9a9" stroke="#454545" stroke-width="0.6"/>
<circle cx="65.9" cy="109.1" r="2.03" fill="#a9a9a9" stroke="#454545" stroke-width="0.6"/>
<circle cx="69.5" cy="110.0" r="2.14" fill="#a9a9a9" stroke="#454545" stroke-width="0.6"/>
<circle cx="72.4" cy="109.9" r="2.17" fill="#a9a9a9" stroke="#454545" stroke-width="0.6"/>
<circle cx="59.5" cy="112.9" r="2.20" fill="#a9a9a9" stroke="#454545" stroke-width="0.6"/>
<circle cx="63.7" cy="112.9" r="1.79" fill="#a9a9a9" stroke="#454545" stroke-width="0.6"/>
<circle cx="63.4" cy="112.6" r="0.81" fill="#ececec" opacity="0.75"/>
<circle cx="66.7" cy="112.9" r="2.13" fill="#a9a9a9" stroke="#454545" stroke-width="0.6"/>
<circle cx="66.4" cy="112.6" r="0.96" fill="#ececec" opacity="0.75"/>
<circle cx="70.3" cy="113.2" r="2.09" fill="#a9a9a9" stroke="#454545" stroke-width="0.6"/>
<circle cx="74.4" cy="112.3" r="1.74" fill="#a9a9a9" stroke="#454545" stroke-width="0.6"/>
<circle cx="58.3" cy="116.3" r="1.72" fill="#a9a9a9" stroke="#454545" stroke-width="0.6"/>
<circle cx="61.3" cy="115.4" r="2.20" fill="#a9a9a9" stroke="#454545" stroke-width="0.6"/>
<circle cx="61.0" cy="115.1" r="0.99" fill="#ececec" opacity="0.75"/>
<circle cx="65.0" cy="115.9" r="2.14" fill="#a9a9a9" stroke="#454545" stroke-width="0.6"/>
<circle cx="69.4" cy="116.3" r="1.78" fill="#a9a9a9" stroke="#454545" stroke-width="0.6"/>
<circle cx="72.1" cy="116.3" r="1.77" fill="#a9a9a9" stroke="#454545" stroke-width="0.6"/>
<circle cx="75.8" cy="115.4" r="2.11" fill="#a9a9a9" stroke="#454545" stroke-width="0.6"/>
<circle cx="56.0" cy="119.8" r="1.73" fill="#a9a9a9" stroke="#454545" stroke-width="0.6"/>
<circle cx="60.2" cy="118.8" r="2.07" fill="#a9a9a9" stroke="#454545" stroke-width="0.6"/>
<circle cx="63.4" cy="119.5" r="1.81" fill="#a9a9a9" stroke="#454545" stroke-width="0.6"/>
<circle cx="66.7" cy="118.8" r="2.21" fill="#a9a9a9" stroke="#454545" stroke-width="0.6"/>
<circle cx="71.2" cy="118.9" r="1.79" fill="#a9a9a9" stroke="#454545" stroke-width="0.6"/>
<circle cx="74.3" cy="119.1" r="1.94" fill="#a9a9a9" stroke="#454545" stroke-width="0.6"/>
<circle cx="78.0" cy="119.0" r="2.00" fill="#a9a9a9" stroke="#454545" stroke-width="0.6"/>
<circle cx="57.7" cy="122.0" r="1.71" fill="#a9a9a9" stroke="#454545" stroke-width="0.6"/>
<circle cx="57.4" cy="121.7" r="0.77" fill="#ececec" opacity="0.75"/>
<circle cx="62.2" cy="122.2" r="1.98" fill="#a9a9a9" stroke="#454545" stroke-width="0.6"/>
<circle cx="65.8" cy="122.2" r="1.96" fill="#a9a9a9" stroke="#454545" stroke-width="0.6"/>
<circle cx="68.9" cy="122.6" r="2.02" fill="#a9a9a9" stroke="#454545" stroke-width="0.6"/>
<circle cx="72.5" cy="122.4" r="2.09" fill="#a9a9a9" stroke="#454545" stroke-width="0.6"/>
<circle cx="75.6" cy="122.8" r="1.78" fill="#a9a9a9" stroke="#454545" stroke-width="0.6"/>
<circle cx="75.3" cy="122.5" r="0.80" fill="#ececec" opacity="0.75"/>
<circle cx="56.9" cy="125.7" r="1.72" fill="#a9a9a9" stroke="#454545" stroke-width="0.6"/>
<circle cx="59.4" cy="125.4" r="2.22" fill="#a9a9a9" stroke="#454545" stroke-width="0.6"/>
<circle cx="63.9" cy="125.1" r="1.77" fill="#a9a9a9" stroke="#454545" stroke-width="0.6"/>
<circle cx="67.3" cy="125.7" r="1.78" fill="#a9a9a9" stroke="#454545" stroke-width="0.6"/>
<circle cx="70.9" cy="125.0" r="2.09" fill="#a9a9a9" stroke="#454545" stroke-width="0.6"/>
<circle cx="73.8" cy="126.2" r="2.07" fill="#a9a9a9" stroke="#454545" stroke-width="0.6"/>
<circle cx="77.6" cy="125.2" r="2.21" fill="#a9a9a9" stroke="#454545" stroke-width="0.6"/>
<circle cx="61.8" cy="129.0" r="1.85" fill="#a9a9a9" stroke="#454545" stroke-width="0.6"/>
<circle cx="65.0" cy="128.2" r="2.14" fill="#a9a9a9" stroke="#454545" stroke-width="0.6"/>
<circle cx="68.5" cy="129.3" r="1.95" fill="#a9a9a9" stroke="#454545" stroke-width="0.6"/>
<circle cx="73.2" cy="128.5" r="2.28" fill="#a9a9a9" stroke="#454545" stroke-width="0.6"/>
<circle cx="72.9" cy="128.2" r="1.03" fill="#ececec" opacity="0.75"/>
<circle cx="63.8" cy="131.6" r="1.83" fill="#a9a9a9" stroke="#454545" stroke-width="0.6"/>
<circle cx="67.1" cy="131.5" r="1.87" fill="#a9a9a9" stroke="#454545" stroke-width="0.6"/><circle cx="87.2" cy="121.9" r="1.5" fill="#3e3e3e" stroke="#d0d0d0" stroke-width="0.5"/><circle cx="51.3" cy="135.8" r="1.2" fill="#555" stroke="#c8c8c8" stroke-width="0.4"/></g>
<rect x="24.60" y="90.90" width="85.7" height="63.2" fill="none" stroke="#3c3c3c" stroke-width="0.9"/></g>
<g><rect x="117.40" y="90.90" width="85.7" height="63.2" fill="#919191"/>
<g filter="url(#soft)"><polygon points="147,112 152,108 160,109 165,105 169,109 173,116 175,124 170,128 157,126 151,121 146,117" fill="#838383"/>
<circle cx="150.4" cy="110.4" r="1.71" fill="#c4c4c4" stroke="#474747" stroke-width="0.6"/>
<circle cx="150.1" cy="110.1" r="0.77" fill="#ececec" opacity="0.75"/>
<circle cx="154.6" cy="111.1" r="1.94" fill="#c4c4c4" stroke="#474747" stroke-width="0.6"/>
<circle cx="148.3" cy="115.3" r="1.78" fill="#c4c4c4" stroke="#474747" stroke-width="0.6"/>
<circle cx="148.0" cy="115.0" r="0.80" fill="#ececec" opacity="0.75"/>
<circle cx="153.9" cy="118.1" r="1.84" fill="#c4c4c4" stroke="#474747" stroke-width="0.6"/>
<circle cx="156.7" cy="122.6" r="1.79" fill="#c4c4c4" stroke="#474747" stroke-width="0.6"/>
<circle cx="160.2" cy="124.0" r="2.10" fill="#c4c4c4" stroke="#474747" stroke-width="0.6"/>
<circle cx="159.9" cy="123.7" r="0.94" fill="#ececec" opacity="0.75"/>
<circle cx="164.3" cy="124.7" r="2.02" fill="#c4c4c4" stroke="#474747" stroke-width="0.6"/>
<circle cx="164.0" cy="124.4" r="0.91" fill="#ececec" opacity="0.75"/>
<circle cx="167.8" cy="125.7" r="1.95" fill="#c4c4c4" stroke="#474747" stroke-width="0.6"/>
<circle cx="172.7" cy="125.0" r="1.76" fill="#c4c4c4" stroke="#474747" stroke-width="0.6"/>
<circle cx="172.4" cy="124.7" r="0.79" fill="#ececec" opacity="0.75"/>
<circle cx="170.6" cy="120.9" r="2.26" fill="#c4c4c4" stroke="#474747" stroke-width="0.6"/>
<circle cx="170.3" cy="120.6" r="1.02" fill="#ececec" opacity="0.75"/>
<circle cx="169.9" cy="116.7" r="1.82" fill="#c4c4c4" stroke="#474747" stroke-width="0.6"/>
<circle cx="169.6" cy="116.4" r="0.82" fill="#ececec" opacity="0.75"/>
<circle cx="167.8" cy="113.9" r="1.92" fill="#c4c4c4" stroke="#474747" stroke-width="0.6"/>
<circle cx="163.7" cy="110.4" r="1.83" fill="#c4c4c4" stroke="#474747" stroke-width="0.6"/>
<circle cx="163.4" cy="110.1" r="0.82" fill="#ececec" opacity="0.75"/>
<circle cx="166.4" cy="106.3" r="2.05" fill="#c4c4c4" stroke="#474747" stroke-width="0.6"/>
<circle cx="166.1" cy="106.0" r="0.92" fill="#ececec" opacity="0.75"/>
<circle cx="159.5" cy="113.9" r="2.27" fill="#c4c4c4" stroke="#474747" stroke-width="0.6"/>
<circle cx="160.9" cy="117.4" r="1.91" fill="#c4c4c4" stroke="#474747" stroke-width="0.6"/>
<circle cx="160.6" cy="117.1" r="0.86" fill="#ececec" opacity="0.75"/>
<circle cx="165.7" cy="120.2" r="2.20" fill="#c4c4c4" stroke="#474747" stroke-width="0.6"/>
<circle cx="151.0" cy="114.0" r="1.72" fill="#c4c4c4" stroke="#474747" stroke-width="0.6"/>
<circle cx="157.0" cy="114.5" r="2.22" fill="#c4c4c4" stroke="#474747" stroke-width="0.6"/><circle cx="127.9" cy="120.2" r="0.8" fill="#555"/><circle cx="151.4" cy="142" r="0.8" fill="#555"/><circle cx="176" cy="137.9" r="0.6" fill="#666"/></g>
<rect x="117.40" y="90.90" width="85.7" height="63.2" fill="none" stroke="#3c3c3c" stroke-width="0.9"/></g>
<g><rect x="210.20" y="90.90" width="85.7" height="63.2" fill="#8e8e8e"/>
<g filter="url(#soft)"><polygon points="248,110 256,108 263,112 264,119 259,122 261,126 262,131 257,132 249,131 243,129 243,125 250,124 250,116" fill="#858585"/>
<circle cx="249.1" cy="112.3" r="1.44" fill="#c4c4c4" stroke="#474747" stroke-width="0.6"/>
<circle cx="248.8" cy="112.0" r="0.65" fill="#ececec" opacity="0.75"/>
<circle cx="252.6" cy="112.0" r="1.55" fill="#c4c4c4" stroke="#474747" stroke-width="0.6"/>
<circle cx="255.4" cy="109.8" r="1.65" fill="#c4c4c4" stroke="#474747" stroke-width="0.6"/>
<circle cx="258.2" cy="110.1" r="1.45" fill="#c4c4c4" stroke="#474747" stroke-width="0.6"/>
<circle cx="257.9" cy="109.8" r="0.65" fill="#ececec" opacity="0.75"/>
<circle cx="261.0" cy="113.3" r="1.82" fill="#c4c4c4" stroke="#474747" stroke-width="0.6"/>
<circle cx="260.7" cy="113.0" r="0.82" fill="#ececec" opacity="0.75"/>
<circle cx="262.3" cy="115.8" r="1.87" fill="#c4c4c4" stroke="#474747" stroke-width="0.6"/>
<circle cx="252.0" cy="116.7" r="1.59" fill="#c4c4c4" stroke="#474747" stroke-width="0.6"/>
<circle cx="251.7" cy="116.4" r="0.71" fill="#ececec" opacity="0.75"/>
<circle cx="256.0" cy="117.3" r="1.78" fill="#c4c4c4" stroke="#474747" stroke-width="0.6"/>
<circle cx="255.7" cy="117.0" r="0.80" fill="#ececec" opacity="0.75"/>
<circle cx="252.9" cy="120.8" r="1.41" fill="#c4c4c4" stroke="#474747" stroke-width="0.6"/>
<circle cx="257.3" cy="120.8" r="1.82" fill="#c4c4c4" stroke="#474747" stroke-width="0.6"/>
<circle cx="253.5" cy="123.3" r="1.87" fill="#c4c4c4" stroke="#474747" stroke-width="0.6"/>
<circle cx="253.2" cy="123.0" r="0.84" fill="#ececec" opacity="0.75"/>
<circle cx="257.9" cy="123.9" r="1.44" fill="#c4c4c4" stroke="#474747" stroke-width="0.6"/>
<circle cx="257.6" cy="123.6" r="0.65" fill="#ececec" opacity="0.75"/>
<circle cx="244.1" cy="127.0" r="1.89" fill="#c4c4c4" stroke="#474747" stroke-width="0.6"/>
<circle cx="243.8" cy="126.7" r="0.85" fill="#ececec" opacity="0.75"/>
<circle cx="247.3" cy="129.6" r="1.48" fill="#c4c4c4" stroke="#474747" stroke-width="0.6"/>
<circle cx="247.0" cy="129.3" r="0.67" fill="#ececec" opacity="0.75"/>
<circle cx="250.4" cy="127.0" r="1.43" fill="#c4c4c4" stroke="#474747" stroke-width="0.6"/>
<circle cx="250.1" cy="126.7" r="0.64" fill="#ececec" opacity="0.75"/>
<circle cx="252.9" cy="127.0" r="1.58" fill="#c4c4c4" stroke="#474747" stroke-width="0.6"/>
<circle cx="252.6" cy="126.7" r="0.71" fill="#ececec" opacity="0.75"/>
<circle cx="256.4" cy="127.0" r="1.56" fill="#c4c4c4" stroke="#474747" stroke-width="0.6"/>
<circle cx="259.8" cy="127.4" r="1.49" fill="#c4c4c4" stroke="#474747" stroke-width="0.6"/>
<circle cx="259.8" cy="130.5" r="1.77" fill="#c4c4c4" stroke="#474747" stroke-width="0.6"/>
<circle cx="259.5" cy="130.2" r="0.80" fill="#ececec" opacity="0.75"/><circle cx="282.3" cy="120.8" r="0.7" fill="#5a5a5a"/><circle cx="224" cy="100" r="0.6" fill="#666"/></g>
<rect x="210.20" y="90.90" width="85.7" height="63.2" fill="none" stroke="#3c3c3c" stroke-width="0.9"/></g>
<g><rect x="303.00" y="90.90" width="85.7" height="63.2" fill="#8d8d8d"/>
<g filter="url(#soft)"><polygon points="344,107 347,110 350,113 351,122 352,128 346,129 339,128 334,124 333,118 338,113" fill="#858585"/>
<circle cx="345.4" cy="108.6" r="1.84" fill="#c4c4c4" stroke="#474747" stroke-width="0.6"/>
<circle cx="345.4" cy="111.4" r="1.97" fill="#c4c4c4" stroke="#474747" stroke-width="0.6"/>
<circle cx="345.1" cy="111.1" r="0.89" fill="#ececec" opacity="0.75"/>
<circle cx="339.1" cy="115.1" r="1.88" fill="#c4c4c4" stroke="#474747" stroke-width="0.6"/>
<circle cx="343.5" cy="116.4" r="2.02" fill="#c4c4c4" stroke="#474747" stroke-width="0.6"/>
<circle cx="343.2" cy="116.1" r="0.91" fill="#ececec" opacity="0.75"/>
<circle cx="347.3" cy="114.5" r="1.88" fill="#c4c4c4" stroke="#474747" stroke-width="0.6"/>
<circle cx="335.4" cy="119.5" r="1.80" fill="#c4c4c4" stroke="#474747" stroke-width="0.6"/>
<circle cx="338.5" cy="120.8" r="1.82" fill="#c4c4c4" stroke="#474747" stroke-width="0.6"/>
<circle cx="338.2" cy="120.5" r="0.82" fill="#ececec" opacity="0.75"/>
<circle cx="336.0" cy="123.9" r="2.04" fill="#c4c4c4" stroke="#474747" stroke-width="0.6"/>
<circle cx="337.9" cy="126.7" r="1.69" fill="#c4c4c4" stroke="#474747" stroke-width="0.6"/>
<circle cx="337.6" cy="126.4" r="0.76" fill="#ececec" opacity="0.75"/>
<circle cx="344.2" cy="122.0" r="1.80" fill="#c4c4c4" stroke="#474747" stroke-width="0.6"/>
<circle cx="343.9" cy="121.7" r="0.81" fill="#ececec" opacity="0.75"/>
<circle cx="344.8" cy="125.8" r="1.86" fill="#c4c4c4" stroke="#474747" stroke-width="0.6"/>
<circle cx="347.6" cy="125.8" r="1.76" fill="#c4c4c4" stroke="#474747" stroke-width="0.6"/>
<circle cx="350.1" cy="127.7" r="2.03" fill="#c4c4c4" stroke="#474747" stroke-width="0.6"/>
<circle cx="349.8" cy="127.4" r="0.91" fill="#ececec" opacity="0.75"/>
<circle cx="349.2" cy="123.3" r="1.90" fill="#c4c4c4" stroke="#474747" stroke-width="0.6"/>
<circle cx="348.9" cy="123.0" r="0.85" fill="#ececec" opacity="0.75"/>
<circle cx="341.0" cy="118.0" r="1.56" fill="#c4c4c4" stroke="#474747" stroke-width="0.6"/></g>
<rect x="303.00" y="90.90" width="85.7" height="63.2" fill="none" stroke="#3c3c3c" stroke-width="0.9"/></g>
<g><rect x="395.80" y="90.90" width="85.7" height="63.2" fill="#909090"/>
<g filter="url(#soft)"><polygon points="438,110 441,112 447,114 449,121 447,128 443,131 436,129 431,126 431,118 434,113" fill="#858585"/>
<circle cx="438.9" cy="112.3" r="1.66" fill="#c4c4c4" stroke="#474747" stroke-width="0.6"/>
<circle cx="438.6" cy="112.0" r="0.75" fill="#ececec" opacity="0.75"/>
<circle cx="435.5" cy="114.5" r="1.82" fill="#c4c4c4" stroke="#474747" stroke-width="0.6"/>
<circle cx="433.3" cy="117.0" r="1.84" fill="#c4c4c4" stroke="#474747" stroke-width="0.6"/>
<circle cx="433.0" cy="116.7" r="0.83" fill="#ececec" opacity="0.75"/>
<circle cx="432.0" cy="120.2" r="1.87" fill="#c4c4c4" stroke="#474747" stroke-width="0.6"/>
<circle cx="431.7" cy="119.9" r="0.84" fill="#ececec" opacity="0.75"/>
<circle cx="439.5" cy="118.6" r="1.55" fill="#c4c4c4" stroke="#474747" stroke-width="0.6"/>
<circle cx="439.2" cy="118.3" r="0.70" fill="#ececec" opacity="0.75"/>
<circle cx="443.3" cy="118.3" r="1.66" fill="#c4c4c4" stroke="#474747" stroke-width="0.6"/>
<circle cx="443.0" cy="118.0" r="0.75" fill="#ececec" opacity="0.75"/>
<circle cx="446.7" cy="116.7" r="1.54" fill="#c4c4c4" stroke="#474747" stroke-width="0.6"/>
<circle cx="446.7" cy="123.3" r="1.79" fill="#c4c4c4" stroke="#474747" stroke-width="0.6"/>
<circle cx="437.7" cy="122.0" r="1.45" fill="#c4c4c4" stroke="#474747" stroke-width="0.6"/>
<circle cx="437.4" cy="121.7" r="0.65" fill="#ececec" opacity="0.75"/>
<circle cx="441.4" cy="122.7" r="1.53" fill="#c4c4c4" stroke="#474747" stroke-width="0.6"/>
<circle cx="441.1" cy="122.4" r="0.69" fill="#ececec" opacity="0.75"/>
<circle cx="435.5" cy="124.2" r="1.82" fill="#c4c4c4" stroke="#474747" stroke-width="0.6"/>
<circle cx="433.3" cy="126.1" r="1.86" fill="#c4c4c4" stroke="#474747" stroke-width="0.6"/>
<circle cx="433.0" cy="125.8" r="0.84" fill="#ececec" opacity="0.75"/>
<circle cx="436.4" cy="127.4" r="1.72" fill="#c4c4c4" stroke="#474747" stroke-width="0.6"/>
<circle cx="436.1" cy="127.1" r="0.77" fill="#ececec" opacity="0.75"/>
<circle cx="439.5" cy="128.3" r="1.56" fill="#c4c4c4" stroke="#474747" stroke-width="0.6"/>
<circle cx="439.2" cy="128.0" r="0.70" fill="#ececec" opacity="0.75"/>
<circle cx="443.3" cy="129.6" r="1.67" fill="#c4c4c4" stroke="#474747" stroke-width="0.6"/>
<circle cx="445.2" cy="120.8" r="1.69" fill="#c4c4c4" stroke="#474747" stroke-width="0.6"/>
<circle cx="444.9" cy="120.5" r="0.76" fill="#ececec" opacity="0.75"/></g>
<rect x="395.80" y="90.90" width="85.7" height="63.2" fill="none" stroke="#3c3c3c" stroke-width="0.9"/></g>
<text x="67.45" y="164.20" font-size="8" text-anchor="middle" fill="#1a1a1a" stroke="#1a1a1a" stroke-width="0.22">40 + 60</text>
<text x="160.25" y="164.20" font-size="8" text-anchor="middle" fill="#1a1a1a" stroke="#1a1a1a" stroke-width="0.22">30 + 70</text>
<text x="253.05" y="164.20" font-size="8" text-anchor="middle" fill="#1a1a1a" stroke="#1a1a1a" stroke-width="0.22">20 + 80</text>
<text x="345.85" y="164.20" font-size="8" text-anchor="middle" fill="#1a1a1a" stroke="#1a1a1a" stroke-width="0.22">10 + 90</text>
<text x="438.65" y="164.20" font-size="8" text-anchor="middle" fill="#1a1a1a" stroke="#1a1a1a" stroke-width="0.22">0 + 100</text>
<line x1="444.1" y1="148.6" x2="475.9" y2="148.6" stroke="#111" stroke-width="1.7"/>
<text x="461.00" y="145.40" font-size="7.3" text-anchor="middle" fill="#111" stroke="#111" stroke-width="0.22">100 µm</text>
<text x="495.60" y="114.00" font-size="8.8" text-anchor="start" fill="#1a1a1a" stroke="#1a1a1a" stroke-width="0.22">Spheroid starting</text>
<text x="495.60" y="124.30" font-size="8.8" text-anchor="start" fill="#1a1a1a" stroke="#1a1a1a" stroke-width="0.22">cell numbers:</text>
<text x="495.60" y="135.90" font-size="8.8" text-anchor="start" fill="#1a1a1a" stroke="#1a1a1a" stroke-width="0.22">HepG2 + HSC</text>
<text x="0.80" y="6.90" font-size="11" text-anchor="start" fill="#000" font-weight="bold">a</text>
<text x="1.50" y="189.80" font-size="11" text-anchor="start" fill="#000" font-weight="bold">b</text>
<rect x="49.2" y="196.2" width="223.2" height="130.60000000000002" fill="none" stroke="#5a5a5a" stroke-width="1"/>
<line x1="46.7" y1="326.80" x2="49.2" y2="326.80" stroke="#5a5a5a" stroke-width="0.9"/>
<text x="44.50" y="329.68" font-size="8.0" text-anchor="end" fill="#1a1a1a" stroke="#1a1a1a" stroke-width="0.22">0</text>
<line x1="46.7" y1="308.14" x2="49.2" y2="308.14" stroke="#5a5a5a" stroke-width="0.9"/>
<text x="44.50" y="311.02" font-size="8.0" text-anchor="end" fill="#1a1a1a" stroke="#1a1a1a" stroke-width="0.22">10</text>
<line x1="46.7" y1="289.48" x2="49.2" y2="289.48" stroke="#5a5a5a" stroke-width="0.9"/>
<text x="44.50" y="292.36" font-size="8.0" text-anchor="end" fill="#1a1a1a" stroke="#1a1a1a" stroke-width="0.22">20</text>
<line x1="46.7" y1="270.82" x2="49.2" y2="270.82" stroke="#5a5a5a" stroke-width="0.9"/>
<text x="44.50" y="273.70" font-size="8.0" text-anchor="end" fill="#1a1a1a" stroke="#1a1a1a" stroke-width="0.22">30</text>
<line x1="46.7" y1="252.16" x2="49.2" y2="252.16" stroke="#5a5a5a" stroke-width="0.9"/>
<text x="44.50" y="255.04" font-size="8.0" text-anchor="end" fill="#1a1a1a" stroke="#1a1a1a" stroke-width="0.22">40</text>
<line x1="46.7" y1="233.50" x2="49.2" y2="233.50" stroke="#5a5a5a" stroke-width="0.9"/>
<text x="44.50" y="236.38" font-size="8.0" text-anchor="end" fill="#1a1a1a" stroke="#1a1a1a" stroke-width="0.22">50</text>
<line x1="46.7" y1="214.84" x2="49.2" y2="214.84" stroke="#5a5a5a" stroke-width="0.9"/>
<text x="44.50" y="217.72" font-size="8.0" text-anchor="end" fill="#1a1a1a" stroke="#1a1a1a" stroke-width="0.22">60</text>
<line x1="46.7" y1="196.18" x2="49.2" y2="196.18" stroke="#5a5a5a" stroke-width="0.9"/>
<text x="44.50" y="199.06" font-size="8.0" text-anchor="end" fill="#1a1a1a" stroke="#1a1a1a" stroke-width="0.22">70</text>
<line x1="59.10" y1="326.8" x2="59.10" y2="329.3" stroke="#5a5a5a" stroke-width="0.9"/>
<text x="59.10" y="340.70" font-size="7.2" text-anchor="middle" fill="#1a1a1a" stroke="#1a1a1a" stroke-width="0.22">100</text>
<text x="59.10" y="349.10" font-size="7.2" text-anchor="middle" fill="#1a1a1a" stroke="#1a1a1a" stroke-width="0.22">0</text>
<line x1="79.23" y1="326.8" x2="79.23" y2="329.3" stroke="#5a5a5a" stroke-width="0.9"/>
<text x="79.23" y="340.70" font-size="7.2" text-anchor="middle" fill="#1a1a1a" stroke="#1a1a1a" stroke-width="0.22">90</text>
<text x="79.23" y="349.10" font-size="7.2" text-anchor="middle" fill="#1a1a1a" stroke="#1a1a1a" stroke-width="0.22">10</text>
<line x1="99.36" y1="326.8" x2="99.36" y2="329.3" stroke="#5a5a5a" stroke-width="0.9"/>
<text x="99.36" y="340.70" font-size="7.2" text-anchor="middle" fill="#1a1a1a" stroke="#1a1a1a" stroke-width="0.22">80</text>
<text x="99.36" y="349.10" font-size="7.2" text-anchor="middle" fill="#1a1a1a" stroke="#1a1a1a" stroke-width="0.22">20</text>
<line x1="119.49" y1="326.8" x2="119.49" y2="329.3" stroke="#5a5a5a" stroke-width="0.9"/>
<text x="119.49" y="340.70" font-size="7.2" text-anchor="middle" fill="#1a1a1a" stroke="#1a1a1a" stroke-width="0.22">70</text>
<text x="119.49" y="349.10" font-size="7.2" text-anchor="middle" fill="#1a1a1a" stroke="#1a1a1a" stroke-width="0.22">30</text>
<line x1="139.62" y1="326.8" x2="139.62" y2="329.3" stroke="#5a5a5a" stroke-width="0.9"/>
<text x="139.62" y="340.70" font-size="7.2" text-anchor="middle" fill="#1a1a1a" stroke="#1a1a1a" stroke-width="0.22">60</text>
<text x="139.62" y="349.10" font-size="7.2" text-anchor="middle" fill="#1a1a1a" stroke="#1a1a1a" stroke-width="0.22">40</text>
<line x1="159.75" y1="326.8" x2="159.75" y2="329.3" stroke="#5a5a5a" stroke-width="0.9"/>
<text x="159.75" y="340.70" font-size="7.2" text-anchor="middle" fill="#1a1a1a" stroke="#1a1a1a" stroke-width="0.22">50</text>
<text x="159.75" y="349.10" font-size="7.2" text-anchor="middle" fill="#1a1a1a" stroke="#1a1a1a" stroke-width="0.22">50</text>
<line x1="179.88" y1="326.8" x2="179.88" y2="329.3" stroke="#5a5a5a" stroke-width="0.9"/>
<text x="179.88" y="340.70" font-size="7.2" text-anchor="middle" fill="#1a1a1a" stroke="#1a1a1a" stroke-width="0.22">40</text>
<text x="179.88" y="349.10" font-size="7.2" text-anchor="middle" fill="#1a1a1a" stroke="#1a1a1a" stroke-width="0.22">60</text>
<line x1="200.01" y1="326.8" x2="200.01" y2="329.3" stroke="#5a5a5a" stroke-width="0.9"/>
<text x="200.01" y="340.70" font-size="7.2" text-anchor="middle" fill="#1a1a1a" stroke="#1a1a1a" stroke-width="0.22">30</text>
<text x="200.01" y="349.10" font-size="7.2" text-anchor="middle" fill="#1a1a1a" stroke="#1a1a1a" stroke-width="0.22">70</text>
<line x1="220.14" y1="326.8" x2="220.14" y2="329.3" stroke="#5a5a5a" stroke-width="0.9"/>
<text x="220.14" y="340.70" font-size="7.2" text-anchor="middle" fill="#1a1a1a" stroke="#1a1a1a" stroke-width="0.22">20</text>
<text x="220.14" y="349.10" font-size="7.2" text-anchor="middle" fill="#1a1a1a" stroke="#1a1a1a" stroke-width="0.22">80</text>
<line x1="240.27" y1="326.8" x2="240.27" y2="329.3" stroke="#5a5a5a" stroke-width="0.9"/>
<text x="240.27" y="340.70" font-size="7.2" text-anchor="middle" fill="#1a1a1a" stroke="#1a1a1a" stroke-width="0.22">10</text>
<text x="240.27" y="349.10" font-size="7.2" text-anchor="middle" fill="#1a1a1a" stroke="#1a1a1a" stroke-width="0.22">90</text>
<line x1="260.40" y1="326.8" x2="260.40" y2="329.3" stroke="#5a5a5a" stroke-width="0.9"/>
<text x="260.40" y="340.70" font-size="7.2" text-anchor="middle" fill="#1a1a1a" stroke="#1a1a1a" stroke-width="0.22">0</text>
<text x="260.40" y="349.10" font-size="7.2" text-anchor="middle" fill="#1a1a1a" stroke="#1a1a1a" stroke-width="0.22">100</text>
<text x="49.40" y="340.70" font-size="7.2" text-anchor="end" fill="#1a1a1a" stroke="#1a1a1a" stroke-width="0.22">HepG2</text>
<text x="49.40" y="349.10" font-size="7.2" text-anchor="end" fill="#1a1a1a" stroke="#1a1a1a" stroke-width="0.22">HSC</text>
<text x="157.50" y="362.20" font-size="8.4" text-anchor="middle" fill="#1a1a1a" stroke="#1a1a1a" stroke-width="0.22">Spheroid composition</text>
<text x="0" y="0" font-size="8.75" text-anchor="middle" fill="#1a1a1a" stroke="#1a1a1a" stroke-width="0.22" transform="translate(30.00,259.10) rotate(-90)">Sheroid area (10³ µm²)</text>
<path d="M60.75,210.90 L60.75,211.33 L60.75,211.75 L60.75,212.18 L60.75,212.61 L60.75,213.04 L60.75,213.46 L60.75,213.89 L60.75,214.32 L60.75,214.74 L60.76,215.17 L60.83,215.60 L60.91,216.03 L61.01,216.45 L61.12,216.88 L61.24,217.31 L61.37,217.73 L61.52,218.16 L61.69,218.59 L61.87,219.01 L62.06,219.44 L62.27,219.87 L62.50,220.30 L62.74,220.72 L63.01,221.15 L63.29,221.58 L63.59,222.00 L63.91,222.43 L64.24,222.86 L64.60,223.29 L64.63,223.71 L64.47,224.14 L64.29,224.57 L64.09,224.99 L63.87,225.42 L63.64,225.85 L63.41,226.28 L63.16,226.70 L62.91,227.13 L62.65,227.56 L62.40,227.98 L62.14,228.41 L61.88,228.84 L61.62,229.26 L61.37,229.69 L61.12,230.12 L60.89,230.55 L60.75,230.97 L60.75,231.40 L60.25,231.40 L60.25,230.97 L60.11,230.55 L59.88,230.12 L59.63,229.69 L59.38,229.26 L59.12,228.84 L58.86,228.41 L58.60,227.98 L58.35,227.56 L58.09,227.13 L57.84,226.70 L57.59,226.28 L57.36,225.85 L57.13,225.42 L56.91,224.99 L56.71,224.57 L56.53,224.14 L56.37,223.71 L56.40,223.29 L56.76,222.86 L57.09,222.43 L57.41,222.00 L57.71,221.58 L57.99,221.15 L58.26,220.72 L58.50,220.30 L58.73,219.87 L58.94,219.44 L59.13,219.01 L59.31,218.59 L59.48,218.16 L59.63,217.73 L59.76,217.31 L59.88,216.88 L59.99,216.45 L60.09,216.03 L60.17,215.60 L60.24,215.17 L60.25,214.74 L60.25,214.32 L60.25,213.89 L60.25,213.46 L60.25,213.04 L60.25,212.61 L60.25,212.18 L60.25,211.75 L60.25,211.33 L60.25,210.90Z" fill="#f59eac" stroke="#2a2a2a" stroke-width="0.6" stroke-linejoin="round"/>
<line x1="60.50" y1="213.97" x2="60.50" y2="228.33" stroke="#222" stroke-width="0.5"/>
<rect x="59.80" y="220.74" width="1.4" height="5.33" fill="#222"/>
<circle cx="60.50" cy="223.40" r="0.7" fill="#fff"/>
<path d="M80.85,221.90 L80.85,222.18 L81.08,222.46 L81.37,222.74 L81.66,223.03 L81.95,223.31 L82.24,223.59 L82.53,223.87 L82.80,224.15 L83.07,224.43 L83.33,224.71 L83.57,224.99 L83.81,225.28 L84.03,225.56 L84.23,225.84 L84.42,226.12 L84.59,226.40 L84.74,226.68 L84.87,226.96 L84.99,227.24 L85.08,227.53 L85.15,227.81 L85.19,228.09 L85.20,228.37 L85.18,228.65 L85.13,228.93 L85.06,229.21 L84.98,229.49 L84.88,229.78 L84.76,230.06 L84.62,230.34 L84.47,230.62 L84.31,230.90 L84.13,231.18 L83.94,231.46 L83.74,231.74 L83.53,232.03 L83.31,232.31 L83.08,232.59 L82.83,232.87 L82.59,233.15 L82.33,233.43 L82.07,233.71 L81.81,233.99 L81.54,234.28 L81.28,234.56 L81.03,234.84 L80.85,235.12 L80.85,235.40 L80.35,235.40 L80.35,235.12 L80.17,234.84 L79.92,234.56 L79.66,234.28 L79.39,233.99 L79.13,233.71 L78.87,233.43 L78.61,233.15 L78.37,232.87 L78.12,232.59 L77.89,232.31 L77.67,232.03 L77.46,231.74 L77.26,231.46 L77.07,231.18 L76.89,230.90 L76.73,230.62 L76.58,230.34 L76.44,230.06 L76.32,229.78 L76.22,229.49 L76.14,229.21 L76.07,228.93 L76.02,228.65 L76.00,228.37 L76.01,228.09 L76.05,227.81 L76.12,227.53 L76.21,227.24 L76.33,226.96 L76.46,226.68 L76.61,226.40 L76.78,226.12 L76.97,225.84 L77.17,225.56 L77.39,225.28 L77.63,224.99 L77.87,224.71 L78.13,224.43 L78.40,224.15 L78.67,223.87 L78.96,223.59 L79.25,223.31 L79.54,223.03 L79.83,222.74 L80.12,222.46 L80.35,222.18 L80.35,221.90Z" fill="#f5a273" stroke="#2a2a2a" stroke-width="0.6" stroke-linejoin="round"/>
<line x1="80.60" y1="223.93" x2="80.60" y2="233.38" stroke="#222" stroke-width="0.5"/>
<rect x="79.90" y="226.55" width="1.4" height="3.51" fill="#222"/>
<circle cx="80.60" cy="228.30" r="0.7" fill="#fff"/>
<path d="M98.95,234.00 L99.14,234.24 L99.57,234.49 L99.98,234.73 L100.38,234.97 L100.77,235.22 L101.15,235.46 L101.51,235.71 L101.85,235.95 L102.18,236.19 L102.49,236.44 L102.79,236.68 L103.07,236.93 L103.33,237.17 L103.57,237.41 L103.78,237.66 L103.97,237.90 L104.13,238.14 L104.24,238.39 L104.30,238.63 L104.24,238.88 L104.16,239.12 L104.05,239.36 L103.91,239.61 L103.77,239.85 L103.61,240.09 L103.44,240.34 L103.25,240.58 L103.06,240.82 L102.86,241.07 L102.65,241.31 L102.43,241.56 L102.21,241.80 L101.98,242.04 L101.74,242.29 L101.51,242.53 L101.27,242.77 L101.03,243.02 L100.79,243.26 L100.54,243.51 L100.30,243.75 L100.07,243.99 L99.83,244.24 L99.60,244.48 L99.39,244.72 L99.18,244.97 L98.99,245.21 L98.95,245.46 L98.95,245.70 L98.45,245.70 L98.45,245.46 L98.41,245.21 L98.22,244.97 L98.01,244.72 L97.80,244.48 L97.57,244.24 L97.33,243.99 L97.10,243.75 L96.86,243.51 L96.61,243.26 L96.37,243.02 L96.13,242.77 L95.89,242.53 L95.66,242.29 L95.42,242.04 L95.19,241.80 L94.97,241.56 L94.75,241.31 L94.54,241.07 L94.34,240.82 L94.15,240.58 L93.96,240.34 L93.79,240.09 L93.63,239.85 L93.49,239.61 L93.35,239.36 L93.24,239.12 L93.16,238.88 L93.10,238.63 L93.16,238.39 L93.27,238.14 L93.43,237.90 L93.62,237.66 L93.83,237.41 L94.07,237.17 L94.33,236.93 L94.61,236.68 L94.91,236.44 L95.22,236.19 L95.55,235.95 L95.89,235.71 L96.25,235.46 L96.63,235.22 L97.02,234.97 L97.42,234.73 L97.83,234.49 L98.26,234.24 L98.45,234.00Z" fill="#3dba80" stroke="#2a2a2a" stroke-width="0.6" stroke-linejoin="round"/>
<line x1="98.70" y1="235.75" x2="98.70" y2="243.94" stroke="#222" stroke-width="0.5"/>
<rect x="98.00" y="237.08" width="1.4" height="3.04" fill="#222"/>
<circle cx="98.70" cy="238.60" r="0.7" fill="#fff"/>
<path d="M119.25,243.10 L119.38,243.30 L119.76,243.49 L120.14,243.69 L120.51,243.88 L120.88,244.08 L121.24,244.28 L121.60,244.47 L121.96,244.67 L122.31,244.86 L122.66,245.06 L123.01,245.25 L123.35,245.45 L123.68,245.65 L124.01,245.84 L124.33,246.04 L124.65,246.23 L124.96,246.43 L125.26,246.62 L125.55,246.82 L125.84,247.02 L126.11,247.21 L126.37,247.41 L126.61,247.60 L126.83,247.80 L127.00,248.00 L126.82,248.19 L126.58,248.39 L126.31,248.58 L126.02,248.78 L125.72,248.97 L125.41,249.17 L125.09,249.37 L124.75,249.56 L124.41,249.76 L124.06,249.95 L123.70,250.15 L123.34,250.35 L122.97,250.54 L122.59,250.74 L122.21,250.93 L121.83,251.13 L121.44,251.32 L121.04,251.52 L120.64,251.72 L120.24,251.91 L119.83,252.11 L119.42,252.30 L119.25,252.50 L118.75,252.50 L118.58,252.30 L118.17,252.11 L117.76,251.91 L117.36,251.72 L116.96,251.52 L116.56,251.32 L116.17,251.13 L115.79,250.93 L115.41,250.74 L115.03,250.54 L114.66,250.35 L114.30,250.15 L113.94,249.95 L113.59,249.76 L113.25,249.56 L112.91,249.37 L112.59,249.17 L112.28,248.97 L111.98,248.78 L111.69,248.58 L111.42,248.39 L111.18,248.19 L111.00,248.00 L111.17,247.80 L111.39,247.60 L111.63,247.41 L111.89,247.21 L112.16,247.02 L112.45,246.82 L112.74,246.62 L113.04,246.43 L113.35,246.23 L113.67,246.04 L113.99,245.84 L114.32,245.65 L114.65,245.45 L114.99,245.25 L115.34,245.06 L115.69,244.86 L116.04,244.67 L116.40,244.47 L116.76,244.28 L117.12,244.08 L117.49,243.88 L117.86,243.69 L118.24,243.49 L118.62,243.30 L118.75,243.10Z" fill="#3cc1a6" stroke="#2a2a2a" stroke-width="0.6" stroke-linejoin="round"/>
<line x1="119.00" y1="244.51" x2="119.00" y2="251.09" stroke="#222" stroke-width="0.5"/>
<rect x="118.30" y="246.78" width="1.4" height="2.44" fill="#222"/>
<circle cx="119.00" cy="248.00" r="0.7" fill="#fff"/>
<path d="M139.35,252.40 L139.35,252.74 L139.61,253.07 L139.89,253.41 L140.16,253.74 L140.43,254.08 L140.70,254.41 L140.95,254.75 L141.20,255.08 L141.44,255.42 L141.68,255.75 L141.90,256.09 L142.10,256.43 L142.30,256.76 L142.48,257.10 L142.65,257.43 L142.80,257.77 L142.93,258.10 L143.04,258.44 L143.13,258.77 L143.19,259.11 L143.19,259.44 L143.13,259.78 L143.05,260.11 L142.95,260.45 L142.83,260.79 L142.70,261.12 L142.56,261.46 L142.41,261.79 L142.26,262.13 L142.09,262.46 L141.92,262.80 L141.74,263.13 L141.56,263.47 L141.38,263.80 L141.19,264.14 L141.00,264.48 L140.81,264.81 L140.63,265.15 L140.44,265.48 L140.25,265.82 L140.07,266.15 L139.89,266.49 L139.72,266.82 L139.56,267.16 L139.41,267.49 L139.35,267.83 L139.35,268.16 L139.35,268.50 L138.85,268.50 L138.85,268.16 L138.85,267.83 L138.79,267.49 L138.64,267.16 L138.48,266.82 L138.31,266.49 L138.13,266.15 L137.95,265.82 L137.76,265.48 L137.57,265.15 L137.39,264.81 L137.20,264.48 L137.01,264.14 L136.82,263.80 L136.64,263.47 L136.46,263.13 L136.28,262.80 L136.11,262.46 L135.94,262.13 L135.79,261.79 L135.64,261.46 L135.50,261.12 L135.37,260.79 L135.25,260.45 L135.15,260.11 L135.07,259.78 L135.01,259.44 L135.01,259.11 L135.07,258.77 L135.16,258.44 L135.27,258.10 L135.40,257.77 L135.55,257.43 L135.72,257.10 L135.90,256.76 L136.10,256.43 L136.30,256.09 L136.52,255.75 L136.76,255.42 L137.00,255.08 L137.25,254.75 L137.50,254.41 L137.77,254.08 L138.04,253.74 L138.31,253.41 L138.59,253.07 L138.85,252.74 L138.85,252.40Z" fill="#3fbcc7" stroke="#2a2a2a" stroke-width="0.6" stroke-linejoin="round"/>
<line x1="139.10" y1="254.81" x2="139.10" y2="266.08" stroke="#222" stroke-width="0.5"/>
<rect x="138.40" y="257.21" width="1.4" height="4.19" fill="#222"/>
<circle cx="139.10" cy="259.30" r="0.7" fill="#fff"/>
<path d="M159.75,275.70 L159.75,275.97 L159.75,276.25 L159.75,276.52 L159.75,276.79 L159.79,277.06 L159.90,277.34 L160.03,277.61 L160.18,277.88 L160.34,278.16 L160.51,278.43 L160.70,278.70 L160.91,278.98 L161.12,279.25 L161.36,279.52 L161.60,279.79 L161.86,280.07 L162.13,280.34 L162.42,280.61 L162.72,280.89 L163.03,281.16 L163.35,281.43 L163.69,281.70 L164.04,281.98 L164.40,282.25 L164.77,282.52 L165.16,282.80 L165.55,283.07 L165.89,283.34 L165.74,283.61 L165.55,283.89 L165.33,284.16 L165.08,284.43 L164.81,284.71 L164.53,284.98 L164.24,285.25 L163.93,285.52 L163.61,285.80 L163.28,286.07 L162.93,286.34 L162.58,286.62 L162.22,286.89 L161.86,287.16 L161.48,287.44 L161.10,287.71 L160.71,287.98 L160.31,288.25 L159.91,288.53 L159.75,288.80 L159.25,288.80 L159.09,288.53 L158.69,288.25 L158.29,287.98 L157.90,287.71 L157.52,287.44 L157.14,287.16 L156.78,286.89 L156.42,286.62 L156.07,286.34 L155.72,286.07 L155.39,285.80 L155.07,285.52 L154.76,285.25 L154.47,284.98 L154.19,284.71 L153.92,284.43 L153.67,284.16 L153.45,283.89 L153.26,283.61 L153.11,283.34 L153.45,283.07 L153.84,282.80 L154.23,282.52 L154.60,282.25 L154.96,281.98 L155.31,281.70 L155.65,281.43 L155.97,281.16 L156.28,280.89 L156.58,280.61 L156.87,280.34 L157.14,280.07 L157.40,279.79 L157.64,279.52 L157.88,279.25 L158.09,278.98 L158.30,278.70 L158.49,278.43 L158.66,278.16 L158.82,277.88 L158.97,277.61 L159.10,277.34 L159.21,277.06 L159.25,276.79 L159.25,276.52 L159.25,276.25 L159.25,275.97 L159.25,275.70Z" fill="#3cb5da" stroke="#2a2a2a" stroke-width="0.6" stroke-linejoin="round"/>
<line x1="159.50" y1="277.66" x2="159.50" y2="286.84" stroke="#222" stroke-width="0.5"/>
<rect x="158.80" y="281.60" width="1.4" height="3.41" fill="#222"/>
<circle cx="159.50" cy="283.30" r="0.7" fill="#fff"/>
<path d="M179.85,282.20 L179.85,282.65 L179.99,283.09 L180.22,283.54 L180.46,283.98 L180.71,284.43 L180.95,284.88 L181.19,285.32 L181.43,285.77 L181.66,286.21 L181.89,286.66 L182.10,287.10 L182.31,287.55 L182.50,288.00 L182.67,288.44 L182.83,288.89 L182.97,289.33 L183.09,289.78 L183.17,290.23 L183.18,290.67 L183.11,291.12 L183.01,291.56 L182.90,292.01 L182.78,292.45 L182.66,292.90 L182.53,293.35 L182.39,293.79 L182.25,294.24 L182.11,294.68 L181.97,295.13 L181.82,295.57 L181.68,296.02 L181.53,296.47 L181.38,296.91 L181.23,297.36 L181.09,297.80 L180.94,298.25 L180.80,298.70 L180.66,299.14 L180.52,299.59 L180.39,300.03 L180.26,300.48 L180.14,300.93 L180.02,301.37 L179.91,301.82 L179.85,302.26 L179.85,302.71 L179.85,303.15 L179.85,303.60 L179.35,303.60 L179.35,303.15 L179.35,302.71 L179.35,302.26 L179.29,301.82 L179.18,301.37 L179.06,300.93 L178.94,300.48 L178.81,300.03 L178.68,299.59 L178.54,299.14 L178.40,298.70 L178.26,298.25 L178.11,297.80 L177.97,297.36 L177.82,296.91 L177.67,296.47 L177.52,296.02 L177.38,295.57 L177.23,295.13 L177.09,294.68 L176.95,294.24 L176.81,293.79 L176.67,293.35 L176.54,292.90 L176.42,292.45 L176.30,292.01 L176.19,291.56 L176.09,291.12 L176.02,290.67 L176.03,290.23 L176.11,289.78 L176.23,289.33 L176.37,288.89 L176.53,288.44 L176.70,288.00 L176.89,287.55 L177.10,287.10 L177.31,286.66 L177.54,286.21 L177.77,285.77 L178.01,285.32 L178.25,284.88 L178.49,284.43 L178.74,283.98 L178.98,283.54 L179.21,283.09 L179.35,282.65 L179.35,282.20Z" fill="#57a9f2" stroke="#2a2a2a" stroke-width="0.6" stroke-linejoin="round"/>
<line x1="179.60" y1="285.41" x2="179.60" y2="300.39" stroke="#222" stroke-width="0.5"/>
<rect x="178.90" y="287.72" width="1.4" height="5.56" fill="#222"/>
<circle cx="179.60" cy="290.50" r="0.7" fill="#fff"/>
<path d="M200.15,288.30 L200.15,288.77 L200.15,289.23 L200.31,289.70 L200.48,290.17 L200.66,290.63 L200.85,291.10 L201.03,291.57 L201.22,292.03 L201.40,292.50 L201.58,292.97 L201.75,293.43 L201.92,293.90 L202.09,294.37 L202.24,294.83 L202.38,295.30 L202.52,295.77 L202.64,296.23 L202.75,296.70 L202.85,297.17 L202.92,297.63 L202.98,298.10 L203.00,298.57 L202.97,299.03 L202.93,299.50 L202.86,299.97 L202.79,300.43 L202.70,300.90 L202.61,301.37 L202.50,301.83 L202.39,302.30 L202.27,302.77 L202.14,303.23 L202.01,303.70 L201.87,304.17 L201.73,304.63 L201.59,305.10 L201.44,305.57 L201.28,306.03 L201.13,306.50 L200.97,306.97 L200.82,307.43 L200.67,307.90 L200.51,308.37 L200.37,308.83 L200.23,309.30 L200.15,309.77 L200.15,310.23 L200.15,310.70 L199.65,310.70 L199.65,310.23 L199.65,309.77 L199.57,309.30 L199.43,308.83 L199.29,308.37 L199.13,307.90 L198.98,307.43 L198.83,306.97 L198.67,306.50 L198.52,306.03 L198.36,305.57 L198.21,305.10 L198.07,304.63 L197.93,304.17 L197.79,303.70 L197.66,303.23 L197.53,302.77 L197.41,302.30 L197.30,301.83 L197.19,301.37 L197.10,300.90 L197.01,300.43 L196.94,299.97 L196.87,299.50 L196.83,299.03 L196.80,298.57 L196.82,298.10 L196.88,297.63 L196.95,297.17 L197.05,296.70 L197.16,296.23 L197.28,295.77 L197.42,295.30 L197.56,294.83 L197.71,294.37 L197.88,293.90 L198.05,293.43 L198.22,292.97 L198.40,292.50 L198.58,292.03 L198.77,291.57 L198.95,291.10 L199.14,290.63 L199.32,290.17 L199.49,289.70 L199.65,289.23 L199.65,288.77 L199.65,288.30Z" fill="#a7a7f4" stroke="#2a2a2a" stroke-width="0.6" stroke-linejoin="round"/>
<line x1="199.90" y1="291.66" x2="199.90" y2="307.34" stroke="#222" stroke-width="0.5"/>
<rect x="199.20" y="295.59" width="1.4" height="5.82" fill="#222"/>
<circle cx="199.90" cy="298.50" r="0.7" fill="#fff"/>
<path d="M220.35,302.50 L220.57,302.72 L221.03,302.95 L221.49,303.17 L221.94,303.39 L222.40,303.61 L222.85,303.84 L223.29,304.06 L223.74,304.28 L224.18,304.51 L224.61,304.73 L225.04,304.95 L225.46,305.18 L225.88,305.40 L226.29,305.62 L226.69,305.84 L227.07,306.07 L227.44,306.29 L227.79,306.51 L227.83,306.74 L227.66,306.96 L227.48,307.18 L227.28,307.40 L227.06,307.63 L226.84,307.85 L226.61,308.07 L226.37,308.30 L226.13,308.52 L225.88,308.74 L225.62,308.96 L225.36,309.19 L225.10,309.41 L224.83,309.63 L224.56,309.86 L224.28,310.08 L224.00,310.30 L223.72,310.52 L223.43,310.75 L223.14,310.97 L222.85,311.19 L222.56,311.42 L222.26,311.64 L221.96,311.86 L221.65,312.09 L221.35,312.31 L221.04,312.53 L220.73,312.75 L220.42,312.98 L220.35,313.20 L219.85,313.20 L219.78,312.98 L219.47,312.75 L219.16,312.53 L218.85,312.31 L218.55,312.09 L218.24,311.86 L217.94,311.64 L217.64,311.42 L217.35,311.19 L217.06,310.97 L216.77,310.75 L216.48,310.52 L216.20,310.30 L215.92,310.08 L215.64,309.86 L215.37,309.63 L215.10,309.41 L214.84,309.19 L214.58,308.96 L214.32,308.74 L214.07,308.52 L213.83,308.30 L213.59,308.07 L213.36,307.85 L213.14,307.63 L212.92,307.40 L212.72,307.18 L212.54,306.96 L212.37,306.74 L212.41,306.51 L212.76,306.29 L213.13,306.07 L213.51,305.84 L213.91,305.62 L214.32,305.40 L214.74,305.18 L215.16,304.95 L215.59,304.73 L216.02,304.51 L216.46,304.28 L216.91,304.06 L217.35,303.84 L217.80,303.61 L218.26,303.39 L218.71,303.17 L219.17,302.95 L219.63,302.72 L219.85,302.50Z" fill="#d8a1f4" stroke="#2a2a2a" stroke-width="0.6" stroke-linejoin="round"/>
<line x1="220.10" y1="304.11" x2="220.10" y2="311.59" stroke="#222" stroke-width="0.5"/>
<rect x="219.40" y="305.21" width="1.4" height="2.78" fill="#222"/>
<circle cx="220.10" cy="306.60" r="0.7" fill="#fff"/>
<path d="M240.55,304.10 L240.55,304.34 L240.57,304.59 L240.74,304.83 L240.93,305.08 L241.12,305.32 L241.31,305.56 L241.52,305.81 L241.72,306.05 L241.94,306.29 L242.15,306.54 L242.37,306.78 L242.59,307.03 L242.82,307.27 L243.04,307.51 L243.27,307.76 L243.50,308.00 L243.73,308.24 L243.96,308.49 L244.19,308.73 L244.42,308.98 L244.65,309.22 L244.88,309.46 L245.11,309.71 L245.34,309.95 L245.56,310.19 L245.79,310.44 L246.00,310.68 L246.21,310.93 L246.41,311.17 L246.48,311.41 L246.39,311.66 L246.25,311.90 L246.07,312.14 L245.86,312.39 L245.62,312.63 L245.34,312.88 L245.04,313.12 L244.72,313.36 L244.37,313.61 L244.00,313.85 L243.61,314.09 L243.19,314.34 L242.76,314.58 L242.31,314.82 L241.83,315.07 L241.34,315.31 L240.83,315.56 L240.55,315.80 L240.05,315.80 L239.77,315.56 L239.26,315.31 L238.77,315.07 L238.29,314.82 L237.84,314.58 L237.41,314.34 L236.99,314.09 L236.60,313.85 L236.23,313.61 L235.88,313.36 L235.56,313.12 L235.26,312.88 L234.98,312.63 L234.74,312.39 L234.53,312.14 L234.35,311.90 L234.21,311.66 L234.12,311.41 L234.19,311.17 L234.39,310.93 L234.60,310.68 L234.81,310.44 L235.04,310.19 L235.26,309.95 L235.49,309.71 L235.72,309.46 L235.95,309.22 L236.18,308.98 L236.41,308.73 L236.64,308.49 L236.87,308.24 L237.10,308.00 L237.33,307.76 L237.56,307.51 L237.78,307.27 L238.01,307.03 L238.23,306.78 L238.45,306.54 L238.66,306.29 L238.88,306.05 L239.08,305.81 L239.29,305.56 L239.48,305.32 L239.67,305.08 L239.86,304.83 L240.03,304.59 L240.05,304.34 L240.05,304.10Z" fill="#f38fe9" stroke="#2a2a2a" stroke-width="0.6" stroke-linejoin="round"/>
<line x1="240.30" y1="305.86" x2="240.30" y2="314.05" stroke="#222" stroke-width="0.5"/>
<rect x="239.60" y="309.78" width="1.4" height="3.04" fill="#222"/>
<circle cx="240.30" cy="311.30" r="0.7" fill="#fff"/>
<path d="M260.85,305.40 L261.03,305.61 L261.45,305.81 L261.87,306.02 L262.28,306.22 L262.69,306.43 L263.10,306.64 L263.50,306.84 L263.89,307.05 L264.27,307.26 L264.65,307.46 L265.03,307.67 L265.39,307.88 L265.75,308.08 L266.09,308.29 L266.43,308.49 L266.75,308.70 L267.06,308.91 L267.35,309.11 L267.62,309.32 L267.84,309.52 L267.82,309.73 L267.65,309.94 L267.46,310.14 L267.26,310.35 L267.04,310.56 L266.82,310.76 L266.58,310.97 L266.34,311.18 L266.09,311.38 L265.84,311.59 L265.58,311.79 L265.31,312.00 L265.05,312.21 L264.77,312.41 L264.50,312.62 L264.21,312.82 L263.93,313.03 L263.64,313.24 L263.35,313.44 L263.06,313.65 L262.76,313.86 L262.46,314.06 L262.15,314.27 L261.85,314.48 L261.54,314.68 L261.23,314.89 L260.92,315.09 L260.85,315.30 L260.35,315.30 L260.28,315.09 L259.97,314.89 L259.66,314.68 L259.35,314.48 L259.05,314.27 L258.74,314.06 L258.44,313.86 L258.14,313.65 L257.85,313.44 L257.56,313.24 L257.27,313.03 L256.99,312.82 L256.70,312.62 L256.43,312.41 L256.15,312.21 L255.89,312.00 L255.62,311.79 L255.36,311.59 L255.11,311.38 L254.86,311.18 L254.62,310.97 L254.38,310.76 L254.16,310.56 L253.94,310.35 L253.74,310.14 L253.55,309.94 L253.38,309.73 L253.36,309.52 L253.58,309.32 L253.85,309.11 L254.14,308.91 L254.45,308.70 L254.77,308.49 L255.11,308.29 L255.45,308.08 L255.81,307.88 L256.17,307.67 L256.55,307.46 L256.93,307.26 L257.31,307.05 L257.70,306.84 L258.10,306.64 L258.51,306.43 L258.92,306.22 L259.33,306.02 L259.75,305.81 L260.17,305.61 L260.35,305.40Z" fill="#f493c9" stroke="#2a2a2a" stroke-width="0.6" stroke-linejoin="round"/>
<line x1="260.60" y1="306.88" x2="260.60" y2="313.81" stroke="#222" stroke-width="0.5"/>
<rect x="259.90" y="308.31" width="1.4" height="2.57" fill="#222"/>
<circle cx="260.60" cy="309.60" r="0.7" fill="#fff"/>
<text x="313.50" y="190.00" font-size="11" text-anchor="start" fill="#000" font-weight="bold">c</text>
<rect x="353" y="196.2" width="220.39999999999998" height="130.8" fill="none" stroke="#5a5a5a" stroke-width="1"/>
<line x1="350.5" y1="327.00" x2="353" y2="327.00" stroke="#5a5a5a" stroke-width="0.9"/>
<text x="348.30" y="329.88" font-size="8.0" text-anchor="end" fill="#1a1a1a" stroke="#1a1a1a" stroke-width="0.22">0.0</text>
<line x1="350.5" y1="300.84" x2="353" y2="300.84" stroke="#5a5a5a" stroke-width="0.9"/>
<text x="348.30" y="303.72" font-size="8.0" text-anchor="end" fill="#1a1a1a" stroke="#1a1a1a" stroke-width="0.22">0.2</text>
<line x1="350.5" y1="274.68" x2="353" y2="274.68" stroke="#5a5a5a" stroke-width="0.9"/>
<text x="348.30" y="277.56" font-size="8.0" text-anchor="end" fill="#1a1a1a" stroke="#1a1a1a" stroke-width="0.22">0.4</text>
<line x1="350.5" y1="248.52" x2="353" y2="248.52" stroke="#5a5a5a" stroke-width="0.9"/>
<text x="348.30" y="251.40" font-size="8.0" text-anchor="end" fill="#1a1a1a" stroke="#1a1a1a" stroke-width="0.22">0.6</text>
<line x1="350.5" y1="222.36" x2="353" y2="222.36" stroke="#5a5a5a" stroke-width="0.9"/>
<text x="348.30" y="225.24" font-size="8.0" text-anchor="end" fill="#1a1a1a" stroke="#1a1a1a" stroke-width="0.22">0.8</text>
<line x1="350.5" y1="196.20" x2="353" y2="196.20" stroke="#5a5a5a" stroke-width="0.9"/>
<text x="348.30" y="199.08" font-size="8.0" text-anchor="end" fill="#1a1a1a" stroke="#1a1a1a" stroke-width="0.22">1.0</text>
<line x1="362.70" y1="327" x2="362.70" y2="329.5" stroke="#5a5a5a" stroke-width="0.9"/>
<text x="362.70" y="340.90" font-size="7.2" text-anchor="middle" fill="#1a1a1a" stroke="#1a1a1a" stroke-width="0.22">100</text>
<text x="362.70" y="349.30" font-size="7.2" text-anchor="middle" fill="#1a1a1a" stroke="#1a1a1a" stroke-width="0.22">0</text>
<line x1="382.83" y1="327" x2="382.83" y2="329.5" stroke="#5a5a5a" stroke-width="0.9"/>
<text x="382.83" y="340.90" font-size="7.2" text-anchor="middle" fill="#1a1a1a" stroke="#1a1a1a" stroke-width="0.22">90</text>
<text x="382.83" y="349.30" font-size="7.2" text-anchor="middle" fill="#1a1a1a" stroke="#1a1a1a" stroke-width="0.22">10</text>
<line x1="402.96" y1="327" x2="402.96" y2="329.5" stroke="#5a5a5a" stroke-width="0.9"/>
<text x="402.96" y="340.90" font-size="7.2" text-anchor="middle" fill="#1a1a1a" stroke="#1a1a1a" stroke-width="0.22">80</text>
<text x="402.96" y="349.30" font-size="7.2" text-anchor="middle" fill="#1a1a1a" stroke="#1a1a1a" stroke-width="0.22">20</text>
<line x1="423.09" y1="327" x2="423.09" y2="329.5" stroke="#5a5a5a" stroke-width="0.9"/>
<text x="423.09" y="340.90" font-size="7.2" text-anchor="middle" fill="#1a1a1a" stroke="#1a1a1a" stroke-width="0.22">70</text>
<text x="423.09" y="349.30" font-size="7.2" text-anchor="middle" fill="#1a1a1a" stroke="#1a1a1a" stroke-width="0.22">30</text>
<line x1="443.22" y1="327" x2="443.22" y2="329.5" stroke="#5a5a5a" stroke-width="0.9"/>
<text x="443.22" y="340.90" font-size="7.2" text-anchor="middle" fill="#1a1a1a" stroke="#1a1a1a" stroke-width="0.22">60</text>
<text x="443.22" y="349.30" font-size="7.2" text-anchor="middle" fill="#1a1a1a" stroke="#1a1a1a" stroke-width="0.22">40</text>
<line x1="463.35" y1="327" x2="463.35" y2="329.5" stroke="#5a5a5a" stroke-width="0.9"/>
<text x="463.35" y="340.90" font-size="7.2" text-anchor="middle" fill="#1a1a1a" stroke="#1a1a1a" stroke-width="0.22">50</text>
<text x="463.35" y="349.30" font-size="7.2" text-anchor="middle" fill="#1a1a1a" stroke="#1a1a1a" stroke-width="0.22">50</text>
<line x1="483.48" y1="327" x2="483.48" y2="329.5" stroke="#5a5a5a" stroke-width="0.9"/>
<text x="483.48" y="340.90" font-size="7.2" text-anchor="middle" fill="#1a1a1a" stroke="#1a1a1a" stroke-width="0.22">40</text>
<text x="483.48" y="349.30" font-size="7.2" text-anchor="middle" fill="#1a1a1a" stroke="#1a1a1a" stroke-width="0.22">60</text>
<line x1="503.61" y1="327" x2="503.61" y2="329.5" stroke="#5a5a5a" stroke-width="0.9"/>
<text x="503.61" y="340.90" font-size="7.2" text-anchor="middle" fill="#1a1a1a" stroke="#1a1a1a" stroke-width="0.22">30</text>
<text x="503.61" y="349.30" font-size="7.2" text-anchor="middle" fill="#1a1a1a" stroke="#1a1a1a" stroke-width="0.22">70</text>
<line x1="523.74" y1="327" x2="523.74" y2="329.5" stroke="#5a5a5a" stroke-width="0.9"/>
<text x="523.74" y="340.90" font-size="7.2" text-anchor="middle" fill="#1a1a1a" stroke="#1a1a1a" stroke-width="0.22">20</text>
<text x="523.74" y="349.30" font-size="7.2" text-anchor="middle" fill="#1a1a1a" stroke="#1a1a1a" stroke-width="0.22">80</text>
<line x1="543.87" y1="327" x2="543.87" y2="329.5" stroke="#5a5a5a" stroke-width="0.9"/>
<text x="543.87" y="340.90" font-size="7.2" text-anchor="middle" fill="#1a1a1a" stroke="#1a1a1a" stroke-width="0.22">10</text>
<text x="543.87" y="349.30" font-size="7.2" text-anchor="middle" fill="#1a1a1a" stroke="#1a1a1a" stroke-width="0.22">90</text>
<line x1="564.00" y1="327" x2="564.00" y2="329.5" stroke="#5a5a5a" stroke-width="0.9"/>
<text x="564.00" y="340.90" font-size="7.2" text-anchor="middle" fill="#1a1a1a" stroke="#1a1a1a" stroke-width="0.22">0</text>
<text x="564.00" y="349.30" font-size="7.2" text-anchor="middle" fill="#1a1a1a" stroke="#1a1a1a" stroke-width="0.22">100</text>
<text x="351.80" y="340.90" font-size="7.2" text-anchor="end" fill="#1a1a1a" stroke="#1a1a1a" stroke-width="0.22">HepG2</text>
<text x="351.80" y="349.30" font-size="7.2" text-anchor="end" fill="#1a1a1a" stroke="#1a1a1a" stroke-width="0.22">HSC</text>
<text x="463.80" y="362.20" font-size="8.4" text-anchor="middle" fill="#1a1a1a" stroke="#1a1a1a" stroke-width="0.22">Spheroid composition</text>
<text x="0" y="0" font-size="8.9" text-anchor="middle" fill="#1a1a1a" stroke="#1a1a1a" stroke-width="0.22" transform="translate(331.60,260.40) rotate(-90)">Circularity</text>
<path d="M364.15,206.00 L364.15,206.69 L364.15,207.37 L364.31,208.06 L364.50,208.74 L364.71,209.43 L364.93,210.11 L365.15,210.80 L365.38,211.48 L365.60,212.17 L365.83,212.85 L366.05,213.54 L366.26,214.22 L366.46,214.91 L366.63,215.60 L366.77,216.28 L366.77,216.97 L366.70,217.65 L366.62,218.34 L366.53,219.02 L366.44,219.71 L366.34,220.39 L366.23,221.08 L366.13,221.76 L366.02,222.45 L365.91,223.14 L365.79,223.82 L365.68,224.51 L365.57,225.19 L365.46,225.88 L365.34,226.56 L365.23,227.25 L365.12,227.93 L365.01,228.62 L364.91,229.30 L364.80,229.99 L364.70,230.68 L364.61,231.36 L364.51,232.05 L364.42,232.73 L364.34,233.42 L364.25,234.10 L364.18,234.79 L364.15,235.47 L364.15,236.16 L364.15,236.84 L364.15,237.53 L364.15,238.21 L364.15,238.90 L363.65,238.90 L363.65,238.21 L363.65,237.53 L363.65,236.84 L363.65,236.16 L363.65,235.47 L363.62,234.79 L363.55,234.10 L363.46,233.42 L363.38,232.73 L363.29,232.05 L363.19,231.36 L363.10,230.68 L363.00,229.99 L362.89,229.30 L362.79,228.62 L362.68,227.93 L362.57,227.25 L362.46,226.56 L362.34,225.88 L362.23,225.19 L362.12,224.51 L362.01,223.82 L361.89,223.14 L361.78,222.45 L361.67,221.76 L361.57,221.08 L361.46,220.39 L361.36,219.71 L361.27,219.02 L361.18,218.34 L361.10,217.65 L361.03,216.97 L361.03,216.28 L361.17,215.60 L361.34,214.91 L361.54,214.22 L361.75,213.54 L361.97,212.85 L362.20,212.17 L362.42,211.48 L362.65,210.80 L362.87,210.11 L363.09,209.43 L363.30,208.74 L363.49,208.06 L363.65,207.37 L363.65,206.69 L363.65,206.00Z" fill="#f59eac" stroke="#2a2a2a" stroke-width="0.6" stroke-linejoin="round"/>
<line x1="363.90" y1="207.00" x2="363.90" y2="237.90" stroke="#222" stroke-width="0.5"/>
<rect x="363.20" y="214.90" width="1.4" height="11.50" fill="#222"/>
<circle cx="363.90" cy="217.00" r="0.7" fill="#fff"/>
<path d="M384.25,196.10 L384.25,196.67 L384.25,197.24 L384.25,197.81 L384.25,198.38 L384.25,198.95 L384.25,199.53 L384.25,200.10 L384.25,200.67 L384.25,201.24 L384.25,201.81 L384.25,202.38 L384.25,202.95 L384.28,203.52 L384.36,204.09 L384.45,204.66 L384.55,205.23 L384.67,205.80 L384.81,206.38 L384.96,206.95 L385.13,207.52 L385.32,208.09 L385.53,208.66 L385.77,209.23 L386.03,209.80 L386.31,210.37 L386.62,210.94 L386.95,211.51 L387.32,212.08 L387.71,212.65 L388.14,213.22 L388.60,213.80 L388.56,214.37 L388.48,214.94 L388.36,215.51 L388.21,216.08 L388.03,216.65 L387.82,217.22 L387.58,217.79 L387.32,218.36 L387.04,218.93 L386.73,219.50 L386.41,220.07 L386.06,220.65 L385.69,221.22 L385.29,221.79 L384.88,222.36 L384.45,222.93 L384.25,223.50 L383.75,223.50 L383.55,222.93 L383.12,222.36 L382.71,221.79 L382.31,221.22 L381.94,220.65 L381.59,220.07 L381.27,219.50 L380.96,218.93 L380.68,218.36 L380.42,217.79 L380.18,217.22 L379.97,216.65 L379.79,216.08 L379.64,215.51 L379.52,214.94 L379.44,214.37 L379.40,213.80 L379.86,213.22 L380.29,212.65 L380.68,212.08 L381.05,211.51 L381.38,210.94 L381.69,210.37 L381.97,209.80 L382.23,209.23 L382.47,208.66 L382.68,208.09 L382.87,207.52 L383.04,206.95 L383.19,206.38 L383.33,205.80 L383.45,205.23 L383.55,204.66 L383.64,204.09 L383.72,203.52 L383.75,202.95 L383.75,202.38 L383.75,201.81 L383.75,201.24 L383.75,200.67 L383.75,200.10 L383.75,199.53 L383.75,198.95 L383.75,198.38 L383.75,197.81 L383.75,197.24 L383.75,196.67 L383.75,196.10Z" fill="#f5a273" stroke="#2a2a2a" stroke-width="0.6" stroke-linejoin="round"/>
<line x1="384.00" y1="200.21" x2="384.00" y2="219.39" stroke="#222" stroke-width="0.5"/>
<rect x="383.30" y="210.24" width="1.4" height="7.12" fill="#222"/>
<circle cx="384.00" cy="213.80" r="0.7" fill="#fff"/>
<path d="M402.85,200.30 L402.85,200.82 L402.85,201.34 L402.85,201.86 L402.89,202.38 L402.99,202.90 L403.11,203.43 L403.23,203.95 L403.36,204.47 L403.50,204.99 L403.64,205.51 L403.79,206.03 L403.94,206.55 L404.10,207.07 L404.27,207.59 L404.44,208.11 L404.61,208.63 L404.79,209.15 L404.97,209.68 L405.16,210.20 L405.35,210.72 L405.54,211.24 L405.74,211.76 L405.94,212.28 L406.15,212.80 L406.36,213.32 L406.57,213.84 L406.78,214.36 L406.72,214.88 L406.59,215.40 L406.44,215.93 L406.28,216.45 L406.10,216.97 L405.91,217.49 L405.72,218.01 L405.51,218.53 L405.30,219.05 L405.09,219.57 L404.86,220.09 L404.64,220.61 L404.41,221.13 L404.18,221.65 L403.95,222.18 L403.71,222.70 L403.48,223.22 L403.25,223.74 L403.02,224.26 L402.85,224.78 L402.85,225.30 L402.35,225.30 L402.35,224.78 L402.18,224.26 L401.95,223.74 L401.72,223.22 L401.49,222.70 L401.25,222.18 L401.02,221.65 L400.79,221.13 L400.56,220.61 L400.34,220.09 L400.11,219.57 L399.90,219.05 L399.69,218.53 L399.48,218.01 L399.29,217.49 L399.10,216.97 L398.92,216.45 L398.76,215.93 L398.61,215.40 L398.48,214.88 L398.42,214.36 L398.63,213.84 L398.84,213.32 L399.05,212.80 L399.26,212.28 L399.46,211.76 L399.66,211.24 L399.85,210.72 L400.04,210.20 L400.23,209.68 L400.41,209.15 L400.59,208.63 L400.76,208.11 L400.93,207.59 L401.10,207.07 L401.26,206.55 L401.41,206.03 L401.56,205.51 L401.70,204.99 L401.84,204.47 L401.97,203.95 L402.09,203.43 L402.21,202.90 L402.31,202.38 L402.35,201.86 L402.35,201.34 L402.35,200.82 L402.35,200.30Z" fill="#3dba80" stroke="#2a2a2a" stroke-width="0.6" stroke-linejoin="round"/>
<line x1="402.60" y1="204.05" x2="402.60" y2="221.55" stroke="#222" stroke-width="0.5"/>
<rect x="401.90" y="211.15" width="1.4" height="6.50" fill="#222"/>
<circle cx="402.60" cy="214.40" r="0.7" fill="#fff"/>
<path d="M423.05,199.30 L423.26,199.78 L423.70,200.27 L424.13,200.75 L424.55,201.23 L424.94,201.72 L425.32,202.20 L425.67,202.68 L426.01,203.17 L426.33,203.65 L426.62,204.13 L426.89,204.62 L427.14,205.10 L427.35,205.58 L427.52,206.07 L427.65,206.55 L427.61,207.03 L427.28,207.52 L426.97,208.00 L426.67,208.48 L426.38,208.97 L426.11,209.45 L425.85,209.93 L425.59,210.42 L425.35,210.90 L425.13,211.38 L424.91,211.87 L424.70,212.35 L424.51,212.83 L424.33,213.32 L424.16,213.80 L424.00,214.28 L423.85,214.77 L423.71,215.25 L423.58,215.73 L423.46,216.22 L423.36,216.70 L423.26,217.18 L423.17,217.67 L423.10,218.15 L423.05,218.63 L423.05,219.12 L423.05,219.60 L423.05,220.08 L423.05,220.57 L423.05,221.05 L423.05,221.53 L423.05,222.02 L423.05,222.50 L422.55,222.50 L422.55,222.02 L422.55,221.53 L422.55,221.05 L422.55,220.57 L422.55,220.08 L422.55,219.60 L422.55,219.12 L422.55,218.63 L422.50,218.15 L422.43,217.67 L422.34,217.18 L422.24,216.70 L422.14,216.22 L422.02,215.73 L421.89,215.25 L421.75,214.77 L421.60,214.28 L421.44,213.80 L421.27,213.32 L421.09,212.83 L420.90,212.35 L420.69,211.87 L420.47,211.38 L420.25,210.90 L420.01,210.42 L419.75,209.93 L419.49,209.45 L419.22,208.97 L418.93,208.48 L418.63,208.00 L418.32,207.52 L417.99,207.03 L417.95,206.55 L418.08,206.07 L418.25,205.58 L418.46,205.10 L418.71,204.62 L418.98,204.13 L419.27,203.65 L419.59,203.17 L419.93,202.68 L420.28,202.20 L420.66,201.72 L421.05,201.23 L421.47,200.75 L421.90,200.27 L422.34,199.78 L422.55,199.30Z" fill="#3cc1a6" stroke="#2a2a2a" stroke-width="0.6" stroke-linejoin="round"/>
<line x1="422.80" y1="202.78" x2="422.80" y2="219.02" stroke="#222" stroke-width="0.5"/>
<rect x="422.10" y="203.88" width="1.4" height="6.03" fill="#222"/>
<circle cx="422.80" cy="206.90" r="0.7" fill="#fff"/>
<path d="M443.25,204.80 L443.25,205.10 L443.49,205.41 L443.78,205.71 L444.09,206.02 L444.40,206.32 L444.71,206.62 L445.02,206.93 L445.33,207.23 L445.64,207.54 L445.94,207.84 L446.24,208.15 L446.53,208.45 L446.81,208.75 L447.07,209.06 L447.33,209.36 L447.58,209.67 L447.81,209.97 L448.03,210.28 L448.23,210.58 L448.41,210.88 L448.58,211.19 L448.72,211.49 L448.84,211.80 L448.94,212.10 L448.99,212.40 L448.98,212.71 L448.90,213.01 L448.78,213.32 L448.64,213.62 L448.47,213.93 L448.28,214.23 L448.07,214.53 L447.84,214.84 L447.60,215.14 L447.33,215.45 L447.05,215.75 L446.76,216.05 L446.46,216.36 L446.14,216.66 L445.81,216.97 L445.47,217.27 L445.12,217.58 L444.76,217.88 L444.40,218.18 L444.04,218.49 L443.68,218.79 L443.32,219.10 L443.25,219.40 L442.75,219.40 L442.68,219.10 L442.32,218.79 L441.96,218.49 L441.60,218.18 L441.24,217.88 L440.88,217.58 L440.53,217.27 L440.19,216.97 L439.86,216.66 L439.54,216.36 L439.24,216.05 L438.95,215.75 L438.67,215.45 L438.40,215.14 L438.16,214.84 L437.93,214.53 L437.72,214.23 L437.53,213.93 L437.36,213.62 L437.22,213.32 L437.10,213.01 L437.02,212.71 L437.01,212.40 L437.06,212.10 L437.16,211.80 L437.28,211.49 L437.42,211.19 L437.59,210.88 L437.77,210.58 L437.97,210.28 L438.19,209.97 L438.42,209.67 L438.67,209.36 L438.93,209.06 L439.19,208.75 L439.47,208.45 L439.76,208.15 L440.06,207.84 L440.36,207.54 L440.67,207.23 L440.98,206.93 L441.29,206.62 L441.60,206.32 L441.91,206.02 L442.22,205.71 L442.51,205.41 L442.75,205.10 L442.75,204.80Z" fill="#3fbcc7" stroke="#2a2a2a" stroke-width="0.6" stroke-linejoin="round"/>
<line x1="443.00" y1="206.99" x2="443.00" y2="217.21" stroke="#222" stroke-width="0.5"/>
<rect x="442.30" y="210.60" width="1.4" height="3.80" fill="#222"/>
<circle cx="443.00" cy="212.50" r="0.7" fill="#fff"/>
<path d="M463.55,207.60 L463.55,208.32 L463.55,209.05 L463.55,209.78 L463.56,210.50 L463.66,211.22 L463.77,211.95 L463.89,212.67 L464.01,213.40 L464.13,214.12 L464.27,214.85 L464.40,215.57 L464.54,216.30 L464.67,217.03 L464.81,217.75 L464.95,218.47 L465.09,219.20 L465.23,219.93 L465.36,220.65 L465.49,221.38 L465.62,222.10 L465.73,222.82 L465.84,223.55 L465.94,224.28 L466.00,225.00 L465.94,225.72 L465.84,226.45 L465.73,227.18 L465.62,227.90 L465.49,228.62 L465.36,229.35 L465.23,230.07 L465.09,230.80 L464.95,231.53 L464.81,232.25 L464.67,232.97 L464.54,233.70 L464.40,234.43 L464.27,235.15 L464.13,235.88 L464.01,236.60 L463.89,237.32 L463.77,238.05 L463.66,238.78 L463.56,239.50 L463.55,240.22 L463.55,240.95 L463.55,241.68 L463.55,242.40 L463.05,242.40 L463.05,241.68 L463.05,240.95 L463.05,240.22 L463.04,239.50 L462.94,238.78 L462.83,238.05 L462.71,237.32 L462.59,236.60 L462.47,235.88 L462.33,235.15 L462.20,234.43 L462.06,233.70 L461.93,232.97 L461.79,232.25 L461.65,231.53 L461.51,230.80 L461.37,230.07 L461.24,229.35 L461.11,228.62 L460.98,227.90 L460.87,227.18 L460.76,226.45 L460.66,225.72 L460.60,225.00 L460.66,224.28 L460.76,223.55 L460.87,222.82 L460.98,222.10 L461.11,221.38 L461.24,220.65 L461.37,219.93 L461.51,219.20 L461.65,218.47 L461.79,217.75 L461.93,217.03 L462.06,216.30 L462.20,215.57 L462.33,214.85 L462.47,214.12 L462.59,213.40 L462.71,212.67 L462.83,211.95 L462.94,211.22 L463.04,210.50 L463.05,209.78 L463.05,209.05 L463.05,208.32 L463.05,207.60Z" fill="#3cb5da" stroke="#2a2a2a" stroke-width="0.6" stroke-linejoin="round"/>
<line x1="463.30" y1="212.82" x2="463.30" y2="237.18" stroke="#222" stroke-width="0.5"/>
<rect x="462.60" y="220.48" width="1.4" height="9.05" fill="#222"/>
<circle cx="463.30" cy="225.00" r="0.7" fill="#fff"/>
<path d="M483.65,218.00 L483.65,218.55 L483.70,219.10 L483.89,219.66 L484.08,220.21 L484.28,220.76 L484.48,221.31 L484.68,221.86 L484.88,222.42 L485.08,222.97 L485.28,223.52 L485.48,224.07 L485.67,224.62 L485.85,225.18 L486.03,225.73 L486.20,226.28 L486.36,226.83 L486.52,227.39 L486.66,227.94 L486.78,228.49 L486.89,229.04 L486.97,229.59 L486.98,230.15 L486.92,230.70 L486.83,231.25 L486.73,231.80 L486.62,232.35 L486.50,232.91 L486.37,233.46 L486.23,234.01 L486.08,234.56 L485.93,235.11 L485.78,235.67 L485.62,236.22 L485.46,236.77 L485.30,237.32 L485.14,237.88 L484.97,238.43 L484.81,238.98 L484.64,239.53 L484.48,240.08 L484.32,240.64 L484.16,241.19 L484.01,241.74 L483.86,242.29 L483.72,242.84 L483.65,243.40 L483.65,243.95 L483.65,244.50 L483.15,244.50 L483.15,243.95 L483.15,243.40 L483.08,242.84 L482.94,242.29 L482.79,241.74 L482.64,241.19 L482.48,240.64 L482.32,240.08 L482.16,239.53 L481.99,238.98 L481.83,238.43 L481.66,237.88 L481.50,237.32 L481.34,236.77 L481.18,236.22 L481.02,235.67 L480.87,235.11 L480.72,234.56 L480.57,234.01 L480.43,233.46 L480.30,232.91 L480.18,232.35 L480.07,231.80 L479.97,231.25 L479.88,230.70 L479.82,230.15 L479.83,229.59 L479.91,229.04 L480.02,228.49 L480.14,227.94 L480.28,227.39 L480.44,226.83 L480.60,226.28 L480.77,225.73 L480.95,225.18 L481.13,224.62 L481.32,224.07 L481.52,223.52 L481.72,222.97 L481.92,222.42 L482.12,221.86 L482.32,221.31 L482.52,220.76 L482.72,220.21 L482.91,219.66 L483.10,219.10 L483.15,218.55 L483.15,218.00Z" fill="#57a9f2" stroke="#2a2a2a" stroke-width="0.6" stroke-linejoin="round"/>
<line x1="483.40" y1="221.97" x2="483.40" y2="240.53" stroke="#222" stroke-width="0.5"/>
<rect x="482.70" y="226.46" width="1.4" height="6.89" fill="#222"/>
<circle cx="483.40" cy="229.90" r="0.7" fill="#fff"/>
<path d="M503.75,206.60 L503.75,208.00 L503.75,209.40 L503.75,210.80 L503.75,212.20 L503.75,213.60 L503.75,215.00 L503.75,216.40 L503.80,217.80 L503.86,219.20 L503.92,220.60 L503.99,222.00 L504.05,223.40 L504.12,224.80 L504.20,226.20 L504.27,227.60 L504.35,229.00 L504.43,230.40 L504.51,231.80 L504.59,233.20 L504.67,234.60 L504.75,236.00 L504.83,237.40 L504.91,238.80 L504.99,240.20 L505.06,241.60 L505.14,243.00 L505.21,244.40 L505.27,245.80 L505.28,247.20 L505.18,248.60 L505.08,250.00 L504.96,251.40 L504.84,252.80 L504.72,254.20 L504.61,255.60 L504.49,257.00 L504.37,258.40 L504.26,259.80 L504.15,261.20 L504.04,262.60 L503.94,264.00 L503.85,265.40 L503.76,266.80 L503.75,268.20 L503.75,269.60 L503.75,271.00 L503.75,272.40 L503.75,273.80 L503.25,273.80 L503.25,272.40 L503.25,271.00 L503.25,269.60 L503.25,268.20 L503.24,266.80 L503.15,265.40 L503.06,264.00 L502.96,262.60 L502.85,261.20 L502.74,259.80 L502.63,258.40 L502.51,257.00 L502.39,255.60 L502.28,254.20 L502.16,252.80 L502.04,251.40 L501.92,250.00 L501.82,248.60 L501.72,247.20 L501.73,245.80 L501.79,244.40 L501.86,243.00 L501.94,241.60 L502.01,240.20 L502.09,238.80 L502.17,237.40 L502.25,236.00 L502.33,234.60 L502.41,233.20 L502.49,231.80 L502.57,230.40 L502.65,229.00 L502.73,227.60 L502.80,226.20 L502.88,224.80 L502.95,223.40 L503.01,222.00 L503.08,220.60 L503.14,219.20 L503.20,217.80 L503.25,216.40 L503.25,215.00 L503.25,213.60 L503.25,212.20 L503.25,210.80 L503.25,209.40 L503.25,208.00 L503.25,206.60Z" fill="#a7a7f4" stroke="#2a2a2a" stroke-width="0.6" stroke-linejoin="round"/>
<line x1="503.50" y1="207.60" x2="503.50" y2="272.80" stroke="#222" stroke-width="0.5"/>
<rect x="502.70" y="230.70" width="1.6" height="20.20" fill="#222"/>
<circle cx="503.50" cy="246.70" r="0.7" fill="#fff"/>
<path d="M523.85,228.30 L523.85,229.61 L523.85,230.92 L523.85,232.23 L523.85,233.54 L523.85,234.85 L523.85,236.16 L523.85,237.47 L523.90,238.78 L523.95,240.09 L524.02,241.40 L524.08,242.71 L524.15,244.03 L524.22,245.34 L524.29,246.65 L524.37,247.96 L524.44,249.27 L524.52,250.58 L524.60,251.89 L524.68,253.20 L524.76,254.51 L524.84,255.82 L524.92,257.13 L525.00,258.44 L525.08,259.75 L525.16,261.06 L525.23,262.37 L525.30,263.68 L525.36,264.99 L525.39,266.30 L525.29,267.61 L525.19,268.92 L525.07,270.23 L524.96,271.54 L524.84,272.85 L524.72,274.16 L524.60,275.48 L524.48,276.79 L524.36,278.10 L524.25,279.41 L524.15,280.72 L524.05,282.03 L523.95,283.34 L523.87,284.65 L523.85,285.96 L523.85,287.27 L523.85,288.58 L523.85,289.89 L523.85,291.20 L523.35,291.20 L523.35,289.89 L523.35,288.58 L523.35,287.27 L523.35,285.96 L523.33,284.65 L523.25,283.34 L523.15,282.03 L523.05,280.72 L522.95,279.41 L522.84,278.10 L522.72,276.79 L522.60,275.48 L522.48,274.16 L522.36,272.85 L522.24,271.54 L522.13,270.23 L522.01,268.92 L521.91,267.61 L521.81,266.30 L521.84,264.99 L521.90,263.68 L521.97,262.37 L522.04,261.06 L522.12,259.75 L522.20,258.44 L522.28,257.13 L522.36,255.82 L522.44,254.51 L522.52,253.20 L522.60,251.89 L522.68,250.58 L522.76,249.27 L522.83,247.96 L522.91,246.65 L522.98,245.34 L523.05,244.03 L523.12,242.71 L523.18,241.40 L523.25,240.09 L523.30,238.78 L523.35,237.47 L523.35,236.16 L523.35,234.85 L523.35,233.54 L523.35,232.23 L523.35,230.92 L523.35,229.61 L523.35,228.30Z" fill="#d8a1f4" stroke="#2a2a2a" stroke-width="0.6" stroke-linejoin="round"/>
<line x1="523.60" y1="229.30" x2="523.60" y2="290.20" stroke="#222" stroke-width="0.5"/>
<rect x="522.80" y="246.70" width="1.6" height="23.60" fill="#222"/>
<circle cx="523.60" cy="266.90" r="0.7" fill="#fff"/>
<path d="M544.35,203.80 L544.35,205.61 L544.35,207.41 L544.35,209.22 L544.35,211.03 L544.35,212.83 L544.35,214.64 L544.35,216.44 L544.35,218.25 L544.36,220.06 L544.41,221.86 L544.46,223.67 L544.52,225.48 L544.58,227.28 L544.64,229.09 L544.71,230.89 L544.78,232.70 L544.85,234.51 L544.92,236.31 L544.99,238.12 L545.07,239.93 L545.14,241.73 L545.22,243.54 L545.30,245.34 L545.37,247.15 L545.45,248.96 L545.52,250.76 L545.59,252.57 L545.66,254.38 L545.70,256.18 L545.62,257.99 L545.52,259.79 L545.42,261.60 L545.32,263.41 L545.21,265.21 L545.10,267.02 L544.99,268.82 L544.89,270.63 L544.79,272.44 L544.69,274.24 L544.59,276.05 L544.50,277.86 L544.42,279.66 L544.35,281.47 L544.35,283.27 L544.35,285.08 L544.35,286.89 L544.35,288.69 L544.35,290.50 L543.85,290.50 L543.85,288.69 L543.85,286.89 L543.85,285.08 L543.85,283.27 L543.85,281.47 L543.78,279.66 L543.70,277.86 L543.61,276.05 L543.51,274.24 L543.41,272.44 L543.31,270.63 L543.21,268.82 L543.10,267.02 L542.99,265.21 L542.88,263.41 L542.78,261.60 L542.68,259.79 L542.58,257.99 L542.50,256.18 L542.54,254.38 L542.61,252.57 L542.68,250.76 L542.75,248.96 L542.83,247.15 L542.90,245.34 L542.98,243.54 L543.06,241.73 L543.13,239.93 L543.21,238.12 L543.28,236.31 L543.35,234.51 L543.42,232.70 L543.49,230.89 L543.56,229.09 L543.62,227.28 L543.68,225.48 L543.74,223.67 L543.79,221.86 L543.84,220.06 L543.85,218.25 L543.85,216.44 L543.85,214.64 L543.85,212.83 L543.85,211.03 L543.85,209.22 L543.85,207.41 L543.85,205.61 L543.85,203.80Z" fill="#f38fe9" stroke="#2a2a2a" stroke-width="0.6" stroke-linejoin="round"/>
<line x1="544.10" y1="204.80" x2="544.10" y2="289.50" stroke="#222" stroke-width="0.5"/>
<rect x="543.30" y="226.50" width="1.6" height="32.70" fill="#222"/>
<circle cx="544.10" cy="257.80" r="0.7" fill="#fff"/>
<path d="M564.25,203.80 L564.25,205.19 L564.25,206.57 L564.25,207.96 L564.25,209.34 L564.25,210.73 L564.25,212.11 L564.28,213.50 L564.34,214.88 L564.41,216.27 L564.48,217.65 L564.56,219.04 L564.64,220.43 L564.72,221.81 L564.80,223.20 L564.88,224.58 L564.97,225.97 L565.06,227.35 L565.14,228.74 L565.23,230.12 L565.32,231.51 L565.41,232.89 L565.50,234.28 L565.58,235.66 L565.66,237.05 L565.73,238.44 L565.80,239.82 L565.74,241.21 L565.65,242.59 L565.55,243.98 L565.45,245.36 L565.35,246.75 L565.24,248.13 L565.14,249.52 L565.03,250.90 L564.93,252.29 L564.83,253.68 L564.73,255.06 L564.63,256.45 L564.54,257.83 L564.45,259.22 L564.37,260.60 L564.29,261.99 L564.25,263.37 L564.25,264.76 L564.25,266.14 L564.25,267.53 L564.25,268.91 L564.25,270.30 L563.75,270.30 L563.75,268.91 L563.75,267.53 L563.75,266.14 L563.75,264.76 L563.75,263.37 L563.71,261.99 L563.63,260.60 L563.55,259.22 L563.46,257.83 L563.37,256.45 L563.27,255.06 L563.17,253.68 L563.07,252.29 L562.97,250.90 L562.86,249.52 L562.76,248.13 L562.65,246.75 L562.55,245.36 L562.45,243.98 L562.35,242.59 L562.26,241.21 L562.20,239.82 L562.27,238.44 L562.34,237.05 L562.42,235.66 L562.50,234.28 L562.59,232.89 L562.68,231.51 L562.77,230.12 L562.86,228.74 L562.94,227.35 L563.03,225.97 L563.12,224.58 L563.20,223.20 L563.28,221.81 L563.36,220.43 L563.44,219.04 L563.52,217.65 L563.59,216.27 L563.66,214.88 L563.72,213.50 L563.75,212.11 L563.75,210.73 L563.75,209.34 L563.75,207.96 L563.75,206.57 L563.75,205.19 L563.75,203.80Z" fill="#f493c9" stroke="#2a2a2a" stroke-width="0.6" stroke-linejoin="round"/>
<line x1="564.00" y1="204.80" x2="564.00" y2="269.30" stroke="#222" stroke-width="0.5"/>
<rect x="563.20" y="224.40" width="1.6" height="23.00" fill="#222"/>
<circle cx="564.00" cy="243.20" r="0.7" fill="#fff"/>
<text x="1.00" y="389.40" font-size="11" text-anchor="start" fill="#000" font-weight="bold">d</text>
<rect x="23.80" y="395" width="84.9" height="62.2" fill="#000"/>
<path d="M85.01,423.80 L85.05,426.52 L84.59,429.18 L83.62,431.68 L82.24,433.90 L80.60,435.84 L78.90,437.56 L77.24,439.18 L75.67,440.82 L74.12,442.51 L72.50,444.19 L70.71,445.74 L68.71,446.96 L66.54,447.73 L64.27,448.01 L62.00,447.91 L59.77,447.59 L57.56,447.23 L55.30,446.92 L52.93,446.64 L50.44,446.24 L47.93,445.51 L45.55,444.28 L43.49,442.48 L41.92,440.15 L40.88,437.47 L40.30,434.63 L40.02,431.81 L39.86,429.08 L39.71,426.43 L39.56,423.80 L39.50,421.15 L39.69,418.48 L40.30,415.90 L41.41,413.52 L42.97,411.48 L44.85,409.83 L46.87,408.53 L48.86,407.44 L50.72,406.39 L52.44,405.23 L54.09,403.88 L55.79,402.39 L57.65,400.85 L59.72,399.44 L62.00,398.32 L64.45,397.63 L67.00,397.44 L69.54,397.79 L71.98,398.67 L74.23,400.05 L76.22,401.85 L77.91,403.99 L79.29,406.35 L80.41,408.80 L81.36,411.27 L82.23,413.70 L83.07,416.13 L83.88,418.59 L84.57,421.14Z" fill="url(#gblue)" filter="url(#speck)"/>
<ellipse cx="63.8" cy="425.8" rx="16.7" ry="18.8" fill="url(#gcore)"/>
<text x="67.65" y="467.50" font-size="8.25" text-anchor="middle" fill="#1a1a1a" stroke="#1a1a1a" stroke-width="0.22">100 + 0</text>
<rect x="116.70" y="395" width="84.9" height="62.2" fill="#000"/>
<path d="M179.50,423.10 L179.33,425.70 L178.89,428.25 L178.16,430.69 L177.11,432.95 L175.75,434.94 L174.11,436.58 L172.30,437.87 L170.42,438.84 L168.61,439.64 L166.93,440.45 L165.36,441.41 L163.83,442.61 L162.23,443.98 L160.47,445.37 L158.50,446.50 L156.37,447.16 L154.19,447.19 L152.09,446.56 L150.15,445.41 L148.39,443.91 L146.79,442.26 L145.25,440.60 L143.71,438.93 L142.17,437.20 L140.71,435.31 L139.44,433.19 L138.52,430.82 L138.04,428.27 L138.00,425.66 L138.35,423.10 L138.96,420.66 L139.69,418.35 L140.46,416.13 L141.25,413.97 L142.09,411.84 L143.06,409.77 L144.23,407.83 L145.62,406.10 L147.21,404.63 L148.95,403.44 L150.78,402.49 L152.66,401.73 L154.57,401.14 L156.52,400.69 L158.50,400.44 L160.50,400.43 L162.50,400.71 L164.46,401.28 L166.35,402.13 L168.16,403.20 L169.90,404.44 L171.58,405.82 L173.21,407.36 L174.75,409.06 L176.17,410.97 L177.39,413.10 L178.35,415.43 L179.02,417.91 L179.40,420.49Z" fill="url(#gblue)" filter="url(#speck)"/>
<ellipse cx="160.1" cy="425.0" rx="14.7" ry="17.5" fill="url(#gcore)"/>
<circle cx="161.9" cy="431.3" r="1.4" fill="#ff2a9a" filter="url(#soft)"/>
<text x="159.35" y="467.50" font-size="8.25" text-anchor="middle" fill="#1a1a1a" stroke="#1a1a1a" stroke-width="0.22">90 + 10</text>
<rect x="209.60" y="395" width="84.9" height="62.2" fill="#000"/>
<path d="M268.10,421.00 L268.07,422.79 L267.79,424.55 L267.24,426.27 L266.46,427.90 L265.47,429.42 L264.33,430.83 L263.06,432.13 L261.72,433.34 L260.30,434.49 L258.80,435.57 L257.19,436.56 L255.47,437.42 L253.63,438.08 L251.69,438.49 L249.70,438.62 L247.71,438.49 L245.76,438.14 L243.86,437.62 L242.00,436.99 L240.17,436.26 L238.37,435.42 L236.63,434.42 L235.03,433.22 L233.64,431.79 L232.57,430.14 L231.87,428.34 L231.54,426.46 L231.53,424.57 L231.74,422.75 L232.09,421.00 L232.50,419.33 L232.94,417.71 L233.43,416.11 L234.01,414.54 L234.73,413.01 L235.61,411.53 L236.66,410.14 L237.86,408.84 L239.17,407.60 L240.60,406.42 L242.13,405.28 L243.80,404.22 L245.63,403.29 L247.61,402.59 L249.70,402.20 L251.84,402.18 L253.94,402.57 L255.91,403.32 L257.71,404.37 L259.30,405.62 L260.71,406.98 L261.97,408.40 L263.12,409.83 L264.18,411.27 L265.16,412.74 L266.06,414.27 L266.83,415.85 L267.45,417.51 L267.89,419.23Z" fill="url(#gblue)" filter="url(#speck)"/>
<ellipse cx="251.2" cy="422.4" rx="14.0" ry="12.9" fill="url(#gcore)"/>
<circle cx="248.1" cy="419" r="1.3" fill="#ff2a9a" filter="url(#soft)"/>
<circle cx="250.1" cy="413.8" r="1.1" fill="#ff2a9a" filter="url(#soft)"/>
<circle cx="243" cy="424.5" r="0.9" fill="#ff2a9a" filter="url(#soft)"/>
<text x="252.25" y="467.50" font-size="8.25" text-anchor="middle" fill="#1a1a1a" stroke="#1a1a1a" stroke-width="0.22">80 + 20</text>
<rect x="302.50" y="395" width="84.9" height="62.2" fill="#000"/>
<path d="M362.68,421.40 L362.71,423.42 L362.62,425.46 L362.39,427.53 L361.96,429.59 L361.29,431.61 L360.33,433.50 L359.09,435.20 L357.62,436.67 L355.98,437.90 L354.24,438.93 L352.42,439.76 L350.56,440.42 L348.66,440.89 L346.73,441.11 L344.80,441.03 L342.91,440.63 L341.13,439.91 L339.48,438.94 L337.99,437.81 L336.61,436.61 L335.31,435.40 L334.04,434.22 L332.76,433.02 L331.49,431.77 L330.26,430.40 L329.10,428.89 L328.07,427.23 L327.19,425.41 L326.47,423.47 L325.95,421.40 L325.65,419.24 L325.63,417.03 L325.94,414.83 L326.65,412.73 L327.74,410.84 L329.17,409.23 L330.84,407.92 L332.61,406.88 L334.38,406.02 L336.09,405.23 L337.75,404.42 L339.40,403.58 L341.11,402.76 L342.91,402.10 L344.80,401.74 L346.72,401.77 L348.60,402.25 L350.34,403.11 L351.93,404.23 L353.37,405.48 L354.71,406.77 L356.02,408.04 L357.31,409.32 L358.58,410.66 L359.77,412.13 L360.80,413.76 L361.61,415.54 L362.17,417.44 L362.52,419.40Z" fill="url(#gblue)" filter="url(#speck)"/>
<ellipse cx="346.2" cy="422.9" rx="13.5" ry="14.5" fill="url(#gcore)"/>
<circle cx="340.6" cy="418.1" r="1.3" fill="#ff2a9a" filter="url(#soft)"/>
<circle cx="353.8" cy="419.7" r="1.2" fill="#ff2a9a" filter="url(#soft)"/>
<text x="345.15" y="467.50" font-size="8.25" text-anchor="middle" fill="#1a1a1a" stroke="#1a1a1a" stroke-width="0.22">70 + 30</text>
<rect x="395.40" y="395" width="84.9" height="62.2" fill="#000"/>
<path d="M454.74,421.80 L454.50,423.43 L453.95,424.98 L453.14,426.43 L452.20,427.76 L451.22,429.01 L450.24,430.23 L449.27,431.44 L448.24,432.66 L447.09,433.81 L445.77,434.83 L444.27,435.65 L442.65,436.22 L440.94,436.55 L439.22,436.70 L437.50,436.73 L435.78,436.68 L434.05,436.56 L432.31,436.34 L430.58,435.95 L428.90,435.35 L427.36,434.51 L425.99,433.44 L424.82,432.19 L423.83,430.84 L422.99,429.43 L422.26,427.98 L421.62,426.50 L421.08,424.98 L420.70,423.41 L420.52,421.80 L420.57,420.18 L420.84,418.58 L421.33,417.02 L422.00,415.52 L422.83,414.09 L423.81,412.75 L424.95,411.51 L426.27,410.45 L427.75,409.59 L429.36,408.97 L431.03,408.58 L432.70,408.36 L434.33,408.21 L435.91,408.05 L437.50,407.82 L439.15,407.53 L440.90,407.25 L442.74,407.11 L444.62,407.24 L446.42,407.73 L448.05,408.58 L449.43,409.74 L450.55,411.11 L451.46,412.57 L452.25,414.05 L452.98,415.53 L453.66,417.02 L454.24,418.56 L454.63,420.16Z" fill="url(#gblue)" filter="url(#speck)"/>
<ellipse cx="438.8" cy="423.0" rx="12.5" ry="11.4" fill="url(#gcore)"/>
<circle cx="435.0" cy="416.1" r="1.3" fill="#ff2a9a" filter="url(#soft)"/>
<circle cx="436.7" cy="423.2" r="1.2" fill="#ff2a9a" filter="url(#soft)"/>
<circle cx="438.6" cy="424.2" r="1.1" fill="#ff2a9a" filter="url(#soft)"/>
<text x="438.05" y="467.50" font-size="8.25" text-anchor="middle" fill="#1a1a1a" stroke="#1a1a1a" stroke-width="0.22">60 + 40</text>
<rect x="488.30" y="395" width="84.9" height="62.2" fill="#000"/>
<path d="M543.80,421.30 L543.68,422.76 L543.21,424.16 L542.44,425.45 L541.46,426.59 L540.41,427.61 L539.38,428.56 L538.42,429.51 L537.50,430.49 L536.55,431.51 L535.49,432.48 L534.28,433.31 L532.91,433.92 L531.43,434.25 L529.91,434.34 L528.40,434.24 L526.93,434.04 L525.48,433.80 L524.03,433.54 L522.57,433.22 L521.13,432.76 L519.77,432.10 L518.59,431.21 L517.62,430.13 L516.88,428.91 L516.31,427.65 L515.80,426.40 L515.28,425.18 L514.70,423.95 L514.08,422.67 L513.52,421.30 L513.16,419.84 L513.12,418.34 L513.46,416.88 L514.16,415.53 L515.17,414.35 L516.36,413.34 L517.64,412.48 L518.93,411.73 L520.22,411.06 L521.51,410.44 L522.83,409.91 L524.18,409.48 L525.56,409.17 L526.98,408.98 L528.40,408.90 L529.83,408.90 L531.28,408.98 L532.74,409.15 L534.20,409.45 L535.63,409.91 L536.98,410.56 L538.20,411.40 L539.27,412.39 L540.20,413.50 L541.03,414.67 L541.79,415.88 L542.50,417.13 L543.12,418.45 L543.59,419.85Z" fill="url(#gblue)" filter="url(#speck)"/>
<ellipse cx="529.6" cy="422.3" rx="10.8" ry="9.8" fill="url(#gcore)"/>
<circle cx="523.5" cy="420.3" r="1.2" fill="#ff2a9a" filter="url(#soft)"/>
<circle cx="529.0" cy="420.3" r="1.2" fill="#ff2a9a" filter="url(#soft)"/>
<circle cx="531.6" cy="423.2" r="1.2" fill="#ff2a9a" filter="url(#soft)"/>
<text x="530.95" y="467.50" font-size="8.25" text-anchor="middle" fill="#1a1a1a" stroke="#1a1a1a" stroke-width="0.22">50 + 50</text>
<rect x="23.80" y="474" width="84.9" height="61.900000000000006" fill="#000"/>
<path d="M81.92,501.70 L81.93,502.93 L81.65,504.12 L81.10,505.21 L80.36,506.16 L79.54,506.99 L78.74,507.75 L78.03,508.52 L77.40,509.38 L76.81,510.36 L76.14,511.40 L75.34,512.38 L74.36,513.17 L73.22,513.64 L72.01,513.74 L70.80,513.50 L69.66,513.02 L68.62,512.43 L67.65,511.84 L66.71,511.32 L65.76,510.85 L64.79,510.37 L63.83,509.81 L62.96,509.09 L62.25,508.21 L61.74,507.18 L61.44,506.07 L61.30,504.93 L61.27,503.82 L61.28,502.75 L61.29,501.70 L61.28,500.65 L61.27,499.58 L61.30,498.47 L61.39,497.31 L61.59,496.13 L61.92,494.94 L62.40,493.78 L63.05,492.68 L63.87,491.70 L64.85,490.90 L65.97,490.35 L67.19,490.07 L68.44,490.06 L69.66,490.30 L70.80,490.70 L71.86,491.17 L72.84,491.64 L73.78,492.09 L74.71,492.50 L75.63,492.94 L76.53,493.44 L77.39,494.03 L78.18,494.74 L78.89,495.54 L79.53,496.42 L80.14,497.35 L80.71,498.33 L81.23,499.38 L81.66,500.50Z" fill="url(#gblue)" filter="url(#speck)" opacity="0.8"/>
<circle cx="74.0" cy="506.3" r="0.87" fill="#1a1ad8"/>
<circle cx="70.0" cy="496.1" r="0.95" fill="#2424f0"/>
<circle cx="73.5" cy="510.5" r="1.20" fill="#1010b8"/>
<circle cx="73.7" cy="507.6" r="0.96" fill="#3a2ae8"/>
<circle cx="73.1" cy="497.2" r="1.25" fill="#2c2cff"/>
<circle cx="64.0" cy="502.8" r="0.93" fill="#3a2ae8"/>
<circle cx="70.6" cy="496.3" r="1.33" fill="#2424f0"/>
<circle cx="64.6" cy="504.0" r="0.83" fill="#1a1ad8"/>
<circle cx="70.5" cy="506.3" r="0.92" fill="#3a2ae8"/>
<circle cx="70.8" cy="504.4" r="1.16" fill="#2222e0"/>
<circle cx="63.3" cy="499.5" r="0.92" fill="#1a1ad8"/>
<circle cx="76.4" cy="497.5" r="1.35" fill="#2c2cff"/>
<circle cx="77.1" cy="502.1" r="1.14" fill="#3a2ae8"/>
<circle cx="76.9" cy="501.2" r="1.14" fill="#2222e0"/>
<circle cx="65.3" cy="497.2" r="0.71" fill="#2c2cff"/>
<circle cx="74.3" cy="494.3" r="0.79" fill="#1010b8"/>
<circle cx="71.9" cy="502.1" r="1.22" fill="#3a2ae8"/>
<circle cx="71.9" cy="509.4" r="0.86" fill="#1010b8"/>
<circle cx="68.2" cy="505.4" r="1.09" fill="#3a2ae8"/>
<circle cx="73.1" cy="510.2" r="1.03" fill="#1a1ad8"/>
<circle cx="69.1" cy="501.7" r="1.26" fill="#2c2cff"/>
<circle cx="74.9" cy="507.5" r="0.82" fill="#2424f0"/>
<circle cx="71.5" cy="500.5" r="1.1" fill="#ff2a9a" opacity="0.85"/>
<circle cx="73" cy="503.5" r="0.9" fill="#ff2a9a" opacity="0.85"/>
<text x="67.25" y="546.50" font-size="8.25" text-anchor="middle" fill="#1a1a1a" stroke="#1a1a1a" stroke-width="0.22">40 + 60</text>
<rect x="116.70" y="474" width="84.9" height="61.900000000000006" fill="#0a0a1c"/>
<ellipse cx="157.0" cy="505.0" rx="6.3" ry="5.8500000000000005" fill="#1010a0" opacity="0.5" filter="url(#soft)"/>
<circle cx="152.3" cy="504.8" r="0.92" fill="#2222e0"/>
<circle cx="156.1" cy="505.1" r="0.87" fill="#1a1ad8"/>
<circle cx="157.4" cy="500.0" r="0.77" fill="#2c2cff"/>
<circle cx="154.6" cy="507.8" r="0.96" fill="#1a1ad8"/>
<circle cx="158.4" cy="510.5" r="0.94" fill="#2222e0"/>
<circle cx="159.8" cy="510.4" r="0.80" fill="#3a2ae8"/>
<circle cx="152.1" cy="509.1" r="0.99" fill="#1a1ad8"/>
<circle cx="151.5" cy="506.7" r="0.93" fill="#2424f0"/>
<circle cx="162.8" cy="503.6" r="0.81" fill="#1010b8"/>
<circle cx="153.2" cy="509.9" r="0.81" fill="#2222e0"/>
<circle cx="157.5" cy="502.4" r="1.00" fill="#1010b8"/>
<circle cx="161.6" cy="500.7" r="1.15" fill="#1a1ad8"/>
<circle cx="157.4" cy="507.0" r="0.67" fill="#1a1ad8"/>
<circle cx="154.3" cy="502.5" r="0.61" fill="#2424f0"/>
<circle cx="154.5" cy="504.5" r="0.83" fill="#1010b8"/>
<circle cx="161.0" cy="505.9" r="1.01" fill="#2424f0"/>
<circle cx="153.8" cy="508.2" r="0.66" fill="#2c2cff"/>
<circle cx="163.2" cy="502.4" r="1.09" fill="#1010b8"/>
<circle cx="161.2" cy="507.7" r="1.06" fill="#3a2ae8"/>
<circle cx="156.5" cy="499.6" r="1.11" fill="#2c2cff"/>
<circle cx="161.0" cy="501.8" r="0.88" fill="#2424f0"/>
<circle cx="152.7" cy="504.6" r="1.17" fill="#2c2cff"/>
<circle cx="156.0" cy="511.3" r="1.16" fill="#1010b8"/>
<circle cx="151.4" cy="507.4" r="0.69" fill="#2222e0"/>
<circle cx="160.8" cy="501.5" r="0.91" fill="#2424f0"/>
<circle cx="158.0" cy="506.5" r="0.63" fill="#2c2cff"/>
<circle cx="157.6" cy="500.4" r="1.01" fill="#1a1ad8"/>
<circle cx="157.9" cy="506.5" r="0.84" fill="#2222e0"/>
<circle cx="153.0" cy="509.4" r="1.20" fill="#1a1ad8"/>
<circle cx="157.6" cy="508.7" r="1.05" fill="#2c2cff"/>
<circle cx="160.4" cy="507.5" r="0.89" fill="#2c2cff"/>
<circle cx="155.4" cy="505.7" r="0.82" fill="#1a1ad8"/>
<circle cx="157.5" cy="504.5" r="0.9" fill="#ff2a9a" opacity="0.85"/>
<text x="159.35" y="546.50" font-size="8.25" text-anchor="middle" fill="#1a1a1a" stroke="#1a1a1a" stroke-width="0.22">30 + 70</text>
<rect x="209.60" y="474" width="84.9" height="61.900000000000006" fill="#000"/>
<ellipse cx="251.0" cy="502.0" rx="5.8500000000000005" ry="4.95" fill="#1010a0" opacity="0.5" filter="url(#soft)"/>
<circle cx="253.8" cy="505.0" r="0.78" fill="#2222e0"/>
<circle cx="252.2" cy="499.9" r="1.01" fill="#1a1ad8"/>
<circle cx="254.4" cy="506.4" r="0.88" fill="#1010b8"/>
<circle cx="252.5" cy="499.9" r="1.11" fill="#2222e0"/>
<circle cx="252.3" cy="503.1" r="1.09" fill="#2c2cff"/>
<circle cx="251.3" cy="500.4" r="1.10" fill="#1a1ad8"/>
<circle cx="251.3" cy="506.6" r="0.92" fill="#2424f0"/>
<circle cx="245.9" cy="500.3" r="0.85" fill="#1010b8"/>
<circle cx="250.0" cy="505.3" r="0.75" fill="#3a2ae8"/>
<circle cx="249.7" cy="503.5" r="1.18" fill="#3a2ae8"/>
<circle cx="250.1" cy="504.4" r="0.81" fill="#2424f0"/>
<circle cx="248.8" cy="498.1" r="1.17" fill="#3a2ae8"/>
<circle cx="250.4" cy="502.8" r="0.97" fill="#3a2ae8"/>
<circle cx="253.9" cy="500.3" r="1.08" fill="#2222e0"/>
<circle cx="248.5" cy="498.0" r="1.12" fill="#3a2ae8"/>
<circle cx="250.1" cy="502.4" r="0.84" fill="#2222e0"/>
<circle cx="247.9" cy="504.8" r="0.65" fill="#2c2cff"/>
<circle cx="247.3" cy="503.9" r="0.81" fill="#1010b8"/>
<circle cx="256.0" cy="503.2" r="0.90" fill="#3a2ae8"/>
<circle cx="246.7" cy="506.1" r="1.00" fill="#1a1ad8"/>
<circle cx="254.5" cy="503.7" r="0.80" fill="#3a2ae8"/>
<circle cx="253.4" cy="506.0" r="0.68" fill="#2222e0"/>
<circle cx="254.3" cy="497.7" r="1.01" fill="#2c2cff"/>
<circle cx="252.5" cy="505.5" r="1.11" fill="#1a1ad8"/>
<circle cx="249.1" cy="503.3" r="1.02" fill="#1a1ad8"/>
<circle cx="249.4" cy="497.9" r="0.89" fill="#3a2ae8"/>
<circle cx="248.0" cy="498.8" r="0.71" fill="#2c2cff"/>
<circle cx="256.0" cy="499.5" r="0.95" fill="#1010b8"/>
<circle cx="251" cy="502" r="0.9" fill="#ff2a9a" opacity="0.85"/>
<text x="252.25" y="546.50" font-size="8.25" text-anchor="middle" fill="#1a1a1a" stroke="#1a1a1a" stroke-width="0.22">20 + 80</text>
<rect x="302.50" y="474" width="84.9" height="61.900000000000006" fill="#000"/>
<ellipse cx="346.2" cy="500.4" rx="4.05" ry="5.4" fill="#1010a0" opacity="0.5" filter="url(#soft)"/>
<circle cx="342.0" cy="500.5" r="0.66" fill="#2424f0"/>
<circle cx="350.5" cy="501.7" r="0.69" fill="#1a1ad8"/>
<circle cx="344.7" cy="505.5" r="0.81" fill="#2424f0"/>
<circle cx="344.2" cy="504.0" r="0.84" fill="#1a1ad8"/>
<circle cx="343.2" cy="496.3" r="1.01" fill="#1a1ad8"/>
<circle cx="347.1" cy="500.1" r="0.61" fill="#2424f0"/>
<circle cx="346.3" cy="496.9" r="0.96" fill="#2222e0"/>
<circle cx="342.2" cy="498.7" r="0.83" fill="#1010b8"/>
<circle cx="349.4" cy="498.7" r="0.82" fill="#2c2cff"/>
<circle cx="348.8" cy="504.3" r="0.91" fill="#1010b8"/>
<circle cx="342.1" cy="498.5" r="0.61" fill="#1a1ad8"/>
<circle cx="344.4" cy="501.3" r="0.91" fill="#1010b8"/>
<circle cx="344.5" cy="497.0" r="1.05" fill="#2222e0"/>
<circle cx="347.5" cy="502.6" r="0.65" fill="#2c2cff"/>
<circle cx="347.5" cy="501.3" r="0.89" fill="#1010b8"/>
<circle cx="348.3" cy="501.7" r="0.73" fill="#1010b8"/>
<circle cx="344.8" cy="497.0" r="0.88" fill="#1a1ad8"/>
<circle cx="344.4" cy="504.3" r="0.89" fill="#2222e0"/>
<circle cx="345.0" cy="505.5" r="0.85" fill="#2424f0"/>
<circle cx="343.5" cy="501.6" r="0.65" fill="#3a2ae8"/>
<circle cx="349.1" cy="501.7" r="0.96" fill="#2222e0"/>
<circle cx="347.8" cy="503.9" r="0.95" fill="#1010b8"/>
<circle cx="345.5" cy="500" r="0.8" fill="#ff2a9a" opacity="0.85"/>
<text x="345.15" y="546.50" font-size="8.25" text-anchor="middle" fill="#1a1a1a" stroke="#1a1a1a" stroke-width="0.22">10 + 90</text>
<rect x="395.40" y="474" width="84.9" height="61.900000000000006" fill="#000"/>
<ellipse cx="435.4" cy="502.0" rx="4.05" ry="5.4" fill="#1010a0" opacity="0.5" filter="url(#soft)"/>
<circle cx="434.9" cy="496.3" r="0.84" fill="#2424f0"/>
<circle cx="431.8" cy="501.3" r="0.83" fill="#1a1ad8"/>
<circle cx="437.8" cy="497.9" r="0.90" fill="#2c2cff"/>
<circle cx="431.6" cy="500.5" r="0.86" fill="#2c2cff"/>
<circle cx="432.0" cy="505.4" r="0.90" fill="#2c2cff"/>
<circle cx="438.5" cy="506.1" r="0.86" fill="#2424f0"/>
<circle cx="436.3" cy="502.4" r="0.94" fill="#2222e0"/>
<circle cx="434.9" cy="501.9" r="1.05" fill="#1a1ad8"/>
<circle cx="437.9" cy="505.8" r="0.66" fill="#2c2cff"/>
<circle cx="435.0" cy="497.6" r="0.88" fill="#1010b8"/>
<circle cx="437.8" cy="506.2" r="0.95" fill="#3a2ae8"/>
<circle cx="438.9" cy="502.7" r="0.67" fill="#3a2ae8"/>
<circle cx="432.0" cy="500.6" r="0.68" fill="#1a1ad8"/>
<circle cx="437.1" cy="507.2" r="0.75" fill="#2222e0"/>
<circle cx="439.5" cy="500.5" r="0.81" fill="#1010b8"/>
<circle cx="432.0" cy="500.3" r="0.61" fill="#3a2ae8"/>
<circle cx="435.6" cy="501.4" r="0.90" fill="#1a1ad8"/>
<circle cx="438.6" cy="499.9" r="0.82" fill="#1a1ad8"/>
<circle cx="433.7" cy="499.1" r="0.91" fill="#3a2ae8"/>
<circle cx="433.2" cy="505.9" r="1.01" fill="#2c2cff"/>
<circle cx="438.6" cy="505.2" r="0.90" fill="#2c2cff"/>
<circle cx="438.3" cy="498.8" r="0.90" fill="#2c2cff"/>
<text x="438.05" y="546.50" font-size="8.25" text-anchor="middle" fill="#1a1a1a" stroke="#1a1a1a" stroke-width="0.22">0 + 100</text>
<line x1="444.9" y1="531" x2="476.6" y2="531" stroke="#fff" stroke-width="1.9"/>
<text x="462.30" y="527.10" font-size="7.3" text-anchor="middle" fill="#fff" stroke="#fff" stroke-width="0.22">100 µm</text>
<text x="496.00" y="497.10" font-size="8.8" text-anchor="start" fill="#1a1a1a" stroke="#1a1a1a" stroke-width="0.22">Spheroid starting</text>
<text x="496.00" y="507.10" font-size="8.8" text-anchor="start" fill="#1a1a1a" stroke="#1a1a1a" stroke-width="0.22">cell numbers:</text>
<text x="496.00" y="518.80" font-size="8.8" text-anchor="start" fill="#1a1a1a" stroke="#1a1a1a" stroke-width="0.22">HepG2 + HSC</text>
<text x="428.00" y="389.60" font-size="8.35" text-anchor="start" fill="#2f2fb4" stroke="#2f2fb4" stroke-width="0.22">DAPI: cell nuclei</text>
<text x="496.90" y="389.60" font-size="8.35" text-anchor="start" fill="#de1f2a" stroke="#de1f2a" stroke-width="0.22">CY5: type I collagen</text>
<text x="0.90" y="576.50" font-size="11" text-anchor="start" fill="#000" font-weight="bold">e</text>
<rect x="49" y="581.2" width="226.7" height="120.5" fill="none" stroke="#5a5a5a" stroke-width="1"/>
<line x1="46.5" y1="696.10" x2="49" y2="696.10" stroke="#5a5a5a" stroke-width="0.9"/>
<text x="44.30" y="698.73" font-size="7.3" text-anchor="end" fill="#1a1a1a" stroke="#1a1a1a" stroke-width="0.22">0</text>
<line x1="46.5" y1="673.10" x2="49" y2="673.10" stroke="#5a5a5a" stroke-width="0.9"/>
<text x="44.30" y="675.73" font-size="7.3" text-anchor="end" fill="#1a1a1a" stroke="#1a1a1a" stroke-width="0.22">200</text>
<line x1="46.5" y1="650.10" x2="49" y2="650.10" stroke="#5a5a5a" stroke-width="0.9"/>
<text x="44.30" y="652.73" font-size="7.3" text-anchor="end" fill="#1a1a1a" stroke="#1a1a1a" stroke-width="0.22">400</text>
<line x1="46.5" y1="627.10" x2="49" y2="627.10" stroke="#5a5a5a" stroke-width="0.9"/>
<text x="44.30" y="629.73" font-size="7.3" text-anchor="end" fill="#1a1a1a" stroke="#1a1a1a" stroke-width="0.22">600</text>
<line x1="46.5" y1="604.10" x2="49" y2="604.10" stroke="#5a5a5a" stroke-width="0.9"/>
<text x="44.30" y="606.73" font-size="7.3" text-anchor="end" fill="#1a1a1a" stroke="#1a1a1a" stroke-width="0.22">800</text>
<line x1="46.5" y1="581.10" x2="49" y2="581.10" stroke="#5a5a5a" stroke-width="0.9"/>
<text x="44.30" y="583.73" font-size="7.3" text-anchor="end" fill="#1a1a1a" stroke="#1a1a1a" stroke-width="0.22">1000</text>
<line x1="69.20" y1="701.7" x2="69.20" y2="704.2" stroke="#5a5a5a" stroke-width="0.9"/>
<text x="69.20" y="713.80" font-size="7.2" text-anchor="middle" fill="#1a1a1a" stroke="#1a1a1a" stroke-width="0.22">100</text>
<text x="69.20" y="722.60" font-size="7.2" text-anchor="middle" fill="#1a1a1a" stroke="#1a1a1a" stroke-width="0.22">0</text>
<line x1="87.93" y1="701.7" x2="87.93" y2="704.2" stroke="#5a5a5a" stroke-width="0.9"/>
<text x="87.93" y="713.80" font-size="7.2" text-anchor="middle" fill="#1a1a1a" stroke="#1a1a1a" stroke-width="0.22">90</text>
<text x="87.93" y="722.60" font-size="7.2" text-anchor="middle" fill="#1a1a1a" stroke="#1a1a1a" stroke-width="0.22">10</text>
<line x1="106.66" y1="701.7" x2="106.66" y2="704.2" stroke="#5a5a5a" stroke-width="0.9"/>
<text x="106.66" y="713.80" font-size="7.2" text-anchor="middle" fill="#1a1a1a" stroke="#1a1a1a" stroke-width="0.22">80</text>
<text x="106.66" y="722.60" font-size="7.2" text-anchor="middle" fill="#1a1a1a" stroke="#1a1a1a" stroke-width="0.22">20</text>
<line x1="125.39" y1="701.7" x2="125.39" y2="704.2" stroke="#5a5a5a" stroke-width="0.9"/>
<text x="125.39" y="713.80" font-size="7.2" text-anchor="middle" fill="#1a1a1a" stroke="#1a1a1a" stroke-width="0.22">70</text>
<text x="125.39" y="722.60" font-size="7.2" text-anchor="middle" fill="#1a1a1a" stroke="#1a1a1a" stroke-width="0.22">30</text>
<line x1="144.12" y1="701.7" x2="144.12" y2="704.2" stroke="#5a5a5a" stroke-width="0.9"/>
<text x="144.12" y="713.80" font-size="7.2" text-anchor="middle" fill="#1a1a1a" stroke="#1a1a1a" stroke-width="0.22">60</text>
<text x="144.12" y="722.60" font-size="7.2" text-anchor="middle" fill="#1a1a1a" stroke="#1a1a1a" stroke-width="0.22">40</text>
<line x1="162.85" y1="701.7" x2="162.85" y2="704.2" stroke="#5a5a5a" stroke-width="0.9"/>
<text x="162.85" y="713.80" font-size="7.2" text-anchor="middle" fill="#1a1a1a" stroke="#1a1a1a" stroke-width="0.22">50</text>
<text x="162.85" y="722.60" font-size="7.2" text-anchor="middle" fill="#1a1a1a" stroke="#1a1a1a" stroke-width="0.22">50</text>
<line x1="181.58" y1="701.7" x2="181.58" y2="704.2" stroke="#5a5a5a" stroke-width="0.9"/>
<text x="181.58" y="713.80" font-size="7.2" text-anchor="middle" fill="#1a1a1a" stroke="#1a1a1a" stroke-width="0.22">40</text>
<text x="181.58" y="722.60" font-size="7.2" text-anchor="middle" fill="#1a1a1a" stroke="#1a1a1a" stroke-width="0.22">60</text>
<line x1="200.31" y1="701.7" x2="200.31" y2="704.2" stroke="#5a5a5a" stroke-width="0.9"/>
<text x="200.31" y="713.80" font-size="7.2" text-anchor="middle" fill="#1a1a1a" stroke="#1a1a1a" stroke-width="0.22">30</text>
<text x="200.31" y="722.60" font-size="7.2" text-anchor="middle" fill="#1a1a1a" stroke="#1a1a1a" stroke-width="0.22">70</text>
<line x1="219.04" y1="701.7" x2="219.04" y2="704.2" stroke="#5a5a5a" stroke-width="0.9"/>
<text x="219.04" y="713.80" font-size="7.2" text-anchor="middle" fill="#1a1a1a" stroke="#1a1a1a" stroke-width="0.22">20</text>
<text x="219.04" y="722.60" font-size="7.2" text-anchor="middle" fill="#1a1a1a" stroke="#1a1a1a" stroke-width="0.22">80</text>
<line x1="237.77" y1="701.7" x2="237.77" y2="704.2" stroke="#5a5a5a" stroke-width="0.9"/>
<text x="237.77" y="713.80" font-size="7.2" text-anchor="middle" fill="#1a1a1a" stroke="#1a1a1a" stroke-width="0.22">10</text>
<text x="237.77" y="722.60" font-size="7.2" text-anchor="middle" fill="#1a1a1a" stroke="#1a1a1a" stroke-width="0.22">90</text>
<line x1="256.50" y1="701.7" x2="256.50" y2="704.2" stroke="#5a5a5a" stroke-width="0.9"/>
<text x="256.50" y="713.80" font-size="7.2" text-anchor="middle" fill="#1a1a1a" stroke="#1a1a1a" stroke-width="0.22">0</text>
<text x="256.50" y="722.60" font-size="7.2" text-anchor="middle" fill="#1a1a1a" stroke="#1a1a1a" stroke-width="0.22">100</text>
<text x="54.80" y="713.80" font-size="7.2" text-anchor="end" fill="#1a1a1a" stroke="#1a1a1a" stroke-width="0.22">HepG2</text>
<text x="54.80" y="722.60" font-size="7.2" text-anchor="end" fill="#1a1a1a" stroke="#1a1a1a" stroke-width="0.22">HSC</text>
<text x="156.00" y="735.00" font-size="8.4" text-anchor="middle" fill="#1a1a1a" stroke="#1a1a1a" stroke-width="0.22">Spheroid composition</text>
<text x="0" y="0" font-size="8.7" text-anchor="middle" fill="#1a1a1a" stroke="#1a1a1a" stroke-width="0.22" transform="translate(23.60,641.20) rotate(-90)">Type I collagen area (µm²)</text>
<line x1="62.6" y1="696.1" x2="76.9" y2="696.1" stroke="#777" stroke-width="0.9"/>
<line x1="248.9" y1="696.4" x2="263.8" y2="696.4" stroke="#777" stroke-width="0.9"/>
<path d="M88.55,670.10 L88.65,670.51 L89.00,670.92 L89.32,671.33 L89.64,671.73 L89.94,672.14 L90.23,672.55 L90.51,672.96 L90.76,673.37 L91.00,673.77 L91.23,674.18 L91.43,674.59 L91.61,675.00 L91.77,675.41 L91.90,675.82 L91.98,676.23 L91.83,676.63 L91.55,677.04 L91.29,677.45 L91.04,677.86 L90.80,678.27 L90.57,678.68 L90.36,679.08 L90.16,679.49 L89.97,679.90 L89.80,680.31 L89.63,680.72 L89.48,681.12 L89.34,681.53 L89.21,681.94 L89.09,682.35 L88.98,682.76 L88.88,683.17 L88.79,683.58 L88.71,683.98 L88.64,684.39 L88.58,684.80 L88.55,685.21 L88.55,685.62 L88.55,686.03 L88.55,686.43 L88.55,686.84 L88.55,687.25 L88.55,687.66 L88.55,688.07 L88.55,688.48 L88.55,688.88 L88.55,689.29 L88.55,689.70 L88.05,689.70 L88.05,689.29 L88.05,688.88 L88.05,688.48 L88.05,688.07 L88.05,687.66 L88.05,687.25 L88.05,686.84 L88.05,686.43 L88.05,686.03 L88.05,685.62 L88.05,685.21 L88.02,684.80 L87.96,684.39 L87.89,683.98 L87.81,683.58 L87.72,683.17 L87.62,682.76 L87.51,682.35 L87.39,681.94 L87.26,681.53 L87.12,681.12 L86.97,680.72 L86.80,680.31 L86.63,679.90 L86.44,679.49 L86.24,679.08 L86.03,678.68 L85.80,678.27 L85.56,677.86 L85.31,677.45 L85.05,677.04 L84.77,676.63 L84.62,676.23 L84.70,675.82 L84.83,675.41 L84.99,675.00 L85.17,674.59 L85.37,674.18 L85.60,673.77 L85.84,673.37 L86.09,672.96 L86.37,672.55 L86.66,672.14 L86.96,671.73 L87.28,671.33 L87.60,670.92 L87.95,670.51 L88.05,670.10Z" fill="#f5a273" stroke="#2a2a2a" stroke-width="0.6" stroke-linejoin="round"/>
<line x1="88.30" y1="673.04" x2="88.30" y2="686.76" stroke="#222" stroke-width="0.5"/>
<rect x="87.60" y="673.85" width="1.4" height="5.10" fill="#222"/>
<circle cx="88.30" cy="676.40" r="0.7" fill="#fff"/>
<path d="M107.15,642.00 L107.15,642.45 L107.15,642.90 L107.15,643.35 L107.15,643.80 L107.15,644.25 L107.15,644.70 L107.15,645.15 L107.15,645.60 L107.18,646.05 L107.24,646.50 L107.32,646.95 L107.40,647.40 L107.48,647.85 L107.58,648.30 L107.68,648.75 L107.78,649.20 L107.90,649.65 L108.02,650.10 L108.14,650.55 L108.28,651.00 L108.42,651.45 L108.57,651.90 L108.72,652.35 L108.88,652.80 L109.05,653.25 L109.23,653.70 L109.41,654.15 L109.60,654.60 L109.80,655.05 L110.00,655.50 L109.94,655.95 L109.83,656.40 L109.70,656.85 L109.55,657.30 L109.39,657.75 L109.22,658.20 L109.04,658.65 L108.85,659.10 L108.65,659.55 L108.45,660.00 L108.24,660.45 L108.04,660.90 L107.83,661.35 L107.62,661.80 L107.42,662.25 L107.22,662.70 L107.15,663.15 L107.15,663.60 L106.65,663.60 L106.65,663.15 L106.58,662.70 L106.38,662.25 L106.18,661.80 L105.97,661.35 L105.76,660.90 L105.56,660.45 L105.35,660.00 L105.15,659.55 L104.95,659.10 L104.76,658.65 L104.58,658.20 L104.41,657.75 L104.25,657.30 L104.10,656.85 L103.97,656.40 L103.86,655.95 L103.80,655.50 L104.00,655.05 L104.20,654.60 L104.39,654.15 L104.57,653.70 L104.75,653.25 L104.92,652.80 L105.08,652.35 L105.23,651.90 L105.38,651.45 L105.52,651.00 L105.66,650.55 L105.78,650.10 L105.90,649.65 L106.02,649.20 L106.12,648.75 L106.22,648.30 L106.32,647.85 L106.40,647.40 L106.48,646.95 L106.56,646.50 L106.62,646.05 L106.65,645.60 L106.65,645.15 L106.65,644.70 L106.65,644.25 L106.65,643.80 L106.65,643.35 L106.65,642.90 L106.65,642.45 L106.65,642.00Z" fill="#3dba80" stroke="#2a2a2a" stroke-width="0.6" stroke-linejoin="round"/>
<line x1="106.90" y1="645.24" x2="106.90" y2="660.36" stroke="#222" stroke-width="0.5"/>
<rect x="106.20" y="652.69" width="1.4" height="5.62" fill="#222"/>
<circle cx="106.90" cy="655.50" r="0.7" fill="#fff"/>
<path d="M125.65,631.00 L125.65,631.42 L125.65,631.83 L125.65,632.25 L125.72,632.67 L125.84,633.08 L125.96,633.50 L126.09,633.92 L126.23,634.33 L126.37,634.75 L126.51,635.17 L126.66,635.58 L126.81,636.00 L126.96,636.42 L127.12,636.83 L127.27,637.25 L127.42,637.67 L127.57,638.08 L127.72,638.50 L127.87,638.92 L128.01,639.33 L128.14,639.75 L128.25,640.17 L128.27,640.58 L128.17,641.00 L128.06,641.42 L127.94,641.83 L127.81,642.25 L127.68,642.67 L127.55,643.08 L127.42,643.50 L127.28,643.92 L127.14,644.33 L127.01,644.75 L126.87,645.17 L126.74,645.58 L126.61,646.00 L126.48,646.42 L126.35,646.83 L126.23,647.25 L126.11,647.67 L125.99,648.08 L125.88,648.50 L125.77,648.92 L125.67,649.33 L125.65,649.75 L125.65,650.17 L125.65,650.58 L125.65,651.00 L125.15,651.00 L125.15,650.58 L125.15,650.17 L125.15,649.75 L125.13,649.33 L125.03,648.92 L124.92,648.50 L124.81,648.08 L124.69,647.67 L124.57,647.25 L124.45,646.83 L124.32,646.42 L124.19,646.00 L124.06,645.58 L123.93,645.17 L123.79,644.75 L123.66,644.33 L123.52,643.92 L123.38,643.50 L123.25,643.08 L123.12,642.67 L122.99,642.25 L122.86,641.83 L122.74,641.42 L122.63,641.00 L122.53,640.58 L122.55,640.17 L122.66,639.75 L122.79,639.33 L122.93,638.92 L123.08,638.50 L123.23,638.08 L123.38,637.67 L123.53,637.25 L123.68,636.83 L123.84,636.42 L123.99,636.00 L124.14,635.58 L124.29,635.17 L124.43,634.75 L124.57,634.33 L124.71,633.92 L124.84,633.50 L124.96,633.08 L125.08,632.67 L125.15,632.25 L125.15,631.83 L125.15,631.42 L125.15,631.00Z" fill="#3cc1a6" stroke="#2a2a2a" stroke-width="0.6" stroke-linejoin="round"/>
<line x1="125.40" y1="634.00" x2="125.40" y2="648.00" stroke="#222" stroke-width="0.5"/>
<rect x="124.70" y="637.80" width="1.4" height="5.20" fill="#222"/>
<circle cx="125.40" cy="640.40" r="0.7" fill="#fff"/>
<path d="M144.45,615.00 L144.45,615.54 L144.45,616.07 L144.45,616.61 L144.45,617.14 L144.45,617.68 L144.45,618.21 L144.45,618.75 L144.47,619.28 L144.53,619.82 L144.60,620.35 L144.68,620.89 L144.76,621.42 L144.85,621.96 L144.94,622.50 L145.04,623.03 L145.14,623.57 L145.25,624.10 L145.36,624.64 L145.48,625.17 L145.61,625.71 L145.74,626.24 L145.87,626.78 L146.01,627.31 L146.15,627.85 L146.30,628.39 L146.46,628.92 L146.62,629.46 L146.78,629.99 L146.95,630.53 L147.10,631.06 L147.01,631.60 L146.89,632.13 L146.75,632.67 L146.60,633.20 L146.44,633.74 L146.27,634.28 L146.10,634.81 L145.92,635.35 L145.74,635.88 L145.56,636.42 L145.37,636.95 L145.19,637.49 L145.00,638.02 L144.82,638.56 L144.64,639.09 L144.48,639.63 L144.45,640.16 L144.45,640.70 L143.95,640.70 L143.95,640.16 L143.92,639.63 L143.76,639.09 L143.58,638.56 L143.40,638.02 L143.21,637.49 L143.03,636.95 L142.84,636.42 L142.66,635.88 L142.48,635.35 L142.30,634.81 L142.13,634.28 L141.96,633.74 L141.80,633.20 L141.65,632.67 L141.51,632.13 L141.39,631.60 L141.30,631.06 L141.45,630.53 L141.62,629.99 L141.78,629.46 L141.94,628.92 L142.10,628.39 L142.25,627.85 L142.39,627.31 L142.53,626.78 L142.66,626.24 L142.79,625.71 L142.92,625.17 L143.04,624.64 L143.15,624.10 L143.26,623.57 L143.36,623.03 L143.46,622.50 L143.55,621.96 L143.64,621.42 L143.72,620.89 L143.80,620.35 L143.87,619.82 L143.93,619.28 L143.95,618.75 L143.95,618.21 L143.95,617.68 L143.95,617.14 L143.95,616.61 L143.95,616.07 L143.95,615.54 L143.95,615.00Z" fill="#3fbcc7" stroke="#2a2a2a" stroke-width="0.6" stroke-linejoin="round"/>
<line x1="144.20" y1="618.86" x2="144.20" y2="636.85" stroke="#222" stroke-width="0.5"/>
<rect x="143.50" y="627.66" width="1.4" height="6.68" fill="#222"/>
<circle cx="144.20" cy="631.00" r="0.7" fill="#fff"/>
<path d="M163.25,601.00 L163.25,601.44 L163.25,601.87 L163.38,602.31 L163.55,602.74 L163.73,603.18 L163.91,603.61 L164.10,604.05 L164.29,604.48 L164.49,604.92 L164.68,605.35 L164.88,605.79 L165.07,606.23 L165.26,606.66 L165.45,607.10 L165.63,607.53 L165.81,607.97 L165.97,608.40 L166.12,608.84 L166.26,609.27 L166.37,609.71 L166.35,610.14 L166.23,610.58 L166.09,611.01 L165.95,611.45 L165.79,611.89 L165.64,612.32 L165.48,612.76 L165.32,613.19 L165.16,613.63 L165.01,614.06 L164.85,614.50 L164.70,614.93 L164.54,615.37 L164.40,615.80 L164.25,616.24 L164.11,616.67 L163.97,617.11 L163.84,617.55 L163.72,617.98 L163.60,618.42 L163.49,618.85 L163.38,619.29 L163.29,619.72 L163.25,620.16 L163.25,620.59 L163.25,621.03 L163.25,621.46 L163.25,621.90 L162.75,621.90 L162.75,621.46 L162.75,621.03 L162.75,620.59 L162.75,620.16 L162.71,619.72 L162.62,619.29 L162.51,618.85 L162.40,618.42 L162.28,617.98 L162.16,617.55 L162.03,617.11 L161.89,616.67 L161.75,616.24 L161.60,615.80 L161.46,615.37 L161.30,614.93 L161.15,614.50 L160.99,614.06 L160.84,613.63 L160.68,613.19 L160.52,612.76 L160.36,612.32 L160.21,611.89 L160.05,611.45 L159.91,611.01 L159.77,610.58 L159.65,610.14 L159.63,609.71 L159.74,609.27 L159.88,608.84 L160.03,608.40 L160.19,607.97 L160.37,607.53 L160.55,607.10 L160.74,606.66 L160.93,606.23 L161.12,605.79 L161.32,605.35 L161.51,604.92 L161.71,604.48 L161.90,604.05 L162.09,603.61 L162.27,603.18 L162.45,602.74 L162.62,602.31 L162.75,601.87 L162.75,601.44 L162.75,601.00Z" fill="#3cb5da" stroke="#2a2a2a" stroke-width="0.6" stroke-linejoin="round"/>
<line x1="163.00" y1="604.13" x2="163.00" y2="618.76" stroke="#222" stroke-width="0.5"/>
<rect x="162.30" y="607.18" width="1.4" height="5.43" fill="#222"/>
<circle cx="163.00" cy="609.90" r="0.7" fill="#fff"/>
<path d="M182.05,635.70 L182.05,636.18 L182.05,636.65 L182.05,637.13 L182.05,637.61 L182.05,638.09 L182.09,638.56 L182.17,639.04 L182.25,639.52 L182.34,639.99 L182.44,640.47 L182.54,640.95 L182.65,641.43 L182.76,641.90 L182.88,642.38 L183.00,642.86 L183.13,643.33 L183.25,643.81 L183.38,644.29 L183.52,644.76 L183.65,645.24 L183.79,645.72 L183.93,646.20 L184.07,646.67 L184.21,647.15 L184.35,647.63 L184.49,648.10 L184.62,648.58 L184.68,649.06 L184.59,649.54 L184.48,650.01 L184.35,650.49 L184.21,650.97 L184.06,651.44 L183.90,651.92 L183.74,652.40 L183.58,652.88 L183.41,653.35 L183.25,653.83 L183.08,654.31 L182.91,654.78 L182.75,655.26 L182.58,655.74 L182.43,656.21 L182.27,656.69 L182.13,657.17 L182.05,657.65 L182.05,658.12 L182.05,658.60 L181.55,658.60 L181.55,658.12 L181.55,657.65 L181.47,657.17 L181.33,656.69 L181.17,656.21 L181.02,655.74 L180.85,655.26 L180.69,654.78 L180.52,654.31 L180.35,653.83 L180.19,653.35 L180.02,652.88 L179.86,652.40 L179.70,651.92 L179.54,651.44 L179.39,650.97 L179.25,650.49 L179.12,650.01 L179.01,649.54 L178.92,649.06 L178.98,648.58 L179.11,648.10 L179.25,647.63 L179.39,647.15 L179.53,646.67 L179.67,646.20 L179.81,645.72 L179.95,645.24 L180.08,644.76 L180.22,644.29 L180.35,643.81 L180.47,643.33 L180.60,642.86 L180.72,642.38 L180.84,641.90 L180.95,641.43 L181.06,640.95 L181.16,640.47 L181.26,639.99 L181.35,639.52 L181.43,639.04 L181.51,638.56 L181.55,638.09 L181.55,637.61 L181.55,637.13 L181.55,636.65 L181.55,636.18 L181.55,635.70Z" fill="#57a9f2" stroke="#2a2a2a" stroke-width="0.6" stroke-linejoin="round"/>
<line x1="181.80" y1="639.13" x2="181.80" y2="655.17" stroke="#222" stroke-width="0.5"/>
<rect x="181.10" y="645.92" width="1.4" height="5.95" fill="#222"/>
<circle cx="181.80" cy="648.90" r="0.7" fill="#fff"/>
<path d="M200.55,663.10 L200.55,663.60 L200.55,664.10 L200.55,664.60 L200.55,665.10 L200.59,665.60 L200.69,666.10 L200.79,666.60 L200.91,667.10 L201.03,667.60 L201.16,668.10 L201.30,668.60 L201.44,669.10 L201.59,669.60 L201.75,670.10 L201.91,670.60 L202.07,671.10 L202.24,671.60 L202.41,672.10 L202.58,672.60 L202.76,673.10 L202.93,673.60 L203.11,674.10 L203.28,674.60 L203.44,675.10 L203.41,675.60 L203.24,676.10 L203.06,676.60 L202.88,677.10 L202.70,677.60 L202.51,678.10 L202.34,678.60 L202.16,679.10 L201.99,679.60 L201.82,680.10 L201.66,680.60 L201.50,681.10 L201.35,681.60 L201.21,682.10 L201.07,682.60 L200.94,683.10 L200.82,683.60 L200.71,684.10 L200.61,684.60 L200.55,685.10 L200.55,685.60 L200.55,686.10 L200.55,686.60 L200.55,687.10 L200.05,687.10 L200.05,686.60 L200.05,686.10 L200.05,685.60 L200.05,685.10 L199.99,684.60 L199.89,684.10 L199.78,683.60 L199.66,683.10 L199.53,682.60 L199.39,682.10 L199.25,681.60 L199.10,681.10 L198.94,680.60 L198.78,680.10 L198.61,679.60 L198.44,679.10 L198.26,678.60 L198.09,678.10 L197.90,677.60 L197.72,677.10 L197.54,676.60 L197.36,676.10 L197.19,675.60 L197.16,675.10 L197.32,674.60 L197.49,674.10 L197.67,673.60 L197.84,673.10 L198.02,672.60 L198.19,672.10 L198.36,671.60 L198.53,671.10 L198.69,670.60 L198.85,670.10 L199.01,669.60 L199.16,669.10 L199.30,668.60 L199.44,668.10 L199.57,667.60 L199.69,667.10 L199.81,666.60 L199.91,666.10 L200.01,665.60 L200.05,665.10 L200.05,664.60 L200.05,664.10 L200.05,663.60 L200.05,663.10Z" fill="#a7a7f4" stroke="#2a2a2a" stroke-width="0.6" stroke-linejoin="round"/>
<line x1="200.30" y1="666.70" x2="200.30" y2="683.50" stroke="#222" stroke-width="0.5"/>
<rect x="199.60" y="672.18" width="1.4" height="6.24" fill="#222"/>
<circle cx="200.30" cy="675.30" r="0.7" fill="#fff"/>
<path d="M219.25,669.50 L219.25,670.05 L219.25,670.60 L219.25,671.15 L219.28,671.70 L219.39,672.25 L219.51,672.80 L219.64,673.35 L219.78,673.90 L219.92,674.45 L220.07,675.00 L220.23,675.55 L220.39,676.10 L220.56,676.65 L220.73,677.20 L220.91,677.75 L221.09,678.30 L221.27,678.85 L221.45,679.40 L221.62,679.95 L221.79,680.50 L221.87,681.05 L221.74,681.60 L221.60,682.15 L221.46,682.70 L221.32,683.25 L221.18,683.80 L221.04,684.35 L220.89,684.90 L220.76,685.45 L220.62,686.00 L220.49,686.55 L220.36,687.10 L220.23,687.65 L220.11,688.20 L219.99,688.75 L219.87,689.30 L219.76,689.85 L219.66,690.40 L219.56,690.95 L219.46,691.50 L219.37,692.05 L219.29,692.60 L219.25,693.15 L219.25,693.70 L219.25,694.25 L219.25,694.80 L219.25,695.35 L219.25,695.90 L218.75,695.90 L218.75,695.35 L218.75,694.80 L218.75,694.25 L218.75,693.70 L218.75,693.15 L218.71,692.60 L218.63,692.05 L218.54,691.50 L218.44,690.95 L218.34,690.40 L218.24,689.85 L218.13,689.30 L218.01,688.75 L217.89,688.20 L217.77,687.65 L217.64,687.10 L217.51,686.55 L217.38,686.00 L217.24,685.45 L217.11,684.90 L216.96,684.35 L216.82,683.80 L216.68,683.25 L216.54,682.70 L216.40,682.15 L216.26,681.60 L216.13,681.05 L216.21,680.50 L216.38,679.95 L216.55,679.40 L216.73,678.85 L216.91,678.30 L217.09,677.75 L217.27,677.20 L217.44,676.65 L217.61,676.10 L217.77,675.55 L217.93,675.00 L218.08,674.45 L218.22,673.90 L218.36,673.35 L218.49,672.80 L218.61,672.25 L218.72,671.70 L218.75,671.15 L218.75,670.60 L218.75,670.05 L218.75,669.50Z" fill="#d8a1f4" stroke="#2a2a2a" stroke-width="0.6" stroke-linejoin="round"/>
<line x1="219.00" y1="673.46" x2="219.00" y2="691.94" stroke="#222" stroke-width="0.5"/>
<rect x="218.30" y="677.47" width="1.4" height="6.86" fill="#222"/>
<circle cx="219.00" cy="680.90" r="0.7" fill="#fff"/>
<path d="M238.05,682.30 L238.05,682.60 L238.19,682.89 L238.39,683.19 L238.59,683.48 L238.78,683.78 L238.97,684.07 L239.16,684.37 L239.35,684.67 L239.54,684.96 L239.73,685.26 L239.92,685.55 L240.10,685.85 L240.29,686.15 L240.47,686.44 L240.65,686.74 L240.83,687.03 L241.00,687.33 L241.17,687.62 L241.34,687.92 L241.51,688.22 L241.67,688.51 L241.82,688.81 L241.96,689.10 L241.92,689.40 L241.78,689.70 L241.64,689.99 L241.48,690.29 L241.33,690.58 L241.17,690.88 L241.00,691.17 L240.84,691.47 L240.67,691.77 L240.50,692.06 L240.33,692.36 L240.16,692.65 L239.98,692.95 L239.81,693.25 L239.63,693.54 L239.45,693.84 L239.27,694.13 L239.09,694.43 L238.91,694.73 L238.73,695.02 L238.54,695.32 L238.36,695.61 L238.17,695.91 L238.05,696.20 L238.05,696.50 L237.55,696.50 L237.55,696.20 L237.43,695.91 L237.24,695.61 L237.06,695.32 L236.87,695.02 L236.69,694.73 L236.51,694.43 L236.33,694.13 L236.15,693.84 L235.97,693.54 L235.79,693.25 L235.62,692.95 L235.44,692.65 L235.27,692.36 L235.10,692.06 L234.93,691.77 L234.76,691.47 L234.60,691.17 L234.43,690.88 L234.27,690.58 L234.12,690.29 L233.96,689.99 L233.82,689.70 L233.68,689.40 L233.64,689.10 L233.78,688.81 L233.93,688.51 L234.09,688.22 L234.26,687.92 L234.43,687.62 L234.60,687.33 L234.77,687.03 L234.95,686.74 L235.13,686.44 L235.31,686.15 L235.50,685.85 L235.68,685.55 L235.87,685.26 L236.06,684.96 L236.25,684.67 L236.44,684.37 L236.63,684.07 L236.82,683.78 L237.01,683.48 L237.21,683.19 L237.41,682.89 L237.55,682.60 L237.55,682.30Z" fill="#f38fe9" stroke="#2a2a2a" stroke-width="0.6" stroke-linejoin="round"/>
<line x1="237.80" y1="684.43" x2="237.80" y2="694.37" stroke="#222" stroke-width="0.5"/>
<rect x="237.10" y="687.35" width="1.4" height="3.69" fill="#222"/>
<circle cx="237.80" cy="689.20" r="0.7" fill="#fff"/>
<text x="303.90" y="576.50" font-size="11" text-anchor="start" fill="#000" font-weight="bold">f</text>
<rect x="354.2" y="581.4" width="219.00000000000006" height="120.30000000000007" fill="none" stroke="#5a5a5a" stroke-width="1"/>
<line x1="351.7" y1="696.10" x2="354.2" y2="696.10" stroke="#5a5a5a" stroke-width="0.9"/>
<text x="349.50" y="698.84" font-size="7.6" text-anchor="end" fill="#1a1a1a" stroke="#1a1a1a" stroke-width="0.22">0</text>
<line x1="351.7" y1="668.80" x2="354.2" y2="668.80" stroke="#5a5a5a" stroke-width="0.9"/>
<text x="349.50" y="671.54" font-size="7.6" text-anchor="end" fill="#1a1a1a" stroke="#1a1a1a" stroke-width="0.22">5</text>
<line x1="351.7" y1="641.50" x2="354.2" y2="641.50" stroke="#5a5a5a" stroke-width="0.9"/>
<text x="349.50" y="644.24" font-size="7.6" text-anchor="end" fill="#1a1a1a" stroke="#1a1a1a" stroke-width="0.22">10</text>
<line x1="351.7" y1="614.20" x2="354.2" y2="614.20" stroke="#5a5a5a" stroke-width="0.9"/>
<text x="349.50" y="616.94" font-size="7.6" text-anchor="end" fill="#1a1a1a" stroke="#1a1a1a" stroke-width="0.22">15</text>
<line x1="351.7" y1="586.90" x2="354.2" y2="586.90" stroke="#5a5a5a" stroke-width="0.9"/>
<text x="349.50" y="589.64" font-size="7.6" text-anchor="end" fill="#1a1a1a" stroke="#1a1a1a" stroke-width="0.22">20</text>
<line x1="366.90" y1="701.7" x2="366.90" y2="704.2" stroke="#5a5a5a" stroke-width="0.9"/>
<text x="366.90" y="713.60" font-size="7.2" text-anchor="middle" fill="#1a1a1a" stroke="#1a1a1a" stroke-width="0.22">100</text>
<text x="366.90" y="722.40" font-size="7.2" text-anchor="middle" fill="#1a1a1a" stroke="#1a1a1a" stroke-width="0.22">0</text>
<line x1="386.29" y1="701.7" x2="386.29" y2="704.2" stroke="#5a5a5a" stroke-width="0.9"/>
<text x="386.29" y="713.60" font-size="7.2" text-anchor="middle" fill="#1a1a1a" stroke="#1a1a1a" stroke-width="0.22">90</text>
<text x="386.29" y="722.40" font-size="7.2" text-anchor="middle" fill="#1a1a1a" stroke="#1a1a1a" stroke-width="0.22">10</text>
<line x1="405.68" y1="701.7" x2="405.68" y2="704.2" stroke="#5a5a5a" stroke-width="0.9"/>
<text x="405.68" y="713.60" font-size="7.2" text-anchor="middle" fill="#1a1a1a" stroke="#1a1a1a" stroke-width="0.22">80</text>
<text x="405.68" y="722.40" font-size="7.2" text-anchor="middle" fill="#1a1a1a" stroke="#1a1a1a" stroke-width="0.22">20</text>
<line x1="425.07" y1="701.7" x2="425.07" y2="704.2" stroke="#5a5a5a" stroke-width="0.9"/>
<text x="425.07" y="713.60" font-size="7.2" text-anchor="middle" fill="#1a1a1a" stroke="#1a1a1a" stroke-width="0.22">70</text>
<text x="425.07" y="722.40" font-size="7.2" text-anchor="middle" fill="#1a1a1a" stroke="#1a1a1a" stroke-width="0.22">30</text>
<line x1="444.46" y1="701.7" x2="444.46" y2="704.2" stroke="#5a5a5a" stroke-width="0.9"/>
<text x="444.46" y="713.60" font-size="7.2" text-anchor="middle" fill="#1a1a1a" stroke="#1a1a1a" stroke-width="0.22">60</text>
<text x="444.46" y="722.40" font-size="7.2" text-anchor="middle" fill="#1a1a1a" stroke="#1a1a1a" stroke-width="0.22">40</text>
<line x1="463.85" y1="701.7" x2="463.85" y2="704.2" stroke="#5a5a5a" stroke-width="0.9"/>
<text x="463.85" y="713.60" font-size="7.2" text-anchor="middle" fill="#1a1a1a" stroke="#1a1a1a" stroke-width="0.22">50</text>
<text x="463.85" y="722.40" font-size="7.2" text-anchor="middle" fill="#1a1a1a" stroke="#1a1a1a" stroke-width="0.22">50</text>
<line x1="483.24" y1="701.7" x2="483.24" y2="704.2" stroke="#5a5a5a" stroke-width="0.9"/>
<text x="483.24" y="713.60" font-size="7.2" text-anchor="middle" fill="#1a1a1a" stroke="#1a1a1a" stroke-width="0.22">40</text>
<text x="483.24" y="722.40" font-size="7.2" text-anchor="middle" fill="#1a1a1a" stroke="#1a1a1a" stroke-width="0.22">60</text>
<line x1="502.63" y1="701.7" x2="502.63" y2="704.2" stroke="#5a5a5a" stroke-width="0.9"/>
<text x="502.63" y="713.60" font-size="7.2" text-anchor="middle" fill="#1a1a1a" stroke="#1a1a1a" stroke-width="0.22">30</text>
<text x="502.63" y="722.40" font-size="7.2" text-anchor="middle" fill="#1a1a1a" stroke="#1a1a1a" stroke-width="0.22">70</text>
<line x1="522.02" y1="701.7" x2="522.02" y2="704.2" stroke="#5a5a5a" stroke-width="0.9"/>
<text x="522.02" y="713.60" font-size="7.2" text-anchor="middle" fill="#1a1a1a" stroke="#1a1a1a" stroke-width="0.22">20</text>
<text x="522.02" y="722.40" font-size="7.2" text-anchor="middle" fill="#1a1a1a" stroke="#1a1a1a" stroke-width="0.22">80</text>
<line x1="541.41" y1="701.7" x2="541.41" y2="704.2" stroke="#5a5a5a" stroke-width="0.9"/>
<text x="541.41" y="713.60" font-size="7.2" text-anchor="middle" fill="#1a1a1a" stroke="#1a1a1a" stroke-width="0.22">10</text>
<text x="541.41" y="722.40" font-size="7.2" text-anchor="middle" fill="#1a1a1a" stroke="#1a1a1a" stroke-width="0.22">90</text>
<line x1="560.80" y1="701.7" x2="560.80" y2="704.2" stroke="#5a5a5a" stroke-width="0.9"/>
<text x="560.80" y="713.60" font-size="7.2" text-anchor="middle" fill="#1a1a1a" stroke="#1a1a1a" stroke-width="0.22">0</text>
<text x="560.80" y="722.40" font-size="7.2" text-anchor="middle" fill="#1a1a1a" stroke="#1a1a1a" stroke-width="0.22">100</text>
<text x="357.80" y="713.60" font-size="7.2" text-anchor="end" fill="#1a1a1a" stroke="#1a1a1a" stroke-width="0.22">HepG2</text>
<text x="357.80" y="722.40" font-size="7.2" text-anchor="end" fill="#1a1a1a" stroke="#1a1a1a" stroke-width="0.22">HSC</text>
<text x="462.40" y="734.60" font-size="8.4" text-anchor="middle" fill="#1a1a1a" stroke="#1a1a1a" stroke-width="0.22">Spheroid composition</text>
<text x="0" y="0" font-size="8.05" text-anchor="middle" fill="#1a1a1a" stroke="#1a1a1a" stroke-width="0.22" transform="translate(327.40,640.90) rotate(-90)">Type I collagen area per HSC cell</text>
<text x="0" y="0" font-size="8.5" text-anchor="middle" fill="#1a1a1a" stroke="#1a1a1a" stroke-width="0.22" transform="translate(336.10,642.00) rotate(-90)">(µm² / HSC)</text>
<line x1="386.29" y1="593.8" x2="386.29" y2="627.6" stroke="#555" stroke-width="0.8"/>
<line x1="383.89" y1="593.8" x2="388.69" y2="593.8" stroke="#555" stroke-width="0.8"/>
<line x1="383.89" y1="627.6" x2="388.69" y2="627.6" stroke="#555" stroke-width="0.8"/>
<line x1="405.68" y1="587.1" x2="405.68" y2="606.3" stroke="#555" stroke-width="0.8"/>
<line x1="403.28" y1="587.1" x2="408.08" y2="587.1" stroke="#555" stroke-width="0.8"/>
<line x1="403.28" y1="606.3" x2="408.08" y2="606.3" stroke="#555" stroke-width="0.8"/>
<line x1="425.07" y1="602.1" x2="425.07" y2="614" stroke="#555" stroke-width="0.8"/>
<line x1="422.67" y1="602.1" x2="427.47" y2="602.1" stroke="#555" stroke-width="0.8"/>
<line x1="422.67" y1="614" x2="427.47" y2="614" stroke="#555" stroke-width="0.8"/>
<line x1="444.46" y1="610.5" x2="444.46" y2="622.4" stroke="#555" stroke-width="0.8"/>
<line x1="442.06" y1="610.5" x2="446.86" y2="610.5" stroke="#555" stroke-width="0.8"/>
<line x1="442.06" y1="622.4" x2="446.86" y2="622.4" stroke="#555" stroke-width="0.8"/>
<line x1="463.85" y1="612" x2="463.85" y2="618.8" stroke="#555" stroke-width="0.8"/>
<line x1="461.45" y1="612" x2="466.25" y2="612" stroke="#555" stroke-width="0.8"/>
<line x1="461.45" y1="618.8" x2="466.25" y2="618.8" stroke="#555" stroke-width="0.8"/>
<line x1="483.24" y1="655" x2="483.24" y2="661.5" stroke="#555" stroke-width="0.8"/>
<line x1="480.84" y1="655" x2="485.64" y2="655" stroke="#555" stroke-width="0.8"/>
<line x1="480.84" y1="661.5" x2="485.64" y2="661.5" stroke="#555" stroke-width="0.8"/>
<line x1="502.63" y1="678.9" x2="502.63" y2="685" stroke="#555" stroke-width="0.8"/>
<line x1="500.23" y1="678.9" x2="505.03" y2="678.9" stroke="#555" stroke-width="0.8"/>
<line x1="500.23" y1="685" x2="505.03" y2="685" stroke="#555" stroke-width="0.8"/>
<line x1="522.02" y1="684.7" x2="522.02" y2="691.1" stroke="#555" stroke-width="0.8"/>
<line x1="519.62" y1="684.7" x2="524.42" y2="684.7" stroke="#555" stroke-width="0.8"/>
<line x1="519.62" y1="691.1" x2="524.42" y2="691.1" stroke="#555" stroke-width="0.8"/>
<line x1="541.41" y1="691" x2="541.41" y2="693.6" stroke="#555" stroke-width="0.8"/>
<line x1="539.01" y1="691" x2="543.81" y2="691" stroke="#555" stroke-width="0.8"/>
<line x1="539.01" y1="693.6" x2="543.81" y2="693.6" stroke="#555" stroke-width="0.8"/>
<polyline points="366.90,696.10 386.29,610.90 405.68,596.70 425.07,608.00 444.46,616.30 463.85,615.30 483.24,658.10 502.63,681.90 522.02,688.10 541.41,692.30 560.80,696.20" fill="none" stroke="#c4464e" stroke-width="1"/>
<circle cx="366.90" cy="696.10" r="2.0" fill="#e84040" stroke="#1a0000" stroke-width="0.8"/>
<circle cx="366.90" cy="696.10" r="0.7" fill="#ffd0d0"/>
<circle cx="386.29" cy="610.90" r="2.0" fill="#e84040" stroke="#1a0000" stroke-width="0.8"/>
<circle cx="386.29" cy="610.90" r="0.7" fill="#ffd0d0"/>
<circle cx="405.68" cy="596.70" r="2.0" fill="#e84040" stroke="#1a0000" stroke-width="0.8"/>
<circle cx="405.68" cy="596.70" r="0.7" fill="#ffd0d0"/>
<circle cx="425.07" cy="608.00" r="2.0" fill="#e84040" stroke="#1a0000" stroke-width="0.8"/>
<circle cx="425.07" cy="608.00" r="0.7" fill="#ffd0d0"/>
<circle cx="444.46" cy="616.30" r="2.0" fill="#e84040" stroke="#1a0000" stroke-width="0.8"/>
<circle cx="444.46" cy="616.30" r="0.7" fill="#ffd0d0"/>
<circle cx="463.85" cy="615.30" r="2.0" fill="#e84040" stroke="#1a0000" stroke-width="0.8"/>
<circle cx="463.85" cy="615.30" r="0.7" fill="#ffd0d0"/>
<circle cx="483.24" cy="658.10" r="2.0" fill="#e84040" stroke="#1a0000" stroke-width="0.8"/>
<circle cx="483.24" cy="658.10" r="0.7" fill="#ffd0d0"/>
<circle cx="502.63" cy="681.90" r="2.0" fill="#e84040" stroke="#1a0000" stroke-width="0.8"/>
<circle cx="502.63" cy="681.90" r="0.7" fill="#ffd0d0"/>
<circle cx="522.02" cy="688.10" r="2.0" fill="#e84040" stroke="#1a0000" stroke-width="0.8"/>
<circle cx="522.02" cy="688.10" r="0.7" fill="#ffd0d0"/>
<circle cx="541.41" cy="692.30" r="2.0" fill="#e84040" stroke="#1a0000" stroke-width="0.8"/>
<circle cx="541.41" cy="692.30" r="0.7" fill="#ffd0d0"/>
<circle cx="560.80" cy="696.20" r="2.0" fill="#e84040" stroke="#1a0000" stroke-width="0.8"/>
<circle cx="560.80" cy="696.20" r="0.7" fill="#ffd0d0"/>
</svg></body></html>
